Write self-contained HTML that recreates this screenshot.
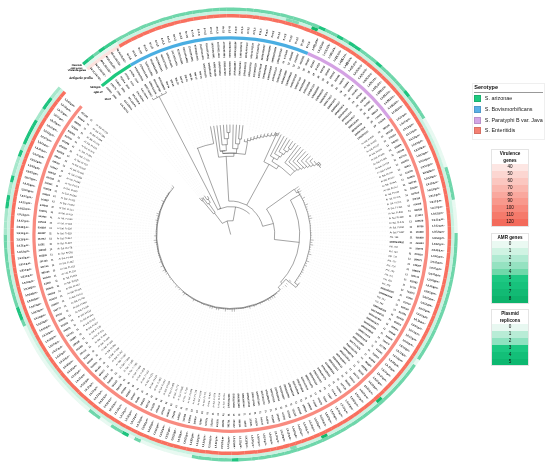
<!DOCTYPE html>
<html><head><meta charset="utf-8"><style>
html,body{margin:0;padding:0;background:#fff;width:550px;height:468px;overflow:hidden}
svg{position:absolute;left:0;top:0} text{text-rendering:geometricPrecision}
.lg{position:absolute;font-family:"Liberation Sans",Arial,sans-serif;color:#111}
</style></head><body>
<svg width="550" height="468" viewBox="0 0 550 468">
<rect width="550" height="468" fill="#fff"/>
<path d="M199.81,197.81L129.02,113.62M200.93,196.90L132.71,110.61M202.08,196.02L136.49,107.71M203.25,195.17L140.35,104.93M204.45,194.36L144.30,102.27M205.67,193.59L148.33,99.72M152.68,97.73L152.43,97.30M156.84,95.44L156.61,95.00M161.08,93.27L160.86,92.83M165.37,91.24L165.17,90.78M194.70,148.80L169.54,88.87M197.30,147.75L173.96,87.09M199.94,146.78L178.44,85.44M202.60,145.90L182.96,83.93M205.29,145.09L187.53,82.56M208.00,144.36L192.14,81.33M210.74,143.72L196.79,80.23M213.49,143.16L201.46,79.28M213.46,124.90L206.16,78.47M216.78,124.43L210.88,77.80M220.11,124.06L215.62,77.27M223.45,123.79L220.38,76.89M226.80,123.62L225.14,76.65M230.15,123.55L229.91,76.55M233.50,123.59L234.68,76.60M236.85,123.72L239.45,76.79M240.19,123.96L244.21,77.13M243.53,124.29L248.96,77.61M246.85,124.73L253.69,78.23M249.28,130.19L258.39,79.00M252.42,130.80L263.08,79.90M255.54,131.50L267.73,80.95M258.64,132.30L272.35,82.14M261.72,133.19L276.93,83.47M264.76,134.17L281.47,84.93M267.78,135.25L285.97,86.53M270.76,136.41L290.41,88.27M276.12,132.17L294.78,90.13M279.16,133.58L299.07,92.11M282.16,135.07L303.30,94.22M285.11,136.66L307.46,96.45M288.02,138.33L311.56,98.81M290.87,140.08L315.58,101.28M293.66,141.92L319.52,103.88M296.41,143.85L323.39,106.60M299.09,145.85L327.18,109.42M301.71,147.94L330.87,112.36M304.27,150.10L334.48,115.41M306.76,152.34L338.00,118.57M309.18,154.65L341.42,121.83M311.54,157.03L344.74,125.19M313.82,159.48L347.96,128.65M316.03,162.00L351.07,132.20M318.16,164.58L354.08,135.85M320.21,167.23L356.97,139.58M296.86,187.81L359.75,143.38M298.21,189.80L362.39,147.25M299.51,191.82L364.93,151.20M300.75,193.88L367.34,155.22M301.93,195.98L369.63,159.31M303.04,198.11L371.81,163.47M304.09,200.27L373.85,167.68M305.07,202.46L375.77,171.96M305.99,204.68L377.57,176.29M306.85,206.93L379.23,180.68M307.63,209.20L380.77,185.11M308.35,211.50L382.17,189.58M309.00,213.81L383.43,194.10M309.58,216.14L384.57,198.65M310.09,218.49L385.56,203.23M310.53,220.86L386.43,207.84M310.91,223.23L387.15,212.47M311.21,225.62L387.74,217.12M311.44,228.01L388.18,221.79M311.59,230.41L388.49,226.47M311.68,232.81L388.66,231.16M311.70,235.21L388.69,235.85M311.64,237.62L388.59,240.53M311.52,240.02L388.34,245.22M311.32,242.41L387.95,249.89M311.05,244.80L387.43,254.55M310.71,247.18L386.77,259.19M310.30,249.55L385.97,263.81M309.82,251.91L385.03,268.41M309.27,254.25L383.96,272.97M308.65,256.57L382.75,277.50M307.96,258.87L381.41,281.99M307.21,261.15L379.93,286.45M306.38,263.41L378.33,290.85M305.49,265.65L376.59,295.21M304.54,267.85L374.73,299.51M303.52,270.03L372.74,303.76M302.43,272.17L370.62,307.94M301.28,274.29L368.38,312.06M300.07,276.36L366.02,316.11M298.80,278.40L363.54,320.09M297.47,280.40L360.94,323.99M296.08,282.37L358.23,327.82M290.69,281.21L355.41,331.56M289.28,282.97L352.48,335.22M287.81,284.69L349.43,338.79M286.30,286.36L346.29,342.27M284.74,287.99L343.04,345.65M283.13,289.57L339.69,348.94M281.47,291.10L336.25,352.12M279.77,292.58L332.72,355.20M278.03,294.01L329.09,358.17M276.24,295.39L325.38,361.04M274.42,296.72L321.59,363.79M272.55,297.99L317.71,366.43M270.65,299.20L313.76,368.96M268.72,300.36L309.73,371.36M266.75,301.46L305.64,373.65M264.74,302.50L301.48,375.81M262.71,303.48L297.25,377.85M260.65,304.40L292.97,379.76M258.57,305.26L288.64,381.54M256.46,306.05L284.25,383.20M254.32,306.78L279.81,384.72M252.17,307.45L275.34,386.11M250.00,308.06L270.82,387.37M247.81,308.60L266.27,388.49M245.60,309.07L261.68,389.48M243.39,309.48L257.07,390.33M241.16,309.83L252.44,391.05M238.92,310.10L247.78,391.62M236.67,310.32L243.12,392.06M234.42,310.46L238.44,392.36M232.17,310.54L233.75,392.52M229.91,310.55L229.06,392.54M227.66,310.49L224.37,392.42M225.40,310.37L219.69,392.17M223.16,310.17L215.02,391.77M220.92,309.92L210.36,391.24M218.68,309.59L205.72,390.56M216.46,309.20L201.10,389.75M214.25,308.75L196.51,388.81M212.06,308.23L191.95,387.72M209.88,307.64L187.42,386.51M207.72,306.99L182.93,385.15M205.58,306.28L178.48,383.67M203.46,305.50L174.08,382.06M201.37,304.66L169.73,380.31M199.30,303.76L165.43,378.44M197.26,302.80L161.19,376.44M195.25,301.78L157.01,374.31M193.27,300.70L152.89,372.06M191.33,299.56L148.84,369.69M189.42,298.36L144.87,367.20M187.54,297.11L140.97,364.60M185.70,295.80L137.15,361.88M183.90,294.43L133.42,359.05M182.15,293.02L129.76,356.11M180.43,291.55L126.20,353.06M178.77,290.04L122.73,349.90M177.14,288.47L119.35,346.65M175.57,286.86L116.08,343.30M174.04,285.20L112.90,339.85M172.56,283.50L109.83,336.30M171.13,281.75L106.86,332.67M169.76,279.96L104.00,328.96M168.44,278.13L101.26,325.15M167.17,276.26L98.63,321.27M165.96,274.36L96.11,317.32M164.81,272.42L93.72,313.29M163.71,270.45L91.44,309.19M162.68,268.45L89.29,305.02M161.70,266.41L87.26,300.79M160.79,264.35L85.35,296.51M159.93,262.26L83.58,292.17M159.14,260.15L81.94,287.78M158.41,258.02L80.42,283.34M157.75,255.86L79.04,278.86M157.15,253.69L77.79,274.34M156.61,251.50L76.68,269.78M156.14,249.29L75.70,265.20M155.74,247.07L74.86,260.58M155.40,244.84L74.16,255.95M155.13,242.60L73.59,251.29M154.92,240.36L73.16,246.62M154.78,238.11L72.87,241.94M154.71,235.85L72.72,237.26M154.71,233.60L72.71,232.57M154.77,231.34L72.84,227.88M154.90,229.09L73.11,223.20M155.09,226.84L73.51,218.53M155.35,224.60L74.06,213.87M155.68,222.37L74.74,209.23M156.08,220.15L75.56,204.61M156.54,217.94L76.52,200.02M157.06,215.75L77.61,195.46M157.65,213.57L78.84,190.94M158.31,211.41L80.20,186.45M159.03,209.28L81.69,182.01M159.81,207.16L83.32,177.61M160.65,205.07L85.07,173.26M161.56,203.00L86.96,168.96M162.52,200.96L88.96,164.73M163.55,198.96L91.10,160.55M164.64,196.98L93.36,156.44M165.78,195.04L95.73,152.40M166.98,193.13L98.23,148.43M168.24,191.25L100.85,144.54M169.55,189.42L103.57,140.73M170.92,187.62L106.41,136.99M172.34,185.87L109.36,133.35" stroke="#e6e6e6" stroke-width="0.25" stroke-dasharray="1.6,1.2" fill="none"/>
<path d="M82.01,63.02A227.0,227.0 0 0 1 87.40,58.50L89.55,61.13A223.6,223.6 0 0 0 84.24,65.59Z" fill="#1ec47f"/>
<path d="M87.25,58.62A227.0,227.0 0 0 1 92.77,54.26L94.84,56.96A223.6,223.6 0 0 0 89.40,61.26Z" fill="#3dcc8f"/>
<path d="M92.62,54.38A227.0,227.0 0 0 1 98.27,50.18L100.25,52.95A223.6,223.6 0 0 0 94.68,57.08Z" fill="#6ed6aa"/>
<path d="M98.11,50.30A227.0,227.0 0 0 1 103.88,46.28L105.78,49.10A223.6,223.6 0 0 0 100.09,53.06Z" fill="#1ec47f"/>
<path d="M103.72,46.39A227.0,227.0 0 0 1 109.61,42.54L111.43,45.42A223.6,223.6 0 0 0 105.62,49.21Z" fill="#3dcc8f"/>
<path d="M109.45,42.65A227.0,227.0 0 0 1 115.45,38.98L117.18,41.91A223.6,223.6 0 0 0 111.26,45.52Z" fill="#3dcc8f"/>
<path d="M115.28,39.08A227.0,227.0 0 0 1 121.41,35.59L123.05,38.57A223.6,223.6 0 0 0 117.01,42.01Z" fill="#6ed6aa"/>
<path d="M121.24,35.69A227.0,227.0 0 0 1 127.47,32.38L129.01,35.41A223.6,223.6 0 0 0 122.88,38.66Z" fill="#6ed6aa"/>
<path d="M127.29,32.47A227.0,227.0 0 0 1 133.62,29.36L135.07,32.43A223.6,223.6 0 0 0 128.84,35.50Z" fill="#6ed6aa"/>
<path d="M133.44,29.44A227.0,227.0 0 0 1 139.86,26.52L141.22,29.64A223.6,223.6 0 0 0 134.90,32.51Z" fill="#6ed6aa"/>
<path d="M139.68,26.60A227.0,227.0 0 0 1 146.18,23.87L147.44,27.03A223.6,223.6 0 0 0 141.04,29.71Z" fill="#6ed6aa"/>
<path d="M146.00,23.95A227.0,227.0 0 0 1 152.58,21.42L153.75,24.61A223.6,223.6 0 0 0 147.26,27.10Z" fill="#6ed6aa"/>
<path d="M152.39,21.48A227.0,227.0 0 0 1 159.05,19.16L160.12,22.38A223.6,223.6 0 0 0 153.56,24.68Z" fill="#6ed6aa"/>
<path d="M158.86,19.22A227.0,227.0 0 0 1 165.58,17.09L166.56,20.35A223.6,223.6 0 0 0 159.94,22.44Z" fill="#6ed6aa"/>
<path d="M165.39,17.15A227.0,227.0 0 0 1 172.18,15.22L173.05,18.51A223.6,223.6 0 0 0 166.37,20.40Z" fill="#6ed6aa"/>
<path d="M171.99,15.27A227.0,227.0 0 0 1 178.83,13.56L179.60,16.87A223.6,223.6 0 0 0 172.87,18.56Z" fill="#6ed6aa"/>
<path d="M178.63,13.60A227.0,227.0 0 0 1 185.52,12.09L186.20,15.42A223.6,223.6 0 0 0 179.41,16.91Z" fill="#6ed6aa"/>
<path d="M185.33,12.13A227.0,227.0 0 0 1 192.26,10.83L192.83,14.18A223.6,223.6 0 0 0 186.01,15.46Z" fill="#6ed6aa"/>
<path d="M192.06,10.86A227.0,227.0 0 0 1 199.03,9.77L199.50,13.14A223.6,223.6 0 0 0 192.64,14.21Z" fill="#6ed6aa"/>
<path d="M198.83,9.80A227.0,227.0 0 0 1 205.83,8.92L206.20,12.30A223.6,223.6 0 0 0 199.31,13.16Z" fill="#6ed6aa"/>
<path d="M205.63,8.94A227.0,227.0 0 0 1 212.65,8.27L212.92,11.66A223.6,223.6 0 0 0 206.01,12.32Z" fill="#6ed6aa"/>
<path d="M212.46,8.28A227.0,227.0 0 0 1 219.49,7.83L219.66,11.22A223.6,223.6 0 0 0 212.73,11.67Z" fill="#6ed6aa"/>
<path d="M219.29,7.84A227.0,227.0 0 0 1 226.34,7.59L226.41,10.99A223.6,223.6 0 0 0 219.47,11.23Z" fill="#6ed6aa"/>
<path d="M226.14,7.60A227.0,227.0 0 0 1 233.20,7.56L233.16,10.96A223.6,223.6 0 0 0 226.21,11.00Z" fill="#6ed6aa"/>
<path d="M233.00,7.56A227.0,227.0 0 0 1 240.05,7.74L239.91,11.14A223.6,223.6 0 0 0 232.96,10.96Z" fill="#6ed6aa"/>
<path d="M239.85,7.73A227.0,227.0 0 0 1 246.89,8.13L246.65,11.52A223.6,223.6 0 0 0 239.71,11.13Z" fill="#6ed6aa"/>
<path d="M246.69,8.11A227.0,227.0 0 0 1 253.72,8.72L253.37,12.10A223.6,223.6 0 0 0 246.45,11.51Z" fill="#6ed6aa"/>
<path d="M253.52,8.70A227.0,227.0 0 0 1 260.53,9.52L260.08,12.89A223.6,223.6 0 0 0 253.18,12.08Z" fill="#6ed6aa"/>
<path d="M260.33,9.49A227.0,227.0 0 0 1 267.31,10.52L266.76,13.88A223.6,223.6 0 0 0 259.89,12.86Z" fill="#6ed6aa"/>
<path d="M267.11,10.49A227.0,227.0 0 0 1 274.05,11.73L273.40,15.07A223.6,223.6 0 0 0 266.56,13.85Z" fill="#6ed6aa"/>
<path d="M273.86,11.69A227.0,227.0 0 0 1 280.76,13.14L280.01,16.45A223.6,223.6 0 0 0 273.21,15.03Z" fill="#6ed6aa"/>
<path d="M280.57,13.09A227.0,227.0 0 0 1 287.42,14.75L286.57,18.04A223.6,223.6 0 0 0 279.82,16.41Z" fill="#6ed6aa"/>
<path d="M287.23,14.70A227.0,227.0 0 0 1 294.03,16.56L293.08,19.83A223.6,223.6 0 0 0 286.38,17.99Z" fill="#6ed6aa"/>
<path d="M293.84,16.51A227.0,227.0 0 0 1 300.58,18.57L299.54,21.81A223.6,223.6 0 0 0 292.90,19.77Z" fill="#6ed6aa"/>
<path d="M300.39,18.51A227.0,227.0 0 0 1 307.07,20.78L305.93,23.98A223.6,223.6 0 0 0 299.35,21.75Z" fill="#6ed6aa"/>
<path d="M306.88,20.72A227.0,227.0 0 0 1 313.49,23.19L312.25,26.35A223.6,223.6 0 0 0 305.74,23.92Z" fill="#6ed6aa"/>
<path d="M313.31,23.11A227.0,227.0 0 0 1 319.83,25.78L318.50,28.91A223.6,223.6 0 0 0 312.07,26.28Z" fill="#6ed6aa"/>
<path d="M319.65,25.70A227.0,227.0 0 0 1 326.04,28.54L324.61,31.63A223.6,223.6 0 0 0 318.32,28.83Z" fill="#1ec47f"/>
<path d="M325.86,28.46A227.0,227.0 0 0 1 332.15,31.48L330.63,34.52A223.6,223.6 0 0 0 324.43,31.54Z" fill="#6ed6aa"/>
<path d="M331.98,31.39A227.0,227.0 0 0 1 338.18,34.61L336.57,37.60A223.6,223.6 0 0 0 330.46,34.44Z" fill="#6ed6aa"/>
<path d="M338.00,34.51A227.0,227.0 0 0 1 344.11,37.91L342.41,40.85A223.6,223.6 0 0 0 336.40,37.51Z" fill="#1ec47f"/>
<path d="M343.94,37.81A227.0,227.0 0 0 1 349.94,41.39L348.15,44.28A223.6,223.6 0 0 0 342.24,40.76Z" fill="#6ed6aa"/>
<path d="M349.77,41.28A227.0,227.0 0 0 1 355.66,45.04L353.79,47.88A223.6,223.6 0 0 0 347.99,44.18Z" fill="#1ec47f"/>
<path d="M355.49,44.93A227.0,227.0 0 0 1 361.27,48.86L359.31,51.64A223.6,223.6 0 0 0 353.62,47.77Z" fill="#1ec47f"/>
<path d="M361.11,48.75A227.0,227.0 0 0 1 366.76,52.85L364.72,55.57A223.6,223.6 0 0 0 359.15,51.53Z" fill="#6ed6aa"/>
<path d="M366.60,52.73A227.0,227.0 0 0 1 372.13,57.00L370.02,59.66A223.6,223.6 0 0 0 364.57,55.45Z" fill="#6ed6aa"/>
<path d="M371.98,56.87A227.0,227.0 0 0 1 377.38,61.30L375.18,63.90A223.6,223.6 0 0 0 369.86,59.53Z" fill="#6ed6aa"/>
<path d="M377.23,61.18A227.0,227.0 0 0 1 382.49,65.77L380.22,68.30A223.6,223.6 0 0 0 375.03,63.77Z" fill="#1ec47f"/>
<path d="M382.35,65.64A227.0,227.0 0 0 1 387.47,70.38L385.12,72.84A223.6,223.6 0 0 0 380.08,68.17Z" fill="#6ed6aa"/>
<path d="M387.33,70.24A227.0,227.0 0 0 1 392.31,75.14L389.89,77.53A223.6,223.6 0 0 0 384.98,72.71Z" fill="#6ed6aa"/>
<path d="M392.17,75.00A227.0,227.0 0 0 1 397.01,80.05L394.51,82.36A223.6,223.6 0 0 0 389.75,77.39Z" fill="#6ed6aa"/>
<path d="M396.87,79.90A227.0,227.0 0 0 1 401.55,85.09L398.99,87.33A223.6,223.6 0 0 0 394.38,82.22Z" fill="#6ed6aa"/>
<path d="M401.42,84.94A227.0,227.0 0 0 1 405.94,90.26L403.32,92.42A223.6,223.6 0 0 0 398.86,87.18Z" fill="#6ed6aa"/>
<path d="M405.82,90.11A227.0,227.0 0 0 1 410.18,95.57L407.49,97.65A223.6,223.6 0 0 0 403.19,92.27Z" fill="#1ec47f"/>
<path d="M410.06,95.41A227.0,227.0 0 0 1 414.25,100.99L411.50,102.99A223.6,223.6 0 0 0 407.37,97.49Z" fill="#6ed6aa"/>
<path d="M414.14,100.83A227.0,227.0 0 0 1 418.14,106.50L415.33,108.42A223.6,223.6 0 0 0 411.39,102.84Z" fill="#6ed6aa"/>
<path d="M418.02,106.34A227.0,227.0 0 0 1 421.85,112.12L418.99,113.95A223.6,223.6 0 0 0 415.22,108.26Z" fill="#6ed6aa"/>
<path d="M421.75,111.95A227.0,227.0 0 0 1 425.40,117.84L422.49,119.59A223.6,223.6 0 0 0 418.88,113.79Z" fill="#6ed6aa"/>
<path d="M425.30,117.68A227.0,227.0 0 0 1 428.78,123.67L425.81,125.33A223.6,223.6 0 0 0 422.39,119.43Z" fill="#e8f9f1"/>
<path d="M428.68,123.50A227.0,227.0 0 0 1 431.98,129.60L428.97,131.17A223.6,223.6 0 0 0 425.72,125.16Z" fill="#e8f9f1"/>
<path d="M431.89,129.43A227.0,227.0 0 0 1 435.01,135.62L431.95,137.10A223.6,223.6 0 0 0 428.88,131.00Z" fill="#e8f9f1"/>
<path d="M434.92,135.44A227.0,227.0 0 0 1 437.85,141.73L434.75,143.12A223.6,223.6 0 0 0 431.86,136.93Z" fill="#e8f9f1"/>
<path d="M437.77,141.55A227.0,227.0 0 0 1 440.52,147.91L437.37,149.21A223.6,223.6 0 0 0 434.67,142.94Z" fill="#e8f9f1"/>
<path d="M440.44,147.73A227.0,227.0 0 0 1 443.00,154.18L439.82,155.38A223.6,223.6 0 0 0 437.30,149.03Z" fill="#e8f9f1"/>
<path d="M442.93,153.99A227.0,227.0 0 0 1 445.29,160.51L442.07,161.62A223.6,223.6 0 0 0 439.75,155.20Z" fill="#e8f9f1"/>
<path d="M445.22,160.33A227.0,227.0 0 0 1 447.39,166.91L444.14,167.93A223.6,223.6 0 0 0 442.01,161.44Z" fill="#e8f9f1"/>
<path d="M447.33,166.72A227.0,227.0 0 0 1 449.30,173.37L446.03,174.29A223.6,223.6 0 0 0 444.09,167.74Z" fill="#6ed6aa"/>
<path d="M449.25,173.18A227.0,227.0 0 0 1 451.02,179.89L447.72,180.71A223.6,223.6 0 0 0 445.97,174.10Z" fill="#6ed6aa"/>
<path d="M450.97,179.70A227.0,227.0 0 0 1 452.55,186.45L449.22,187.17A223.6,223.6 0 0 0 447.67,180.52Z" fill="#6ed6aa"/>
<path d="M452.50,186.26A227.0,227.0 0 0 1 453.87,193.05L450.53,193.68A223.6,223.6 0 0 0 449.18,186.98Z" fill="#6ed6aa"/>
<path d="M453.84,192.86A227.0,227.0 0 0 1 455.01,199.69L451.65,200.22A223.6,223.6 0 0 0 450.50,193.48Z" fill="#6ed6aa"/>
<path d="M454.98,199.50A227.0,227.0 0 0 1 455.94,206.37L452.57,206.79A223.6,223.6 0 0 0 451.62,200.02Z" fill="#e8f9f1"/>
<path d="M455.92,206.17A227.0,227.0 0 0 1 456.68,213.06L453.30,213.38A223.6,223.6 0 0 0 452.55,206.59Z" fill="#e8f9f1"/>
<path d="M456.66,212.87A227.0,227.0 0 0 1 457.22,219.78L453.83,220.00A223.6,223.6 0 0 0 453.28,213.19Z" fill="#e8f9f1"/>
<path d="M457.21,219.58A227.0,227.0 0 0 1 457.56,226.51L454.16,226.63A223.6,223.6 0 0 0 453.81,219.80Z" fill="#e8f9f1"/>
<path d="M457.55,226.31A227.0,227.0 0 0 1 457.70,233.24L454.30,233.26A223.6,223.6 0 0 0 454.15,226.43Z" fill="#e8f9f1"/>
<path d="M457.70,233.04A227.0,227.0 0 0 1 457.64,239.98L454.24,239.90A223.6,223.6 0 0 0 454.30,233.07Z" fill="#6ed6aa"/>
<path d="M457.64,239.78A227.0,227.0 0 0 1 457.37,246.71L453.98,246.53A223.6,223.6 0 0 0 454.24,239.70Z" fill="#6ed6aa"/>
<path d="M457.38,246.51A227.0,227.0 0 0 1 456.91,253.43L453.53,253.15A223.6,223.6 0 0 0 453.99,246.33Z" fill="#6ed6aa"/>
<path d="M456.93,253.23A227.0,227.0 0 0 1 456.25,260.14L452.88,259.75A223.6,223.6 0 0 0 453.54,252.95Z" fill="#6ed6aa"/>
<path d="M456.28,259.94A227.0,227.0 0 0 1 455.39,266.82L452.03,266.33A223.6,223.6 0 0 0 452.90,259.56Z" fill="#6ed6aa"/>
<path d="M455.42,266.62A227.0,227.0 0 0 1 454.34,273.47L450.99,272.89A223.6,223.6 0 0 0 452.06,266.14Z" fill="#6ed6aa"/>
<path d="M454.37,273.28A227.0,227.0 0 0 1 453.09,280.09L449.75,279.41A223.6,223.6 0 0 0 451.02,272.70Z" fill="#6ed6aa"/>
<path d="M453.12,279.90A227.0,227.0 0 0 1 451.64,286.67L448.33,285.89A223.6,223.6 0 0 0 449.79,279.22Z" fill="#6ed6aa"/>
<path d="M451.68,286.48A227.0,227.0 0 0 1 449.99,293.20L446.71,292.32A223.6,223.6 0 0 0 448.37,285.70Z" fill="#6ed6aa"/>
<path d="M450.04,293.01A227.0,227.0 0 0 1 448.15,299.68L444.90,298.71A223.6,223.6 0 0 0 446.76,292.14Z" fill="#6ed6aa"/>
<path d="M448.21,299.49A227.0,227.0 0 0 1 446.13,306.11L442.90,305.04A223.6,223.6 0 0 0 444.95,298.52Z" fill="#6ed6aa"/>
<path d="M446.19,305.92A227.0,227.0 0 0 1 443.91,312.47L440.71,311.30A223.6,223.6 0 0 0 442.96,304.85Z" fill="#6ed6aa"/>
<path d="M443.98,312.28A227.0,227.0 0 0 1 441.50,318.76L438.34,317.50A223.6,223.6 0 0 0 440.78,311.12Z" fill="#6ed6aa"/>
<path d="M441.58,318.58A227.0,227.0 0 0 1 438.91,324.98L435.79,323.63A223.6,223.6 0 0 0 438.42,317.32Z" fill="#6ed6aa"/>
<path d="M438.99,324.80A227.0,227.0 0 0 1 436.14,331.12L433.06,329.67A223.6,223.6 0 0 0 435.87,323.45Z" fill="#6ed6aa"/>
<path d="M436.22,330.94A227.0,227.0 0 0 1 433.18,337.17L430.15,335.63A223.6,223.6 0 0 0 433.14,329.50Z" fill="#6ed6aa"/>
<path d="M433.27,337.00A227.0,227.0 0 0 1 430.04,343.14L427.06,341.51A223.6,223.6 0 0 0 430.23,335.46Z" fill="#6ed6aa"/>
<path d="M430.14,342.96A227.0,227.0 0 0 1 426.73,349.00L423.80,347.29A223.6,223.6 0 0 0 427.15,341.34Z" fill="#6ed6aa"/>
<path d="M426.83,348.83A227.0,227.0 0 0 1 423.25,354.77L420.37,352.97A223.6,223.6 0 0 0 423.90,347.12Z" fill="#6ed6aa"/>
<path d="M423.36,354.60A227.0,227.0 0 0 1 419.60,360.43L416.77,358.55A223.6,223.6 0 0 0 420.47,352.80Z" fill="#6ed6aa"/>
<path d="M419.71,360.27A227.0,227.0 0 0 1 415.78,365.98L413.01,364.01A223.6,223.6 0 0 0 416.88,358.38Z" fill="#e8f9f1"/>
<path d="M415.90,365.82A227.0,227.0 0 0 1 411.80,371.41L409.09,369.36A223.6,223.6 0 0 0 413.12,363.85Z" fill="#6ed6aa"/>
<path d="M411.92,371.26A227.0,227.0 0 0 1 407.66,376.73L405.01,374.60A223.6,223.6 0 0 0 409.20,369.21Z" fill="#6ed6aa"/>
<path d="M407.78,376.57A227.0,227.0 0 0 1 403.36,381.92L400.78,379.71A223.6,223.6 0 0 0 405.13,374.45Z" fill="#6ed6aa"/>
<path d="M403.49,381.77A227.0,227.0 0 0 1 398.91,386.98L396.39,384.69A223.6,223.6 0 0 0 400.90,379.56Z" fill="#6ed6aa"/>
<path d="M399.05,386.83A227.0,227.0 0 0 1 394.32,391.90L391.86,389.54A223.6,223.6 0 0 0 396.52,384.55Z" fill="#6ed6aa"/>
<path d="M394.45,391.76A227.0,227.0 0 0 1 389.57,396.69L387.19,394.26A223.6,223.6 0 0 0 392.00,389.40Z" fill="#6ed6aa"/>
<path d="M389.72,396.55A227.0,227.0 0 0 1 384.69,401.33L382.39,398.83A223.6,223.6 0 0 0 387.33,394.12Z" fill="#6ed6aa"/>
<path d="M384.84,401.19A227.0,227.0 0 0 1 379.68,405.83L377.44,403.26A223.6,223.6 0 0 0 382.53,398.70Z" fill="#6ed6aa"/>
<path d="M379.83,405.70A227.0,227.0 0 0 1 374.53,410.17L372.37,407.54A223.6,223.6 0 0 0 377.59,403.13Z" fill="#6ed6aa"/>
<path d="M374.68,410.05A227.0,227.0 0 0 1 369.25,414.36L367.18,411.67A223.6,223.6 0 0 0 372.52,407.42Z" fill="#6ed6aa"/>
<path d="M369.41,414.24A227.0,227.0 0 0 1 363.86,418.39L361.86,415.64A223.6,223.6 0 0 0 367.33,411.55Z" fill="#6ed6aa"/>
<path d="M364.02,418.28A227.0,227.0 0 0 1 358.34,422.26L356.43,419.45A223.6,223.6 0 0 0 362.02,415.53Z" fill="#6ed6aa"/>
<path d="M358.51,422.15A227.0,227.0 0 0 1 352.72,425.97L350.89,423.10A223.6,223.6 0 0 0 356.59,419.34Z" fill="#6ed6aa"/>
<path d="M352.88,425.86A227.0,227.0 0 0 1 346.98,429.51L345.24,426.59A223.6,223.6 0 0 0 351.05,423.00Z" fill="#6ed6aa"/>
<path d="M347.15,429.40A227.0,227.0 0 0 1 341.15,432.87L339.49,429.90A223.6,223.6 0 0 0 345.41,426.49Z" fill="#6ed6aa"/>
<path d="M341.32,432.77A227.0,227.0 0 0 1 335.21,436.06L333.65,433.04A223.6,223.6 0 0 0 339.66,429.80Z" fill="#6ed6aa"/>
<path d="M335.39,435.97A227.0,227.0 0 0 1 329.19,439.07L327.71,436.01A223.6,223.6 0 0 0 333.82,432.95Z" fill="#6ed6aa"/>
<path d="M329.36,438.99A227.0,227.0 0 0 1 323.07,441.91L321.69,438.80A223.6,223.6 0 0 0 327.89,435.92Z" fill="#6ed6aa"/>
<path d="M323.25,441.82A227.0,227.0 0 0 1 316.88,444.55L315.59,441.41A223.6,223.6 0 0 0 321.87,438.72Z" fill="#6ed6aa"/>
<path d="M317.06,444.48A227.0,227.0 0 0 1 310.61,447.02L309.41,443.84A223.6,223.6 0 0 0 315.77,441.34Z" fill="#6ed6aa"/>
<path d="M310.80,446.95A227.0,227.0 0 0 1 304.27,449.30L303.17,446.08A223.6,223.6 0 0 0 309.60,443.77Z" fill="#6ed6aa"/>
<path d="M304.46,449.23A227.0,227.0 0 0 1 297.86,451.39L296.86,448.14A223.6,223.6 0 0 0 303.35,446.02Z" fill="#6ed6aa"/>
<path d="M298.05,451.33A227.0,227.0 0 0 1 291.40,453.28L290.49,450.01A223.6,223.6 0 0 0 297.05,448.08Z" fill="#6ed6aa"/>
<path d="M291.59,453.23A227.0,227.0 0 0 1 284.88,454.99L284.07,451.69A223.6,223.6 0 0 0 290.68,449.96Z" fill="#6ed6aa"/>
<path d="M285.08,454.94A227.0,227.0 0 0 1 278.32,456.50L277.60,453.18A223.6,223.6 0 0 0 284.26,451.64Z" fill="#6ed6aa"/>
<path d="M278.51,456.46A227.0,227.0 0 0 1 271.71,457.81L271.10,454.47A223.6,223.6 0 0 0 277.80,453.13Z" fill="#6ed6aa"/>
<path d="M271.91,457.78A227.0,227.0 0 0 1 265.07,458.93L264.55,455.57A223.6,223.6 0 0 0 271.29,454.44Z" fill="#6ed6aa"/>
<path d="M265.26,458.90A227.0,227.0 0 0 1 258.39,459.85L257.98,456.48A223.6,223.6 0 0 0 264.75,455.54Z" fill="#6ed6aa"/>
<path d="M258.59,459.83A227.0,227.0 0 0 1 251.70,460.58L251.38,457.19A223.6,223.6 0 0 0 258.17,456.46Z" fill="#6ed6aa"/>
<path d="M251.89,460.56A227.0,227.0 0 0 1 244.98,461.10L244.77,457.71A223.6,223.6 0 0 0 251.58,457.17Z" fill="#6ed6aa"/>
<path d="M245.18,461.09A227.0,227.0 0 0 1 238.25,461.42L238.14,458.03A223.6,223.6 0 0 0 244.96,457.69Z" fill="#6ed6aa"/>
<path d="M238.45,461.42A227.0,227.0 0 0 1 231.51,461.55L231.50,458.15A223.6,223.6 0 0 0 238.33,458.02Z" fill="#1ec47f"/>
<path d="M231.71,461.55A227.0,227.0 0 0 1 224.78,461.47L224.87,458.07A223.6,223.6 0 0 0 231.70,458.15Z" fill="#6ed6aa"/>
<path d="M224.98,461.48A227.0,227.0 0 0 1 218.05,461.20L218.24,457.80A223.6,223.6 0 0 0 225.06,458.08Z" fill="#6ed6aa"/>
<path d="M218.25,461.21A227.0,227.0 0 0 1 211.33,460.72L211.62,457.33A223.6,223.6 0 0 0 218.43,457.81Z" fill="#6ed6aa"/>
<path d="M211.52,460.74A227.0,227.0 0 0 1 204.62,460.05L205.01,456.67A223.6,223.6 0 0 0 211.81,457.35Z" fill="#6ed6aa"/>
<path d="M204.82,460.07A227.0,227.0 0 0 1 197.94,459.17L198.43,455.81A223.6,223.6 0 0 0 205.21,456.69Z" fill="#6ed6aa"/>
<path d="M198.14,459.20A227.0,227.0 0 0 1 191.29,458.10L191.88,454.75A223.6,223.6 0 0 0 198.63,455.84Z" fill="#6ed6aa"/>
<path d="M191.49,458.14A227.0,227.0 0 0 1 184.68,456.84L185.37,453.51A223.6,223.6 0 0 0 192.08,454.79Z" fill="#e8f9f1"/>
<path d="M184.87,456.88A227.0,227.0 0 0 1 178.10,455.37L178.89,452.06A223.6,223.6 0 0 0 185.56,453.55Z" fill="#e8f9f1"/>
<path d="M178.29,455.42A227.0,227.0 0 0 1 171.57,453.71L172.46,450.43A223.6,223.6 0 0 0 179.08,452.11Z" fill="#e8f9f1"/>
<path d="M171.76,453.77A227.0,227.0 0 0 1 165.09,451.86L166.08,448.61A223.6,223.6 0 0 0 172.65,450.48Z" fill="#e8f9f1"/>
<path d="M165.28,451.92A227.0,227.0 0 0 1 158.67,449.82L159.75,446.60A223.6,223.6 0 0 0 166.26,448.66Z" fill="#e8f9f1"/>
<path d="M158.86,449.88A227.0,227.0 0 0 1 152.32,447.59L153.49,444.40A223.6,223.6 0 0 0 159.94,446.66Z" fill="#e8f9f1"/>
<path d="M152.50,447.66A227.0,227.0 0 0 1 146.03,445.17L147.30,442.01A223.6,223.6 0 0 0 153.67,444.46Z" fill="#e8f9f1"/>
<path d="M146.21,445.24A227.0,227.0 0 0 1 139.82,442.56L141.18,439.45A223.6,223.6 0 0 0 147.48,442.09Z" fill="#e8f9f1"/>
<path d="M140.00,442.64A227.0,227.0 0 0 1 133.69,439.77L135.14,436.70A223.6,223.6 0 0 0 141.36,439.53Z" fill="#6ed6aa"/>
<path d="M133.86,439.86A227.0,227.0 0 0 1 127.64,436.81L129.18,433.78A223.6,223.6 0 0 0 135.31,436.78Z" fill="#e8f9f1"/>
<path d="M127.81,436.90A227.0,227.0 0 0 1 121.68,433.66L123.31,430.68A223.6,223.6 0 0 0 129.36,433.86Z" fill="#1ec47f"/>
<path d="M121.86,433.75A227.0,227.0 0 0 1 115.82,430.34L117.54,427.40A223.6,223.6 0 0 0 123.49,430.77Z" fill="#6ed6aa"/>
<path d="M115.99,430.44A227.0,227.0 0 0 1 110.06,426.84L111.87,423.96A223.6,223.6 0 0 0 117.71,427.50Z" fill="#6ed6aa"/>
<path d="M110.23,426.95A227.0,227.0 0 0 1 104.41,423.18L106.30,420.35A223.6,223.6 0 0 0 112.03,424.06Z" fill="#e8f9f1"/>
<path d="M104.57,423.29A227.0,227.0 0 0 1 98.87,419.34L100.84,416.58A223.6,223.6 0 0 0 106.46,420.46Z" fill="#e8f9f1"/>
<path d="M99.03,419.46A227.0,227.0 0 0 1 93.44,415.35L95.50,412.64A223.6,223.6 0 0 0 101.00,416.69Z" fill="#6ed6aa"/>
<path d="M93.60,415.47A227.0,227.0 0 0 1 88.14,411.20L90.27,408.55A223.6,223.6 0 0 0 95.65,412.76Z" fill="#6ed6aa"/>
<path d="M88.29,411.32A227.0,227.0 0 0 1 82.96,406.89L85.17,404.31A223.6,223.6 0 0 0 90.42,408.68Z" fill="#e8f9f1"/>
<path d="M83.11,407.02A227.0,227.0 0 0 1 77.91,402.43L80.20,399.92A223.6,223.6 0 0 0 85.32,404.44Z" fill="#e8f9f1"/>
<path d="M78.06,402.56A227.0,227.0 0 0 1 72.99,397.82L75.36,395.38A223.6,223.6 0 0 0 80.34,400.05Z" fill="#e8f9f1"/>
<path d="M73.14,397.96A227.0,227.0 0 0 1 68.22,393.07L70.65,390.70A223.6,223.6 0 0 0 75.50,395.51Z" fill="#e8f9f1"/>
<path d="M68.36,393.21A227.0,227.0 0 0 1 63.59,388.18L66.09,385.88A223.6,223.6 0 0 0 70.79,390.84Z" fill="#e8f9f1"/>
<path d="M63.72,388.33A227.0,227.0 0 0 1 59.10,383.15L61.67,380.93A223.6,223.6 0 0 0 66.22,386.02Z" fill="#e8f9f1"/>
<path d="M59.23,383.30A227.0,227.0 0 0 1 54.77,378.00L57.40,375.85A223.6,223.6 0 0 0 61.80,381.07Z" fill="#e8f9f1"/>
<path d="M54.89,378.15A227.0,227.0 0 0 1 50.59,372.71L53.29,370.64A223.6,223.6 0 0 0 57.53,376.00Z" fill="#e8f9f1"/>
<path d="M50.71,372.87A227.0,227.0 0 0 1 46.57,367.31L49.33,365.32A223.6,223.6 0 0 0 53.40,370.80Z" fill="#e8f9f1"/>
<path d="M46.68,367.47A227.0,227.0 0 0 1 42.71,361.78L45.52,359.88A223.6,223.6 0 0 0 49.44,365.48Z" fill="#e8f9f1"/>
<path d="M42.82,361.95A227.0,227.0 0 0 1 39.02,356.15L41.89,354.33A223.6,223.6 0 0 0 45.63,360.04Z" fill="#e8f9f1"/>
<path d="M39.12,356.32A227.0,227.0 0 0 1 35.49,350.41L38.42,348.67A223.6,223.6 0 0 0 41.99,354.49Z" fill="#e8f9f1"/>
<path d="M35.59,350.58A227.0,227.0 0 0 1 32.14,344.56L35.11,342.92A223.6,223.6 0 0 0 38.52,348.84Z" fill="#e8f9f1"/>
<path d="M32.24,344.74A227.0,227.0 0 0 1 28.96,338.62L31.98,337.06A223.6,223.6 0 0 0 35.21,343.09Z" fill="#e8f9f1"/>
<path d="M29.05,338.80A227.0,227.0 0 0 1 25.96,332.59L29.03,331.12A223.6,223.6 0 0 0 32.07,337.24Z" fill="#e8f9f1"/>
<path d="M26.05,332.77A227.0,227.0 0 0 1 23.14,326.47L26.25,325.10A223.6,223.6 0 0 0 29.11,331.30Z" fill="#e8f9f1"/>
<path d="M23.22,326.65A227.0,227.0 0 0 1 20.51,320.27L23.66,318.99A223.6,223.6 0 0 0 26.33,325.27Z" fill="#6ed6aa"/>
<path d="M20.58,320.46A227.0,227.0 0 0 1 18.06,314.00L21.24,312.81A223.6,223.6 0 0 0 23.73,319.17Z" fill="#1ec47f"/>
<path d="M18.13,314.18A227.0,227.0 0 0 1 15.79,307.65L19.01,306.56A223.6,223.6 0 0 0 21.31,312.99Z" fill="#1ec47f"/>
<path d="M15.86,307.84A227.0,227.0 0 0 1 13.72,301.24L16.97,300.24A223.6,223.6 0 0 0 19.07,306.74Z" fill="#6ed6aa"/>
<path d="M13.78,301.43A227.0,227.0 0 0 1 11.83,294.78L15.11,293.87A223.6,223.6 0 0 0 17.03,300.43Z" fill="#6ed6aa"/>
<path d="M11.89,294.97A227.0,227.0 0 0 1 10.14,288.25L13.45,287.45A223.6,223.6 0 0 0 15.16,294.06Z" fill="#6ed6aa"/>
<path d="M10.19,288.45A227.0,227.0 0 0 1 8.65,281.69L11.97,280.98A223.6,223.6 0 0 0 13.49,287.64Z" fill="#6ed6aa"/>
<path d="M8.69,281.88A227.0,227.0 0 0 1 7.35,275.08L10.69,274.47A223.6,223.6 0 0 0 12.01,281.17Z" fill="#6ed6aa"/>
<path d="M7.38,275.27A227.0,227.0 0 0 1 6.24,268.43L9.60,267.92A223.6,223.6 0 0 0 10.73,274.66Z" fill="#6ed6aa"/>
<path d="M6.27,268.63A227.0,227.0 0 0 1 5.34,261.75L8.71,261.35A223.6,223.6 0 0 0 9.63,268.12Z" fill="#6ed6aa"/>
<path d="M5.36,261.95A227.0,227.0 0 0 1 4.63,255.05L8.01,254.75A223.6,223.6 0 0 0 8.73,261.54Z" fill="#6ed6aa"/>
<path d="M4.65,255.25A227.0,227.0 0 0 1 4.12,248.34L7.51,248.13A223.6,223.6 0 0 0 8.03,254.94Z" fill="#6ed6aa"/>
<path d="M4.13,248.53A227.0,227.0 0 0 1 3.81,241.61L7.21,241.50A223.6,223.6 0 0 0 7.52,248.33Z" fill="#6ed6aa"/>
<path d="M3.82,241.81A227.0,227.0 0 0 1 3.70,234.87L7.10,234.87A223.6,223.6 0 0 0 7.21,241.70Z" fill="#6ed6aa"/>
<path d="M3.70,235.07A227.0,227.0 0 0 1 3.79,228.14L7.19,228.23A223.6,223.6 0 0 0 7.10,235.06Z" fill="#a6e7cb"/>
<path d="M3.79,228.33A227.0,227.0 0 0 1 4.08,221.40L7.48,221.60A223.6,223.6 0 0 0 7.18,228.43Z" fill="#a6e7cb"/>
<path d="M4.07,221.60A227.0,227.0 0 0 1 4.57,214.69L7.96,214.98A223.6,223.6 0 0 0 7.46,221.80Z" fill="#a6e7cb"/>
<path d="M4.55,214.88A227.0,227.0 0 0 1 5.26,207.98L8.64,208.38A223.6,223.6 0 0 0 7.94,215.18Z" fill="#a6e7cb"/>
<path d="M5.24,208.18A227.0,227.0 0 0 1 6.15,201.31L9.51,201.80A223.6,223.6 0 0 0 8.61,208.58Z" fill="#1ec47f"/>
<path d="M6.12,201.50A227.0,227.0 0 0 1 7.23,194.66L10.58,195.25A223.6,223.6 0 0 0 9.48,202.00Z" fill="#1ec47f"/>
<path d="M7.20,194.85A227.0,227.0 0 0 1 8.52,188.04L11.84,188.74A223.6,223.6 0 0 0 10.55,195.45Z" fill="#a6e7cb"/>
<path d="M8.47,188.24A227.0,227.0 0 0 1 9.99,181.47L13.30,182.27A223.6,223.6 0 0 0 11.80,188.93Z" fill="#a6e7cb"/>
<path d="M9.95,181.66A227.0,227.0 0 0 1 11.67,174.94L14.95,175.84A223.6,223.6 0 0 0 13.25,182.46Z" fill="#1ec47f"/>
<path d="M11.61,175.14A227.0,227.0 0 0 1 13.53,168.47L16.78,169.46A223.6,223.6 0 0 0 14.89,176.03Z" fill="#a6e7cb"/>
<path d="M13.47,168.66A227.0,227.0 0 0 1 15.59,162.06L18.81,163.14A223.6,223.6 0 0 0 16.73,169.65Z" fill="#a6e7cb"/>
<path d="M15.52,162.24A227.0,227.0 0 0 1 17.83,155.70L21.02,156.89A223.6,223.6 0 0 0 18.75,163.33Z" fill="#a6e7cb"/>
<path d="M17.76,155.89A227.0,227.0 0 0 1 20.27,149.42L23.42,150.70A223.6,223.6 0 0 0 20.95,157.07Z" fill="#1ec47f"/>
<path d="M20.19,149.61A227.0,227.0 0 0 1 22.89,143.22L26.00,144.58A223.6,223.6 0 0 0 23.35,150.88Z" fill="#a6e7cb"/>
<path d="M22.81,143.40A227.0,227.0 0 0 1 25.69,137.09L28.76,138.55A223.6,223.6 0 0 0 25.92,144.76Z" fill="#1ec47f"/>
<path d="M25.60,137.27A227.0,227.0 0 0 1 28.67,131.05L31.70,132.60A223.6,223.6 0 0 0 28.67,138.73Z" fill="#1ec47f"/>
<path d="M28.58,131.22A227.0,227.0 0 0 1 31.83,125.10L34.81,126.74A223.6,223.6 0 0 0 31.61,132.77Z" fill="#1ec47f"/>
<path d="M31.73,125.27A227.0,227.0 0 0 1 35.16,119.25L38.09,120.97A223.6,223.6 0 0 0 34.71,126.91Z" fill="#1ec47f"/>
<path d="M35.06,119.42A227.0,227.0 0 0 1 38.67,113.49L41.55,115.31A223.6,223.6 0 0 0 37.99,121.14Z" fill="#a6e7cb"/>
<path d="M38.57,113.66A227.0,227.0 0 0 1 42.35,107.85L45.17,109.75A223.6,223.6 0 0 0 41.44,115.47Z" fill="#a6e7cb"/>
<path d="M42.24,108.01A227.0,227.0 0 0 1 46.19,102.32L48.96,104.30A223.6,223.6 0 0 0 45.06,109.91Z" fill="#1ec47f"/>
<path d="M46.08,102.48A227.0,227.0 0 0 1 50.20,96.90L52.90,98.96A223.6,223.6 0 0 0 48.84,104.46Z" fill="#1ec47f"/>
<path d="M50.08,97.06A227.0,227.0 0 0 1 54.36,91.60L57.00,93.74A223.6,223.6 0 0 0 52.78,99.12Z" fill="#a6e7cb"/>
<path d="M54.24,91.76A227.0,227.0 0 0 1 58.68,86.43L61.26,88.65A223.6,223.6 0 0 0 56.88,93.90Z" fill="#a6e7cb"/>
<path d="M84.21,65.55A223.65,223.65 0 0 1 89.52,61.09L91.51,63.54A220.5,220.5 0 0 0 86.27,67.93Z" fill="#e2f7ee"/>
<path d="M89.37,61.22A223.65,223.65 0 0 1 94.81,56.92L96.72,59.42A220.5,220.5 0 0 0 91.36,63.66Z" fill="#e2f7ee"/>
<path d="M94.65,57.04A223.65,223.65 0 0 1 100.22,52.90L102.06,55.46A220.5,220.5 0 0 0 96.57,59.54Z" fill="#e2f7ee"/>
<path d="M100.06,53.02A223.65,223.65 0 0 1 105.76,49.06L107.51,51.67A220.5,220.5 0 0 0 101.90,55.58Z" fill="#e2f7ee"/>
<path d="M105.59,49.16A223.65,223.65 0 0 1 111.40,45.38L113.08,48.04A220.5,220.5 0 0 0 107.36,51.78Z" fill="#e2f7ee"/>
<path d="M111.24,45.48A223.65,223.65 0 0 1 117.16,41.87L118.75,44.58A220.5,220.5 0 0 0 112.92,48.14Z" fill="#e2f7ee"/>
<path d="M116.99,41.97A223.65,223.65 0 0 1 123.02,38.53L124.54,41.29A220.5,220.5 0 0 0 118.59,44.68Z" fill="#c9f2e1"/>
<path d="M122.85,38.62A223.65,223.65 0 0 1 128.99,35.37L130.42,38.17A220.5,220.5 0 0 0 124.37,41.38Z" fill="#c9f2e1"/>
<path d="M128.82,35.45A223.65,223.65 0 0 1 135.05,32.39L136.40,35.23A220.5,220.5 0 0 0 130.25,38.26Z" fill="#c9f2e1"/>
<path d="M134.87,32.47A223.65,223.65 0 0 1 141.20,29.59L142.46,32.48A220.5,220.5 0 0 0 136.22,35.32Z" fill="#c9f2e1"/>
<path d="M141.02,29.67A223.65,223.65 0 0 1 147.43,26.98L148.60,29.90A220.5,220.5 0 0 0 142.28,32.55Z" fill="#c9f2e1"/>
<path d="M147.25,27.05A223.65,223.65 0 0 1 153.73,24.56L154.81,27.52A220.5,220.5 0 0 0 148.42,29.98Z" fill="#c9f2e1"/>
<path d="M153.55,24.63A223.65,223.65 0 0 1 160.11,22.33L161.10,25.32A220.5,220.5 0 0 0 154.63,27.59Z" fill="#c9f2e1"/>
<path d="M159.92,22.40A223.65,223.65 0 0 1 166.54,20.30L167.45,23.32A220.5,220.5 0 0 0 160.92,25.38Z" fill="#c9f2e1"/>
<path d="M166.36,20.36A223.65,223.65 0 0 1 173.04,18.46L173.85,21.50A220.5,220.5 0 0 0 167.26,23.37Z" fill="#c9f2e1"/>
<path d="M172.85,18.51A223.65,223.65 0 0 1 179.59,16.82L180.31,19.88A220.5,220.5 0 0 0 173.67,21.55Z" fill="#c9f2e1"/>
<path d="M179.40,16.86A223.65,223.65 0 0 1 186.19,15.37L186.81,18.46A220.5,220.5 0 0 0 180.12,19.93Z" fill="#c9f2e1"/>
<path d="M186.00,15.41A223.65,223.65 0 0 1 192.82,14.13L193.36,17.23A220.5,220.5 0 0 0 186.63,18.50Z" fill="#c9f2e1"/>
<path d="M192.63,14.16A223.65,223.65 0 0 1 199.50,13.09L199.94,16.21A220.5,220.5 0 0 0 193.17,17.27Z" fill="#c9f2e1"/>
<path d="M199.30,13.11A223.65,223.65 0 0 1 206.20,12.25L206.54,15.38A220.5,220.5 0 0 0 199.75,16.23Z" fill="#c9f2e1"/>
<path d="M206.00,12.27A223.65,223.65 0 0 1 212.92,11.61L213.17,14.75A220.5,220.5 0 0 0 206.35,15.40Z" fill="#c9f2e1"/>
<path d="M212.72,11.62A223.65,223.65 0 0 1 219.66,11.17L219.81,14.32A220.5,220.5 0 0 0 212.98,14.76Z" fill="#c9f2e1"/>
<path d="M219.46,11.18A223.65,223.65 0 0 1 226.41,10.94L226.47,14.09A220.5,220.5 0 0 0 219.62,14.33Z" fill="#c9f2e1"/>
<path d="M226.21,10.95A223.65,223.65 0 0 1 233.16,10.91L233.12,14.06A220.5,220.5 0 0 0 226.27,14.09Z" fill="#c9f2e1"/>
<path d="M232.96,10.91A223.65,223.65 0 0 1 239.91,11.09L239.78,14.24A220.5,220.5 0 0 0 232.93,14.06Z" fill="#c9f2e1"/>
<path d="M239.71,11.08A223.65,223.65 0 0 1 246.65,11.47L246.43,14.61A220.5,220.5 0 0 0 239.59,14.23Z" fill="#c9f2e1"/>
<path d="M246.46,11.46A223.65,223.65 0 0 1 253.38,12.05L253.06,15.19A220.5,220.5 0 0 0 246.23,14.60Z" fill="#c9f2e1"/>
<path d="M253.18,12.03A223.65,223.65 0 0 1 260.09,12.84L259.67,15.96A220.5,220.5 0 0 0 252.87,15.17Z" fill="#c9f2e1"/>
<path d="M259.89,12.81A223.65,223.65 0 0 1 266.77,13.83L266.26,16.94A220.5,220.5 0 0 0 259.48,15.94Z" fill="#c9f2e1"/>
<path d="M266.57,13.80A223.65,223.65 0 0 1 273.41,15.02L272.81,18.11A220.5,220.5 0 0 0 266.07,16.90Z" fill="#c9f2e1"/>
<path d="M273.22,14.98A223.65,223.65 0 0 1 280.02,16.41L279.33,19.48A220.5,220.5 0 0 0 272.62,18.07Z" fill="#c9f2e1"/>
<path d="M279.83,16.36A223.65,223.65 0 0 1 286.58,17.99L285.80,21.04A220.5,220.5 0 0 0 279.14,19.44Z" fill="#c9f2e1"/>
<path d="M286.40,17.95A223.65,223.65 0 0 1 293.10,19.78L292.22,22.81A220.5,220.5 0 0 0 285.61,21.00Z" fill="#80dab4"/>
<path d="M292.91,19.73A223.65,223.65 0 0 1 299.55,21.76L298.58,24.76A220.5,220.5 0 0 0 292.03,22.75Z" fill="#80dab4"/>
<path d="M299.37,21.70A223.65,223.65 0 0 1 305.94,23.94L304.88,26.90A220.5,220.5 0 0 0 298.40,24.70Z" fill="#c9f2e1"/>
<path d="M305.76,23.87A223.65,223.65 0 0 1 312.27,26.31L311.12,29.24A220.5,220.5 0 0 0 304.70,26.84Z" fill="#c9f2e1"/>
<path d="M312.09,26.23A223.65,223.65 0 0 1 318.52,28.86L317.28,31.76A220.5,220.5 0 0 0 310.94,29.17Z" fill="#12b96a"/>
<path d="M318.34,28.79A223.65,223.65 0 0 1 324.63,31.58L323.31,34.44A220.5,220.5 0 0 0 317.10,31.68Z" fill="#c9f2e1"/>
<path d="M324.45,31.50A223.65,223.65 0 0 1 330.66,34.48L329.25,37.30A220.5,220.5 0 0 0 323.13,34.36Z" fill="#c9f2e1"/>
<path d="M330.48,34.39A223.65,223.65 0 0 1 336.59,37.56L335.10,40.33A220.5,220.5 0 0 0 329.08,37.21Z" fill="#c9f2e1"/>
<path d="M336.42,37.46A223.65,223.65 0 0 1 342.43,40.81L340.86,43.54A220.5,220.5 0 0 0 334.93,40.24Z" fill="#c9f2e1"/>
<path d="M342.27,40.71A223.65,223.65 0 0 1 348.18,44.24L346.52,46.92A220.5,220.5 0 0 0 340.69,43.44Z" fill="#c9f2e1"/>
<path d="M348.01,44.14A223.65,223.65 0 0 1 353.82,47.84L352.08,50.47A220.5,220.5 0 0 0 346.36,46.82Z" fill="#c9f2e1"/>
<path d="M353.65,47.73A223.65,223.65 0 0 1 359.34,51.60L357.53,54.18A220.5,220.5 0 0 0 351.92,50.36Z" fill="#c9f2e1"/>
<path d="M359.18,51.49A223.65,223.65 0 0 1 364.75,55.53L362.87,58.05A220.5,220.5 0 0 0 357.37,54.07Z" fill="#c9f2e1"/>
<path d="M364.60,55.41A223.65,223.65 0 0 1 370.05,59.62L368.08,62.08A220.5,220.5 0 0 0 362.71,57.93Z" fill="#c9f2e1"/>
<path d="M369.89,59.50A223.65,223.65 0 0 1 375.22,63.86L373.18,66.27A220.5,220.5 0 0 0 367.93,61.96Z" fill="#c9f2e1"/>
<path d="M375.07,63.74A223.65,223.65 0 0 1 380.25,68.26L378.15,70.60A220.5,220.5 0 0 0 373.03,66.14Z" fill="#c9f2e1"/>
<path d="M380.11,68.13A223.65,223.65 0 0 1 385.16,72.80L382.98,75.08A220.5,220.5 0 0 0 378.00,70.47Z" fill="#c9f2e1"/>
<path d="M385.02,72.67A223.65,223.65 0 0 1 389.93,77.49L387.68,79.71A220.5,220.5 0 0 0 382.84,74.95Z" fill="#c9f2e1"/>
<path d="M389.79,77.36A223.65,223.65 0 0 1 394.55,82.33L392.24,84.47A220.5,220.5 0 0 0 387.55,79.57Z" fill="#c9f2e1"/>
<path d="M394.42,82.18A223.65,223.65 0 0 1 399.03,87.29L396.66,89.37A220.5,220.5 0 0 0 392.11,84.33Z" fill="#c9f2e1"/>
<path d="M398.90,87.15A223.65,223.65 0 0 1 403.36,92.39L400.92,94.39A220.5,220.5 0 0 0 396.53,89.22Z" fill="#c9f2e1"/>
<path d="M403.23,92.24A223.65,223.65 0 0 1 407.53,97.62L405.04,99.55A220.5,220.5 0 0 0 400.80,94.25Z" fill="#c9f2e1"/>
<path d="M407.41,97.46A223.65,223.65 0 0 1 411.54,102.97L409.00,104.82A220.5,220.5 0 0 0 404.92,99.39Z" fill="#c9f2e1"/>
<path d="M411.43,102.81A223.65,223.65 0 0 1 415.37,108.39L412.77,110.17A220.5,220.5 0 0 0 408.88,104.66Z" fill="#c9f2e1"/>
<path d="M415.26,108.23A223.65,223.65 0 0 1 419.03,113.93L416.38,115.62A220.5,220.5 0 0 0 412.66,110.01Z" fill="#c9f2e1"/>
<path d="M418.93,113.76A223.65,223.65 0 0 1 422.53,119.57L419.83,121.19A220.5,220.5 0 0 0 416.28,115.46Z" fill="#c9f2e1"/>
<path d="M422.43,119.40A223.65,223.65 0 0 1 425.86,125.31L423.11,126.85A220.5,220.5 0 0 0 419.73,121.02Z" fill="#c9f2e1"/>
<path d="M425.76,125.14A223.65,223.65 0 0 1 429.01,131.15L426.22,132.61A220.5,220.5 0 0 0 423.01,126.68Z" fill="#c9f2e1"/>
<path d="M428.92,130.98A223.65,223.65 0 0 1 431.99,137.08L429.16,138.45A220.5,220.5 0 0 0 426.13,132.44Z" fill="#c9f2e1"/>
<path d="M431.91,136.90A223.65,223.65 0 0 1 434.80,143.10L431.92,144.38A220.5,220.5 0 0 0 429.07,138.28Z" fill="#c9f2e1"/>
<path d="M434.72,142.92A223.65,223.65 0 0 1 437.42,149.19L434.51,150.39A220.5,220.5 0 0 0 431.84,144.21Z" fill="#c9f2e1"/>
<path d="M437.35,149.01A223.65,223.65 0 0 1 439.86,155.36L436.92,156.48A220.5,220.5 0 0 0 434.44,150.22Z" fill="#c9f2e1"/>
<path d="M439.79,155.18A223.65,223.65 0 0 1 442.12,161.61L439.14,162.63A220.5,220.5 0 0 0 436.85,156.30Z" fill="#c9f2e1"/>
<path d="M442.06,161.42A223.65,223.65 0 0 1 444.19,167.91L441.18,168.85A220.5,220.5 0 0 0 439.08,162.45Z" fill="#c9f2e1"/>
<path d="M444.13,167.73A223.65,223.65 0 0 1 446.08,174.28L443.04,175.13A220.5,220.5 0 0 0 441.13,168.67Z" fill="#c9f2e1"/>
<path d="M446.02,174.09A223.65,223.65 0 0 1 447.77,180.69L444.71,181.45A220.5,220.5 0 0 0 442.99,174.94Z" fill="#c9f2e1"/>
<path d="M447.72,180.50A223.65,223.65 0 0 1 449.27,187.16L446.19,187.83A220.5,220.5 0 0 0 444.67,181.27Z" fill="#c9f2e1"/>
<path d="M449.23,186.97A223.65,223.65 0 0 1 450.58,193.67L447.48,194.24A220.5,220.5 0 0 0 446.15,187.64Z" fill="#c9f2e1"/>
<path d="M450.55,193.47A223.65,223.65 0 0 1 451.70,200.21L448.59,200.69A220.5,220.5 0 0 0 447.45,194.05Z" fill="#c9f2e1"/>
<path d="M451.67,200.02A223.65,223.65 0 0 1 452.62,206.78L449.49,207.17A220.5,220.5 0 0 0 448.56,200.50Z" fill="#c9f2e1"/>
<path d="M452.60,206.59A223.65,223.65 0 0 1 453.35,213.38L450.21,213.68A220.5,220.5 0 0 0 449.47,206.98Z" fill="#c9f2e1"/>
<path d="M453.33,213.19A223.65,223.65 0 0 1 453.88,220.00L450.73,220.20A220.5,220.5 0 0 0 450.19,213.49Z" fill="#c9f2e1"/>
<path d="M453.86,219.80A223.65,223.65 0 0 1 454.21,226.62L451.06,226.74A220.5,220.5 0 0 0 450.72,220.01Z" fill="#c9f2e1"/>
<path d="M454.20,226.43A223.65,223.65 0 0 1 454.35,233.26L451.20,233.28A220.5,220.5 0 0 0 451.05,226.54Z" fill="#c9f2e1"/>
<path d="M454.35,233.07A223.65,223.65 0 0 1 454.29,239.90L451.14,239.82A220.5,220.5 0 0 0 451.20,233.09Z" fill="#c9f2e1"/>
<path d="M454.29,239.70A223.65,223.65 0 0 1 454.03,246.53L450.88,246.36A220.5,220.5 0 0 0 451.14,239.63Z" fill="#c9f2e1"/>
<path d="M454.04,246.34A223.65,223.65 0 0 1 453.58,253.15L450.44,252.89A220.5,220.5 0 0 0 450.89,246.17Z" fill="#c9f2e1"/>
<path d="M453.59,252.96A223.65,223.65 0 0 1 452.92,259.76L449.79,259.40A220.5,220.5 0 0 0 450.45,252.70Z" fill="#c9f2e1"/>
<path d="M452.95,259.56A223.65,223.65 0 0 1 452.08,266.34L448.96,265.89A220.5,220.5 0 0 0 449.82,259.21Z" fill="#c9f2e1"/>
<path d="M452.11,266.15A223.65,223.65 0 0 1 451.04,272.90L447.93,272.36A220.5,220.5 0 0 0 448.99,265.70Z" fill="#c9f2e1"/>
<path d="M451.07,272.70A223.65,223.65 0 0 1 449.80,279.42L446.72,278.79A220.5,220.5 0 0 0 447.97,272.17Z" fill="#c9f2e1"/>
<path d="M449.84,279.23A223.65,223.65 0 0 1 448.38,285.90L445.31,285.18A220.5,220.5 0 0 0 446.76,278.60Z" fill="#c9f2e1"/>
<path d="M448.42,285.71A223.65,223.65 0 0 1 446.76,292.34L443.71,291.52A220.5,220.5 0 0 0 445.35,284.99Z" fill="#c9f2e1"/>
<path d="M446.81,292.15A223.65,223.65 0 0 1 444.95,298.72L441.93,297.82A220.5,220.5 0 0 0 443.76,291.34Z" fill="#c9f2e1"/>
<path d="M445.00,298.54A223.65,223.65 0 0 1 442.95,305.05L439.96,304.06A220.5,220.5 0 0 0 441.98,297.63Z" fill="#c9f2e1"/>
<path d="M443.01,304.87A223.65,223.65 0 0 1 440.76,311.32L437.80,310.24A220.5,220.5 0 0 0 440.02,303.88Z" fill="#c9f2e1"/>
<path d="M440.83,311.14A223.65,223.65 0 0 1 438.39,317.52L435.47,316.35A220.5,220.5 0 0 0 437.87,310.06Z" fill="#c9f2e1"/>
<path d="M438.46,317.34A223.65,223.65 0 0 1 435.84,323.65L432.95,322.39A220.5,220.5 0 0 0 435.54,316.17Z" fill="#c9f2e1"/>
<path d="M435.92,323.47A223.65,223.65 0 0 1 433.10,329.69L430.25,328.35A220.5,220.5 0 0 0 433.02,322.21Z" fill="#c9f2e1"/>
<path d="M433.19,329.52A223.65,223.65 0 0 1 430.19,335.66L427.38,334.23A220.5,220.5 0 0 0 430.33,328.18Z" fill="#c9f2e1"/>
<path d="M430.28,335.48A223.65,223.65 0 0 1 427.10,341.53L424.34,340.03A220.5,220.5 0 0 0 427.47,334.06Z" fill="#c9f2e1"/>
<path d="M427.20,341.36A223.65,223.65 0 0 1 423.84,347.31L421.12,345.73A220.5,220.5 0 0 0 424.43,339.86Z" fill="#c9f2e1"/>
<path d="M423.94,347.15A223.65,223.65 0 0 1 420.41,353.00L417.74,351.33A220.5,220.5 0 0 0 421.22,345.56Z" fill="#c9f2e1"/>
<path d="M420.51,352.83A223.65,223.65 0 0 1 416.81,358.57L414.19,356.83A220.5,220.5 0 0 0 417.84,351.16Z" fill="#c9f2e1"/>
<path d="M416.92,358.41A223.65,223.65 0 0 1 413.05,364.04L410.48,362.22A220.5,220.5 0 0 0 414.30,356.67Z" fill="#c9f2e1"/>
<path d="M413.16,363.88A223.65,223.65 0 0 1 409.13,369.39L406.61,367.50A220.5,220.5 0 0 0 410.59,362.06Z" fill="#c9f2e1"/>
<path d="M409.24,369.24A223.65,223.65 0 0 1 405.05,374.63L402.59,372.66A220.5,220.5 0 0 0 406.73,367.34Z" fill="#c9f2e1"/>
<path d="M405.17,374.48A223.65,223.65 0 0 1 400.81,379.74L398.42,377.70A220.5,220.5 0 0 0 402.71,372.51Z" fill="#c9f2e1"/>
<path d="M400.94,379.59A223.65,223.65 0 0 1 396.43,384.73L394.10,382.61A220.5,220.5 0 0 0 398.54,377.55Z" fill="#c9f2e1"/>
<path d="M396.56,384.58A223.65,223.65 0 0 1 391.90,389.58L389.63,387.39A220.5,220.5 0 0 0 394.22,382.47Z" fill="#c9f2e1"/>
<path d="M392.04,389.44A223.65,223.65 0 0 1 387.23,394.29L385.02,392.04A220.5,220.5 0 0 0 389.76,387.26Z" fill="#c9f2e1"/>
<path d="M387.37,394.16A223.65,223.65 0 0 1 382.42,398.87L380.28,396.55A220.5,220.5 0 0 0 385.16,391.91Z" fill="#c9f2e1"/>
<path d="M382.56,398.74A223.65,223.65 0 0 1 377.48,403.30L375.41,400.92A220.5,220.5 0 0 0 380.42,396.42Z" fill="#12b96a"/>
<path d="M377.62,403.17A223.65,223.65 0 0 1 372.41,407.58L370.41,405.14A220.5,220.5 0 0 0 375.55,400.79Z" fill="#c9f2e1"/>
<path d="M372.56,407.46A223.65,223.65 0 0 1 367.21,411.71L365.29,409.21A220.5,220.5 0 0 0 370.56,405.02Z" fill="#c9f2e1"/>
<path d="M367.36,411.59A223.65,223.65 0 0 1 361.89,415.68L360.04,413.13A220.5,220.5 0 0 0 365.44,409.10Z" fill="#c9f2e1"/>
<path d="M362.05,415.57A223.65,223.65 0 0 1 356.46,419.49L354.69,416.89A220.5,220.5 0 0 0 360.20,413.02Z" fill="#c9f2e1"/>
<path d="M356.62,419.38A223.65,223.65 0 0 1 350.91,423.14L349.22,420.49A220.5,220.5 0 0 0 354.85,416.78Z" fill="#c9f2e1"/>
<path d="M351.08,423.04A223.65,223.65 0 0 1 345.27,426.63L343.65,423.92A220.5,220.5 0 0 0 349.38,420.38Z" fill="#c9f2e1"/>
<path d="M345.43,426.53A223.65,223.65 0 0 1 339.52,429.94L337.98,427.19A220.5,220.5 0 0 0 343.82,423.82Z" fill="#c9f2e1"/>
<path d="M339.69,429.85A223.65,223.65 0 0 1 333.67,433.09L332.22,430.29A220.5,220.5 0 0 0 338.15,427.10Z" fill="#c9f2e1"/>
<path d="M333.84,433.00A223.65,223.65 0 0 1 327.73,436.05L326.37,433.22A220.5,220.5 0 0 0 332.39,430.20Z" fill="#c9f2e1"/>
<path d="M327.91,435.97A223.65,223.65 0 0 1 321.71,438.85L320.43,435.97A220.5,220.5 0 0 0 326.54,433.13Z" fill="#12b96a"/>
<path d="M321.89,438.77A223.65,223.65 0 0 1 315.61,441.46L314.41,438.54A220.5,220.5 0 0 0 320.60,435.89Z" fill="#c9f2e1"/>
<path d="M315.79,441.38A223.65,223.65 0 0 1 309.43,443.88L308.32,440.94A220.5,220.5 0 0 0 314.59,438.47Z" fill="#c9f2e1"/>
<path d="M309.61,443.82A223.65,223.65 0 0 1 303.18,446.13L302.16,443.15A220.5,220.5 0 0 0 308.50,440.87Z" fill="#c9f2e1"/>
<path d="M303.37,446.07A223.65,223.65 0 0 1 296.87,448.19L295.94,445.18A220.5,220.5 0 0 0 302.35,443.09Z" fill="#c9f2e1"/>
<path d="M297.06,448.13A223.65,223.65 0 0 1 290.50,450.06L289.66,447.02A220.5,220.5 0 0 0 296.13,445.12Z" fill="#80dab4"/>
<path d="M290.69,450.00A223.65,223.65 0 0 1 284.08,451.74L283.33,448.68A220.5,220.5 0 0 0 289.85,446.97Z" fill="#c9f2e1"/>
<path d="M284.27,451.69A223.65,223.65 0 0 1 277.62,453.22L276.95,450.14A220.5,220.5 0 0 0 283.52,448.63Z" fill="#c9f2e1"/>
<path d="M277.81,453.18A223.65,223.65 0 0 1 271.11,454.52L270.54,451.42A220.5,220.5 0 0 0 277.14,450.10Z" fill="#c9f2e1"/>
<path d="M271.30,454.48A223.65,223.65 0 0 1 264.56,455.62L264.08,452.51A220.5,220.5 0 0 0 270.73,451.39Z" fill="#c9f2e1"/>
<path d="M264.75,455.59A223.65,223.65 0 0 1 257.99,456.53L257.60,453.40A220.5,220.5 0 0 0 264.27,452.48Z" fill="#c9f2e1"/>
<path d="M258.18,456.51A223.65,223.65 0 0 1 251.39,457.24L251.09,454.10A220.5,220.5 0 0 0 257.79,453.38Z" fill="#c9f2e1"/>
<path d="M251.58,457.22A223.65,223.65 0 0 1 244.77,457.76L244.57,454.61A220.5,220.5 0 0 0 251.29,454.09Z" fill="#c9f2e1"/>
<path d="M244.96,457.74A223.65,223.65 0 0 1 238.14,458.08L238.03,454.93A220.5,220.5 0 0 0 244.76,454.60Z" fill="#c9f2e1"/>
<path d="M238.33,458.07A223.65,223.65 0 0 1 231.50,458.20L231.49,455.05A220.5,220.5 0 0 0 238.23,454.92Z" fill="#c9f2e1"/>
<path d="M231.70,458.20A223.65,223.65 0 0 1 224.87,458.12L224.95,454.97A220.5,220.5 0 0 0 231.68,455.05Z" fill="#c9f2e1"/>
<path d="M225.06,458.13A223.65,223.65 0 0 1 218.23,457.85L218.41,454.71A220.5,220.5 0 0 0 225.14,454.98Z" fill="#c9f2e1"/>
<path d="M218.43,457.86A223.65,223.65 0 0 1 211.61,457.38L211.88,454.25A220.5,220.5 0 0 0 218.60,454.72Z" fill="#c9f2e1"/>
<path d="M211.81,457.40A223.65,223.65 0 0 1 205.01,456.72L205.37,453.59A220.5,220.5 0 0 0 212.07,454.26Z" fill="#c9f2e1"/>
<path d="M205.20,456.74A223.65,223.65 0 0 1 198.43,455.86L198.88,452.74A220.5,220.5 0 0 0 205.56,453.61Z" fill="#c9f2e1"/>
<path d="M198.62,455.89A223.65,223.65 0 0 1 191.87,454.80L192.42,451.70A220.5,220.5 0 0 0 199.07,452.77Z" fill="#c9f2e1"/>
<path d="M192.07,454.84A223.65,223.65 0 0 1 185.36,453.56L185.99,450.47A220.5,220.5 0 0 0 192.61,451.74Z" fill="#c9f2e1"/>
<path d="M185.55,453.59A223.65,223.65 0 0 1 178.88,452.11L179.61,449.05A220.5,220.5 0 0 0 186.18,450.51Z" fill="#c9f2e1"/>
<path d="M179.07,452.16A223.65,223.65 0 0 1 172.44,450.48L173.26,447.44A220.5,220.5 0 0 0 179.79,449.09Z" fill="#c9f2e1"/>
<path d="M172.63,450.53A223.65,223.65 0 0 1 166.06,448.66L166.97,445.64A220.5,220.5 0 0 0 173.45,447.49Z" fill="#c9f2e1"/>
<path d="M166.25,448.71A223.65,223.65 0 0 1 159.74,446.64L160.74,443.66A220.5,220.5 0 0 0 167.16,445.70Z" fill="#c9f2e1"/>
<path d="M159.92,446.71A223.65,223.65 0 0 1 153.47,444.44L154.56,441.49A220.5,220.5 0 0 0 160.92,443.72Z" fill="#c9f2e1"/>
<path d="M153.66,444.51A223.65,223.65 0 0 1 147.28,442.06L148.46,439.14A220.5,220.5 0 0 0 154.74,441.55Z" fill="#c9f2e1"/>
<path d="M147.46,442.13A223.65,223.65 0 0 1 141.16,439.49L142.42,436.61A220.5,220.5 0 0 0 148.63,439.21Z" fill="#c9f2e1"/>
<path d="M141.34,439.57A223.65,223.65 0 0 1 135.12,436.75L136.46,433.90A220.5,220.5 0 0 0 142.60,436.68Z" fill="#c9f2e1"/>
<path d="M135.29,436.83A223.65,223.65 0 0 1 129.16,433.82L130.59,431.01A220.5,220.5 0 0 0 136.64,433.98Z" fill="#c9f2e1"/>
<path d="M129.33,433.91A223.65,223.65 0 0 1 123.29,430.72L124.80,427.96A220.5,220.5 0 0 0 130.76,431.10Z" fill="#c9f2e1"/>
<path d="M123.46,430.81A223.65,223.65 0 0 1 117.52,427.45L119.11,424.73A220.5,220.5 0 0 0 124.97,428.05Z" fill="#c9f2e1"/>
<path d="M117.69,427.54A223.65,223.65 0 0 1 111.84,424.00L113.52,421.33A220.5,220.5 0 0 0 119.28,424.83Z" fill="#c9f2e1"/>
<path d="M112.01,424.11A223.65,223.65 0 0 1 106.27,420.39L108.03,417.77A220.5,220.5 0 0 0 113.68,421.44Z" fill="#c9f2e1"/>
<path d="M106.44,420.50A223.65,223.65 0 0 1 100.81,416.62L102.64,414.05A220.5,220.5 0 0 0 108.19,417.88Z" fill="#c9f2e1"/>
<path d="M100.97,416.73A223.65,223.65 0 0 1 95.47,412.68L97.37,410.17A220.5,220.5 0 0 0 102.80,414.17Z" fill="#c9f2e1"/>
<path d="M95.62,412.80A223.65,223.65 0 0 1 90.24,408.59L92.22,406.14A220.5,220.5 0 0 0 97.53,410.29Z" fill="#c9f2e1"/>
<path d="M90.39,408.71A223.65,223.65 0 0 1 85.14,404.35L87.19,401.96A220.5,220.5 0 0 0 92.37,406.26Z" fill="#c9f2e1"/>
<path d="M85.29,404.47A223.65,223.65 0 0 1 80.16,399.95L82.28,397.62A220.5,220.5 0 0 0 87.33,402.08Z" fill="#c9f2e1"/>
<path d="M80.31,400.08A223.65,223.65 0 0 1 75.32,395.41L77.51,393.15A220.5,220.5 0 0 0 82.43,397.75Z" fill="#c9f2e1"/>
<path d="M75.46,395.55A223.65,223.65 0 0 1 70.62,390.73L72.87,388.53A220.5,220.5 0 0 0 77.65,393.28Z" fill="#c9f2e1"/>
<path d="M70.75,390.87A223.65,223.65 0 0 1 66.05,385.91L68.37,383.78A220.5,220.5 0 0 0 73.01,388.67Z" fill="#c9f2e1"/>
<path d="M66.18,386.06A223.65,223.65 0 0 1 61.63,380.96L64.01,378.90A220.5,220.5 0 0 0 68.50,383.92Z" fill="#c9f2e1"/>
<path d="M61.76,381.11A223.65,223.65 0 0 1 57.36,375.88L59.80,373.89A220.5,220.5 0 0 0 64.14,379.04Z" fill="#c9f2e1"/>
<path d="M57.49,376.03A223.65,223.65 0 0 1 53.25,370.67L55.75,368.76A220.5,220.5 0 0 0 59.93,374.04Z" fill="#c9f2e1"/>
<path d="M53.36,370.83A223.65,223.65 0 0 1 49.28,365.35L51.84,363.50A220.5,220.5 0 0 0 55.86,368.91Z" fill="#c9f2e1"/>
<path d="M49.40,365.51A223.65,223.65 0 0 1 45.48,359.91L48.09,358.14A220.5,220.5 0 0 0 51.95,363.66Z" fill="#c9f2e1"/>
<path d="M45.59,360.07A223.65,223.65 0 0 1 41.85,354.35L44.50,352.67A220.5,220.5 0 0 0 48.20,358.30Z" fill="#c9f2e1"/>
<path d="M41.95,354.52A223.65,223.65 0 0 1 38.37,348.70L41.08,347.09A220.5,220.5 0 0 0 44.61,352.83Z" fill="#c9f2e1"/>
<path d="M38.47,348.87A223.65,223.65 0 0 1 35.07,342.94L37.83,341.41A220.5,220.5 0 0 0 41.18,347.26Z" fill="#c9f2e1"/>
<path d="M35.17,343.11A223.65,223.65 0 0 1 31.94,337.09L34.74,335.64A220.5,220.5 0 0 0 37.92,341.58Z" fill="#c9f2e1"/>
<path d="M32.03,337.26A223.65,223.65 0 0 1 28.99,331.14L31.83,329.78A220.5,220.5 0 0 0 34.83,335.81Z" fill="#c9f2e1"/>
<path d="M29.07,331.32A223.65,223.65 0 0 1 26.21,325.12L29.09,323.84A220.5,220.5 0 0 0 31.91,329.96Z" fill="#c9f2e1"/>
<path d="M26.29,325.29A223.65,223.65 0 0 1 23.61,319.01L26.53,317.82A220.5,220.5 0 0 0 29.17,324.02Z" fill="#c9f2e1"/>
<path d="M23.68,319.19A223.65,223.65 0 0 1 21.20,312.83L24.15,311.72A220.5,220.5 0 0 0 26.60,318.00Z" fill="#c9f2e1"/>
<path d="M21.26,313.01A223.65,223.65 0 0 1 18.96,306.57L21.95,305.56A220.5,220.5 0 0 0 24.21,311.90Z" fill="#c9f2e1"/>
<path d="M19.03,306.76A223.65,223.65 0 0 1 16.92,300.26L19.93,299.33A220.5,220.5 0 0 0 22.01,305.74Z" fill="#c9f2e1"/>
<path d="M16.98,300.45A223.65,223.65 0 0 1 15.06,293.89L18.10,293.05A220.5,220.5 0 0 0 19.99,299.52Z" fill="#c9f2e1"/>
<path d="M15.12,294.07A223.65,223.65 0 0 1 13.40,287.46L16.46,286.72A220.5,220.5 0 0 0 18.15,293.24Z" fill="#c9f2e1"/>
<path d="M13.45,287.65A223.65,223.65 0 0 1 11.92,280.99L15.01,280.34A220.5,220.5 0 0 0 16.51,286.90Z" fill="#c9f2e1"/>
<path d="M11.97,281.18A223.65,223.65 0 0 1 10.64,274.48L13.74,273.91A220.5,220.5 0 0 0 15.05,280.52Z" fill="#c9f2e1"/>
<path d="M10.68,274.67A223.65,223.65 0 0 1 9.55,267.93L12.67,267.46A220.5,220.5 0 0 0 13.78,274.10Z" fill="#c9f2e1"/>
<path d="M9.58,268.12A223.65,223.65 0 0 1 8.66,261.35L11.79,260.98A220.5,220.5 0 0 0 12.70,267.65Z" fill="#c9f2e1"/>
<path d="M8.69,261.55A223.65,223.65 0 0 1 7.96,254.75L11.10,254.47A220.5,220.5 0 0 0 11.81,261.17Z" fill="#c9f2e1"/>
<path d="M7.98,254.95A223.65,223.65 0 0 1 7.46,248.13L10.61,247.94A220.5,220.5 0 0 0 11.12,254.66Z" fill="#c9f2e1"/>
<path d="M7.47,248.33A223.65,223.65 0 0 1 7.16,241.50L10.31,241.41A220.5,220.5 0 0 0 10.62,248.13Z" fill="#c9f2e1"/>
<path d="M7.16,241.70A223.65,223.65 0 0 1 7.05,234.87L10.20,234.86A220.5,220.5 0 0 0 10.31,241.60Z" fill="#c9f2e1"/>
<path d="M7.05,235.06A223.65,223.65 0 0 1 7.14,228.23L10.29,228.32A220.5,220.5 0 0 0 10.20,235.05Z" fill="#c9f2e1"/>
<path d="M7.13,228.42A223.65,223.65 0 0 1 7.43,221.60L10.57,221.78A220.5,220.5 0 0 0 10.28,228.51Z" fill="#c9f2e1"/>
<path d="M7.41,221.79A223.65,223.65 0 0 1 7.91,214.98L11.05,215.25A220.5,220.5 0 0 0 10.56,221.97Z" fill="#c9f2e1"/>
<path d="M7.89,215.17A223.65,223.65 0 0 1 8.59,208.38L11.72,208.74A220.5,220.5 0 0 0 11.03,215.45Z" fill="#c9f2e1"/>
<path d="M8.56,208.57A223.65,223.65 0 0 1 9.46,201.80L12.58,202.26A220.5,220.5 0 0 0 11.69,208.94Z" fill="#c9f2e1"/>
<path d="M9.43,201.99A223.65,223.65 0 0 1 10.53,195.25L13.63,195.80A220.5,220.5 0 0 0 12.55,202.45Z" fill="#c9f2e1"/>
<path d="M10.50,195.44A223.65,223.65 0 0 1 11.79,188.73L14.88,189.38A220.5,220.5 0 0 0 13.60,195.99Z" fill="#c9f2e1"/>
<path d="M11.75,188.92A223.65,223.65 0 0 1 13.25,182.25L16.31,182.99A220.5,220.5 0 0 0 14.84,189.56Z" fill="#c9f2e1"/>
<path d="M13.20,182.44A223.65,223.65 0 0 1 14.90,175.82L17.94,176.65A220.5,220.5 0 0 0 16.27,183.18Z" fill="#c9f2e1"/>
<path d="M14.85,176.01A223.65,223.65 0 0 1 16.74,169.45L19.75,170.36A220.5,220.5 0 0 0 17.89,176.84Z" fill="#c9f2e1"/>
<path d="M16.68,169.63A223.65,223.65 0 0 1 18.76,163.13L21.75,164.13A220.5,220.5 0 0 0 19.69,170.55Z" fill="#c9f2e1"/>
<path d="M18.70,163.31A223.65,223.65 0 0 1 20.97,156.87L23.93,157.96A220.5,220.5 0 0 0 21.69,164.31Z" fill="#c9f2e1"/>
<path d="M20.91,157.05A223.65,223.65 0 0 1 23.37,150.68L26.29,151.86A220.5,220.5 0 0 0 23.86,158.14Z" fill="#c9f2e1"/>
<path d="M23.30,150.86A223.65,223.65 0 0 1 25.95,144.56L28.84,145.83A220.5,220.5 0 0 0 26.22,152.04Z" fill="#c9f2e1"/>
<path d="M25.87,144.74A223.65,223.65 0 0 1 28.71,138.53L31.56,139.88A220.5,220.5 0 0 0 28.76,146.01Z" fill="#c9f2e1"/>
<path d="M28.63,138.70A223.65,223.65 0 0 1 31.65,132.58L34.45,134.01A220.5,220.5 0 0 0 31.47,140.05Z" fill="#c9f2e1"/>
<path d="M31.56,132.75A223.65,223.65 0 0 1 34.76,126.71L37.52,128.23A220.5,220.5 0 0 0 34.37,134.18Z" fill="#c9f2e1"/>
<path d="M34.67,126.89A223.65,223.65 0 0 1 38.05,120.95L40.76,122.55A220.5,220.5 0 0 0 37.43,128.40Z" fill="#c9f2e1"/>
<path d="M37.95,121.12A223.65,223.65 0 0 1 41.51,115.28L44.17,116.96A220.5,220.5 0 0 0 40.67,122.71Z" fill="#c9f2e1"/>
<path d="M41.40,115.45A223.65,223.65 0 0 1 45.13,109.72L47.74,111.48A220.5,220.5 0 0 0 44.07,117.12Z" fill="#c9f2e1"/>
<path d="M45.02,109.88A223.65,223.65 0 0 1 48.92,104.27L51.48,106.10A220.5,220.5 0 0 0 47.64,111.64Z" fill="#c9f2e1"/>
<path d="M48.80,104.43A223.65,223.65 0 0 1 52.86,98.93L55.37,100.84A220.5,220.5 0 0 0 51.36,106.26Z" fill="#c9f2e1"/>
<path d="M52.74,99.09A223.65,223.65 0 0 1 56.96,93.71L59.41,95.70A220.5,220.5 0 0 0 55.25,100.99Z" fill="#c9f2e1"/>
<path d="M56.84,93.86A223.65,223.65 0 0 1 61.22,88.62L63.61,90.67A220.5,220.5 0 0 0 59.29,95.85Z" fill="#c9f2e1"/>
<path d="M86.27,67.93A220.5,220.5 0 0 1 91.51,63.54L93.72,66.25A217.0,217.0 0 0 0 88.56,70.58Z" fill="#fde2de"/>
<path d="M91.36,63.66A220.5,220.5 0 0 1 96.72,59.42L98.85,62.20A217.0,217.0 0 0 0 93.57,66.37Z" fill="#fde2de"/>
<path d="M96.57,59.54A220.5,220.5 0 0 1 102.06,55.46L104.10,58.31A217.0,217.0 0 0 0 98.70,62.32Z" fill="#fde2de"/>
<path d="M101.90,55.58A220.5,220.5 0 0 1 107.51,51.67L109.47,54.57A217.0,217.0 0 0 0 103.95,58.42Z" fill="#fde2de"/>
<path d="M107.36,51.78A220.5,220.5 0 0 1 113.08,48.04L114.95,51.00A217.0,217.0 0 0 0 109.31,54.68Z" fill="#fde2de"/>
<path d="M112.92,48.14A220.5,220.5 0 0 1 118.75,44.58L120.53,47.60A217.0,217.0 0 0 0 114.79,51.10Z" fill="#fde2de"/>
<path d="M118.59,44.68A220.5,220.5 0 0 1 124.54,41.29L126.23,44.35A217.0,217.0 0 0 0 120.37,47.69Z" fill="#f8705f"/>
<path d="M124.37,41.38A220.5,220.5 0 0 1 130.42,38.17L132.02,41.29A217.0,217.0 0 0 0 126.06,44.45Z" fill="#f8705f"/>
<path d="M130.25,38.26A220.5,220.5 0 0 1 136.40,35.23L137.89,38.40A217.0,217.0 0 0 0 131.85,41.37Z" fill="#f8705f"/>
<path d="M136.22,35.32A220.5,220.5 0 0 1 142.46,32.48L143.86,35.68A217.0,217.0 0 0 0 137.72,38.48Z" fill="#f8705f"/>
<path d="M142.28,32.55A220.5,220.5 0 0 1 148.60,29.90L149.90,33.15A217.0,217.0 0 0 0 143.69,35.76Z" fill="#f8705f"/>
<path d="M148.42,29.98A220.5,220.5 0 0 1 154.81,27.52L156.02,30.81A217.0,217.0 0 0 0 149.73,33.22Z" fill="#f8705f"/>
<path d="M154.63,27.59A220.5,220.5 0 0 1 161.10,25.32L162.20,28.64A217.0,217.0 0 0 0 155.84,30.87Z" fill="#f8705f"/>
<path d="M160.92,25.38A220.5,220.5 0 0 1 167.45,23.32L168.45,26.67A217.0,217.0 0 0 0 162.02,28.70Z" fill="#f8705f"/>
<path d="M167.26,23.37A220.5,220.5 0 0 1 173.85,21.50L174.76,24.89A217.0,217.0 0 0 0 168.27,26.72Z" fill="#f8705f"/>
<path d="M173.67,21.55A220.5,220.5 0 0 1 180.31,19.88L181.11,23.29A217.0,217.0 0 0 0 174.57,24.93Z" fill="#f8705f"/>
<path d="M180.12,19.93A220.5,220.5 0 0 1 186.81,18.46L187.51,21.89A217.0,217.0 0 0 0 180.93,23.34Z" fill="#f8705f"/>
<path d="M186.63,18.50A220.5,220.5 0 0 1 193.36,17.23L193.95,20.68A217.0,217.0 0 0 0 187.33,21.93Z" fill="#f8705f"/>
<path d="M193.17,17.27A220.5,220.5 0 0 1 199.94,16.21L200.42,19.67A217.0,217.0 0 0 0 193.76,20.72Z" fill="#f8705f"/>
<path d="M199.75,16.23A220.5,220.5 0 0 1 206.54,15.38L206.93,18.86A217.0,217.0 0 0 0 200.24,19.70Z" fill="#f8705f"/>
<path d="M206.35,15.40A220.5,220.5 0 0 1 213.17,14.75L213.45,18.24A217.0,217.0 0 0 0 206.74,18.88Z" fill="#f8705f"/>
<path d="M212.98,14.76A220.5,220.5 0 0 1 219.81,14.32L219.99,17.81A217.0,217.0 0 0 0 213.26,18.25Z" fill="#f8705f"/>
<path d="M219.62,14.33A220.5,220.5 0 0 1 226.47,14.09L226.53,17.59A217.0,217.0 0 0 0 219.80,17.82Z" fill="#f8705f"/>
<path d="M226.27,14.09A220.5,220.5 0 0 1 233.12,14.06L233.09,17.56A217.0,217.0 0 0 0 226.34,17.59Z" fill="#f8705f"/>
<path d="M232.93,14.06A220.5,220.5 0 0 1 239.78,14.24L239.64,17.73A217.0,217.0 0 0 0 232.90,17.56Z" fill="#f8705f"/>
<path d="M239.59,14.23A220.5,220.5 0 0 1 246.43,14.61L246.18,18.10A217.0,217.0 0 0 0 239.45,17.73Z" fill="#f8705f"/>
<path d="M246.23,14.60A220.5,220.5 0 0 1 253.06,15.19L252.70,18.67A217.0,217.0 0 0 0 245.99,18.09Z" fill="#f8705f"/>
<path d="M252.87,15.17A220.5,220.5 0 0 1 259.67,15.96L259.21,19.43A217.0,217.0 0 0 0 252.52,18.65Z" fill="#f8705f"/>
<path d="M259.48,15.94A220.5,220.5 0 0 1 266.26,16.94L265.69,20.39A217.0,217.0 0 0 0 259.02,19.41Z" fill="#f8705f"/>
<path d="M266.07,16.90A220.5,220.5 0 0 1 272.81,18.11L272.14,21.54A217.0,217.0 0 0 0 265.51,20.36Z" fill="#f8705f"/>
<path d="M272.62,18.07A220.5,220.5 0 0 1 279.33,19.48L278.55,22.89A217.0,217.0 0 0 0 271.96,21.51Z" fill="#f8705f"/>
<path d="M279.14,19.44A220.5,220.5 0 0 1 285.80,21.04L284.92,24.43A217.0,217.0 0 0 0 278.37,22.85Z" fill="#f8705f"/>
<path d="M285.61,21.00A220.5,220.5 0 0 1 292.22,22.81L291.24,26.17A217.0,217.0 0 0 0 284.74,24.39Z" fill="#f8705f"/>
<path d="M292.03,22.75A220.5,220.5 0 0 1 298.58,24.76L297.50,28.09A217.0,217.0 0 0 0 291.06,26.11Z" fill="#f8705f"/>
<path d="M298.40,24.70A220.5,220.5 0 0 1 304.88,26.90L303.71,30.20A217.0,217.0 0 0 0 297.32,28.03Z" fill="#f8705f"/>
<path d="M304.70,26.84A220.5,220.5 0 0 1 311.12,29.24L309.84,32.50A217.0,217.0 0 0 0 303.53,30.14Z" fill="#f8705f"/>
<path d="M310.94,29.17A220.5,220.5 0 0 1 317.28,31.76L315.91,34.98A217.0,217.0 0 0 0 309.67,32.43Z" fill="#f8705f"/>
<path d="M317.10,31.68A220.5,220.5 0 0 1 323.31,34.44L321.84,37.62A217.0,217.0 0 0 0 315.73,34.90Z" fill="#f8705f"/>
<path d="M323.13,34.36A220.5,220.5 0 0 1 329.25,37.30L327.68,40.43A217.0,217.0 0 0 0 321.66,37.54Z" fill="#f8705f"/>
<path d="M329.08,37.21A220.5,220.5 0 0 1 335.10,40.33L333.44,43.41A217.0,217.0 0 0 0 327.51,40.34Z" fill="#f8705f"/>
<path d="M334.93,40.24A220.5,220.5 0 0 1 340.86,43.54L339.11,46.57A217.0,217.0 0 0 0 333.28,43.33Z" fill="#f8705f"/>
<path d="M340.69,43.44A220.5,220.5 0 0 1 346.52,46.92L344.68,49.90A217.0,217.0 0 0 0 338.95,46.48Z" fill="#f8705f"/>
<path d="M346.36,46.82A220.5,220.5 0 0 1 352.08,50.47L350.15,53.39A217.0,217.0 0 0 0 344.52,49.80Z" fill="#f8705f"/>
<path d="M351.92,50.36A220.5,220.5 0 0 1 357.53,54.18L355.52,57.04A217.0,217.0 0 0 0 350.00,53.28Z" fill="#f8705f"/>
<path d="M357.37,54.07A220.5,220.5 0 0 1 362.87,58.05L360.77,60.85A217.0,217.0 0 0 0 355.36,56.93Z" fill="#f8705f"/>
<path d="M362.71,57.93A220.5,220.5 0 0 1 368.08,62.08L365.90,64.82A217.0,217.0 0 0 0 360.62,60.74Z" fill="#f8705f"/>
<path d="M367.93,61.96A220.5,220.5 0 0 1 373.18,66.27L370.92,68.94A217.0,217.0 0 0 0 365.76,64.70Z" fill="#f8705f"/>
<path d="M373.03,66.14A220.5,220.5 0 0 1 378.15,70.60L375.81,73.20A217.0,217.0 0 0 0 370.77,68.81Z" fill="#f8705f"/>
<path d="M378.00,70.47A220.5,220.5 0 0 1 382.98,75.08L380.57,77.61A217.0,217.0 0 0 0 375.67,73.08Z" fill="#f8705f"/>
<path d="M382.84,74.95A220.5,220.5 0 0 1 387.68,79.71L385.19,82.16A217.0,217.0 0 0 0 380.43,77.48Z" fill="#f8705f"/>
<path d="M387.55,79.57A220.5,220.5 0 0 1 392.24,84.47L389.68,86.85A217.0,217.0 0 0 0 385.06,82.03Z" fill="#f8705f"/>
<path d="M392.11,84.33A220.5,220.5 0 0 1 396.66,89.37L394.02,91.67A217.0,217.0 0 0 0 389.55,86.71Z" fill="#f8705f"/>
<path d="M396.53,89.22A220.5,220.5 0 0 1 400.92,94.39L398.22,96.62A217.0,217.0 0 0 0 393.90,91.53Z" fill="#f8705f"/>
<path d="M400.80,94.25A220.5,220.5 0 0 1 405.04,99.55L402.27,101.69A217.0,217.0 0 0 0 398.10,96.47Z" fill="#f8705f"/>
<path d="M404.92,99.39A220.5,220.5 0 0 1 409.00,104.82L406.17,106.88A217.0,217.0 0 0 0 402.16,101.54Z" fill="#f8705f"/>
<path d="M408.88,104.66A220.5,220.5 0 0 1 412.77,110.17L409.88,112.14A217.0,217.0 0 0 0 406.06,106.72Z" fill="#f8705f"/>
<path d="M412.66,110.01A220.5,220.5 0 0 1 416.38,115.62L413.43,117.51A217.0,217.0 0 0 0 409.77,111.98Z" fill="#f8705f"/>
<path d="M416.28,115.46A220.5,220.5 0 0 1 419.83,121.19L416.82,122.99A217.0,217.0 0 0 0 413.33,117.35Z" fill="#f8705f"/>
<path d="M419.73,121.02A220.5,220.5 0 0 1 423.11,126.85L420.05,128.56A217.0,217.0 0 0 0 416.73,122.82Z" fill="#f8705f"/>
<path d="M423.01,126.68A220.5,220.5 0 0 1 426.22,132.61L423.12,134.22A217.0,217.0 0 0 0 419.96,128.39Z" fill="#f8705f"/>
<path d="M426.13,132.44A220.5,220.5 0 0 1 429.16,138.45L426.01,139.98A217.0,217.0 0 0 0 423.03,134.06Z" fill="#f8705f"/>
<path d="M429.07,138.28A220.5,220.5 0 0 1 431.92,144.38L428.73,145.82A217.0,217.0 0 0 0 425.93,139.81Z" fill="#f8705f"/>
<path d="M431.84,144.21A220.5,220.5 0 0 1 434.51,150.39L431.27,151.73A217.0,217.0 0 0 0 428.65,145.64Z" fill="#f8705f"/>
<path d="M434.44,150.22A220.5,220.5 0 0 1 436.92,156.48L433.64,157.72A217.0,217.0 0 0 0 431.20,151.56Z" fill="#f8705f"/>
<path d="M436.85,156.30A220.5,220.5 0 0 1 439.14,162.63L435.83,163.78A217.0,217.0 0 0 0 433.58,157.54Z" fill="#f8705f"/>
<path d="M439.08,162.45A220.5,220.5 0 0 1 441.18,168.85L437.84,169.89A217.0,217.0 0 0 0 435.77,163.60Z" fill="#f8705f"/>
<path d="M441.13,168.67A220.5,220.5 0 0 1 443.04,175.13L439.67,176.07A217.0,217.0 0 0 0 437.79,169.71Z" fill="#f8705f"/>
<path d="M442.99,174.94A220.5,220.5 0 0 1 444.71,181.45L441.31,182.30A217.0,217.0 0 0 0 439.62,175.89Z" fill="#f8705f"/>
<path d="M444.67,181.27A220.5,220.5 0 0 1 446.19,187.83L442.77,188.57A217.0,217.0 0 0 0 441.27,182.11Z" fill="#f8705f"/>
<path d="M446.15,187.64A220.5,220.5 0 0 1 447.48,194.24L444.04,194.88A217.0,217.0 0 0 0 442.73,188.38Z" fill="#f8705f"/>
<path d="M447.45,194.05A220.5,220.5 0 0 1 448.59,200.69L445.13,201.23A217.0,217.0 0 0 0 444.01,194.70Z" fill="#f8705f"/>
<path d="M448.56,200.50A220.5,220.5 0 0 1 449.49,207.17L446.02,207.61A217.0,217.0 0 0 0 445.10,201.04Z" fill="#f8705f"/>
<path d="M449.47,206.98A220.5,220.5 0 0 1 450.21,213.68L446.73,214.01A217.0,217.0 0 0 0 446.00,207.42Z" fill="#f8705f"/>
<path d="M450.19,213.49A220.5,220.5 0 0 1 450.73,220.20L447.24,220.43A217.0,217.0 0 0 0 446.71,213.82Z" fill="#f8705f"/>
<path d="M450.72,220.01A220.5,220.5 0 0 1 451.06,226.74L447.56,226.86A217.0,217.0 0 0 0 447.23,220.24Z" fill="#f8705f"/>
<path d="M451.05,226.54A220.5,220.5 0 0 1 451.20,233.28L447.70,233.30A217.0,217.0 0 0 0 447.56,226.67Z" fill="#f8705f"/>
<path d="M451.20,233.09A220.5,220.5 0 0 1 451.14,239.82L447.64,239.74A217.0,217.0 0 0 0 447.70,233.11Z" fill="#f8705f"/>
<path d="M451.14,239.63A220.5,220.5 0 0 1 450.88,246.36L447.39,246.17A217.0,217.0 0 0 0 447.64,239.55Z" fill="#f8705f"/>
<path d="M450.89,246.17A220.5,220.5 0 0 1 450.44,252.89L446.95,252.60A217.0,217.0 0 0 0 447.40,245.99Z" fill="#f8705f"/>
<path d="M450.45,252.70A220.5,220.5 0 0 1 449.79,259.40L446.32,259.01A217.0,217.0 0 0 0 446.96,252.41Z" fill="#f8705f"/>
<path d="M449.82,259.21A220.5,220.5 0 0 1 448.96,265.89L445.50,265.40A217.0,217.0 0 0 0 446.34,258.82Z" fill="#f8705f"/>
<path d="M448.99,265.70A220.5,220.5 0 0 1 447.93,272.36L444.49,271.76A217.0,217.0 0 0 0 445.52,265.21Z" fill="#f8705f"/>
<path d="M447.97,272.17A220.5,220.5 0 0 1 446.72,278.79L443.29,278.08A217.0,217.0 0 0 0 444.52,271.57Z" fill="#f8705f"/>
<path d="M446.76,278.60A220.5,220.5 0 0 1 445.31,285.18L441.90,284.37A217.0,217.0 0 0 0 443.33,277.90Z" fill="#f8705f"/>
<path d="M445.35,284.99A220.5,220.5 0 0 1 443.71,291.52L440.33,290.62A217.0,217.0 0 0 0 441.95,284.19Z" fill="#f8705f"/>
<path d="M443.76,291.34A220.5,220.5 0 0 1 441.93,297.82L438.58,296.81A217.0,217.0 0 0 0 440.38,290.44Z" fill="#f8705f"/>
<path d="M441.98,297.63A220.5,220.5 0 0 1 439.96,304.06L436.64,302.96A217.0,217.0 0 0 0 438.63,296.63Z" fill="#f8705f"/>
<path d="M440.02,303.88A220.5,220.5 0 0 1 437.80,310.24L434.52,309.04A217.0,217.0 0 0 0 436.70,302.78Z" fill="#f8705f"/>
<path d="M437.87,310.06A220.5,220.5 0 0 1 435.47,316.35L432.22,315.05A217.0,217.0 0 0 0 434.58,308.86Z" fill="#f8705f"/>
<path d="M435.54,316.17A220.5,220.5 0 0 1 432.95,322.39L429.74,321.00A217.0,217.0 0 0 0 432.29,314.88Z" fill="#f8705f"/>
<path d="M433.02,322.21A220.5,220.5 0 0 1 430.25,328.35L427.09,326.86A217.0,217.0 0 0 0 429.81,320.82Z" fill="#f8705f"/>
<path d="M430.33,328.18A220.5,220.5 0 0 1 427.38,334.23L424.26,332.65A217.0,217.0 0 0 0 427.17,326.69Z" fill="#f8705f"/>
<path d="M427.47,334.06A220.5,220.5 0 0 1 424.34,340.03L421.26,338.35A217.0,217.0 0 0 0 424.34,332.48Z" fill="#f8705f"/>
<path d="M424.43,339.86A220.5,220.5 0 0 1 421.12,345.73L418.10,343.96A217.0,217.0 0 0 0 421.35,338.19Z" fill="#f8705f"/>
<path d="M421.22,345.56A220.5,220.5 0 0 1 417.74,351.33L414.77,349.47A217.0,217.0 0 0 0 418.19,343.80Z" fill="#f8705f"/>
<path d="M417.84,351.16A220.5,220.5 0 0 1 414.19,356.83L411.28,354.89A217.0,217.0 0 0 0 414.87,349.31Z" fill="#f8705f"/>
<path d="M414.30,356.67A220.5,220.5 0 0 1 410.48,362.22L407.63,360.19A217.0,217.0 0 0 0 411.38,354.73Z" fill="#f8705f"/>
<path d="M410.59,362.06A220.5,220.5 0 0 1 406.61,367.50L403.82,365.39A217.0,217.0 0 0 0 407.74,360.04Z" fill="#f8705f"/>
<path d="M406.73,367.34A220.5,220.5 0 0 1 402.59,372.66L399.86,370.47A217.0,217.0 0 0 0 403.94,365.23Z" fill="#f8705f"/>
<path d="M402.71,372.51A220.5,220.5 0 0 1 398.42,377.70L395.76,375.43A217.0,217.0 0 0 0 399.98,370.32Z" fill="#f8705f"/>
<path d="M398.54,377.55A220.5,220.5 0 0 1 394.10,382.61L391.50,380.26A217.0,217.0 0 0 0 395.88,375.28Z" fill="#f8705f"/>
<path d="M394.22,382.47A220.5,220.5 0 0 1 389.63,387.39L387.11,384.97A217.0,217.0 0 0 0 391.63,380.12Z" fill="#f8705f"/>
<path d="M389.76,387.26A220.5,220.5 0 0 1 385.02,392.04L382.57,389.54A217.0,217.0 0 0 0 387.24,384.83Z" fill="#f8705f"/>
<path d="M385.16,391.91A220.5,220.5 0 0 1 380.28,396.55L377.91,393.98A217.0,217.0 0 0 0 382.71,389.41Z" fill="#f8705f"/>
<path d="M380.42,396.42A220.5,220.5 0 0 1 375.41,400.92L373.11,398.28A217.0,217.0 0 0 0 378.05,393.85Z" fill="#f8705f"/>
<path d="M375.55,400.79A220.5,220.5 0 0 1 370.41,405.14L368.19,402.43A217.0,217.0 0 0 0 373.26,398.16Z" fill="#f8705f"/>
<path d="M370.56,405.02A220.5,220.5 0 0 1 365.29,409.21L363.15,406.44A217.0,217.0 0 0 0 368.34,402.31Z" fill="#f8705f"/>
<path d="M365.44,409.10A220.5,220.5 0 0 1 360.04,413.13L357.99,410.29A217.0,217.0 0 0 0 363.30,406.32Z" fill="#f8705f"/>
<path d="M360.20,413.02A220.5,220.5 0 0 1 354.69,416.89L352.72,413.99A217.0,217.0 0 0 0 358.14,410.18Z" fill="#f8705f"/>
<path d="M354.85,416.78A220.5,220.5 0 0 1 349.22,420.49L347.34,417.54A217.0,217.0 0 0 0 352.88,413.89Z" fill="#f8705f"/>
<path d="M349.38,420.38A220.5,220.5 0 0 1 343.65,423.92L341.86,420.92A217.0,217.0 0 0 0 347.50,417.43Z" fill="#f8705f"/>
<path d="M343.82,423.82A220.5,220.5 0 0 1 337.98,427.19L336.28,424.13A217.0,217.0 0 0 0 342.02,420.82Z" fill="#f8705f"/>
<path d="M338.15,427.10A220.5,220.5 0 0 1 332.22,430.29L330.61,427.18A217.0,217.0 0 0 0 336.45,424.04Z" fill="#f8705f"/>
<path d="M332.39,430.20A220.5,220.5 0 0 1 326.37,433.22L324.85,430.06A217.0,217.0 0 0 0 330.78,427.10Z" fill="#f8705f"/>
<path d="M326.54,433.13A220.5,220.5 0 0 1 320.43,435.97L319.00,432.77A217.0,217.0 0 0 0 325.02,429.98Z" fill="#f8705f"/>
<path d="M320.60,435.89A220.5,220.5 0 0 1 314.41,438.54L313.08,435.30A217.0,217.0 0 0 0 319.18,432.69Z" fill="#f8705f"/>
<path d="M314.59,438.47A220.5,220.5 0 0 1 308.32,440.94L307.09,437.66A217.0,217.0 0 0 0 313.26,435.23Z" fill="#f8705f"/>
<path d="M308.50,440.87A220.5,220.5 0 0 1 302.16,443.15L301.03,439.84A217.0,217.0 0 0 0 307.27,437.59Z" fill="#f8705f"/>
<path d="M302.35,443.09A220.5,220.5 0 0 1 295.94,445.18L294.91,441.83A217.0,217.0 0 0 0 301.21,439.78Z" fill="#f8705f"/>
<path d="M296.13,445.12A220.5,220.5 0 0 1 289.66,447.02L288.73,443.65A217.0,217.0 0 0 0 295.09,441.78Z" fill="#f8705f"/>
<path d="M289.85,446.97A220.5,220.5 0 0 1 283.33,448.68L282.50,445.28A217.0,217.0 0 0 0 288.91,443.60Z" fill="#f8705f"/>
<path d="M283.52,448.63A220.5,220.5 0 0 1 276.95,450.14L276.22,446.72A217.0,217.0 0 0 0 282.68,445.23Z" fill="#f8705f"/>
<path d="M277.14,450.10A220.5,220.5 0 0 1 270.54,451.42L269.90,447.98A217.0,217.0 0 0 0 276.41,446.68Z" fill="#f8705f"/>
<path d="M270.73,451.39A220.5,220.5 0 0 1 264.08,452.51L263.55,449.05A217.0,217.0 0 0 0 270.09,447.94Z" fill="#f8705f"/>
<path d="M264.27,452.48A220.5,220.5 0 0 1 257.60,453.40L257.17,449.93A217.0,217.0 0 0 0 263.74,449.02Z" fill="#f8705f"/>
<path d="M257.79,453.38A220.5,220.5 0 0 1 251.09,454.10L250.77,450.62A217.0,217.0 0 0 0 257.36,449.91Z" fill="#f8705f"/>
<path d="M251.29,454.09A220.5,220.5 0 0 1 244.57,454.61L244.35,451.12A217.0,217.0 0 0 0 250.96,450.60Z" fill="#f8705f"/>
<path d="M244.76,454.60A220.5,220.5 0 0 1 238.03,454.93L237.92,451.43A217.0,217.0 0 0 0 244.54,451.11Z" fill="#f8705f"/>
<path d="M238.23,454.92A220.5,220.5 0 0 1 231.49,455.05L231.48,451.55A217.0,217.0 0 0 0 238.11,451.42Z" fill="#f8705f"/>
<path d="M231.68,455.05A220.5,220.5 0 0 1 224.95,454.97L225.04,451.48A217.0,217.0 0 0 0 231.67,451.55Z" fill="#f8705f"/>
<path d="M225.14,454.98A220.5,220.5 0 0 1 218.41,454.71L218.60,451.21A217.0,217.0 0 0 0 225.23,451.48Z" fill="#f8705f"/>
<path d="M218.60,454.72A220.5,220.5 0 0 1 211.88,454.25L212.18,450.76A217.0,217.0 0 0 0 218.79,451.22Z" fill="#f8705f"/>
<path d="M212.07,454.26A220.5,220.5 0 0 1 205.37,453.59L205.77,450.11A217.0,217.0 0 0 0 212.37,450.77Z" fill="#f8705f"/>
<path d="M205.56,453.61A220.5,220.5 0 0 1 198.88,452.74L199.39,449.28A217.0,217.0 0 0 0 205.96,450.14Z" fill="#f8705f"/>
<path d="M199.07,452.77A220.5,220.5 0 0 1 192.42,451.70L193.03,448.26A217.0,217.0 0 0 0 199.57,449.31Z" fill="#f8705f"/>
<path d="M192.61,451.74A220.5,220.5 0 0 1 185.99,450.47L186.70,447.04A217.0,217.0 0 0 0 193.22,448.29Z" fill="#f8705f"/>
<path d="M186.18,450.51A220.5,220.5 0 0 1 179.61,449.05L180.42,445.64A217.0,217.0 0 0 0 186.89,447.08Z" fill="#f8705f"/>
<path d="M179.79,449.09A220.5,220.5 0 0 1 173.26,447.44L174.18,444.06A217.0,217.0 0 0 0 180.60,445.69Z" fill="#f8705f"/>
<path d="M173.45,447.49A220.5,220.5 0 0 1 166.97,445.64L167.98,442.29A217.0,217.0 0 0 0 174.36,444.11Z" fill="#f8705f"/>
<path d="M167.16,445.70A220.5,220.5 0 0 1 160.74,443.66L161.85,440.34A217.0,217.0 0 0 0 168.17,442.34Z" fill="#f8705f"/>
<path d="M160.92,443.72A220.5,220.5 0 0 1 154.56,441.49L155.77,438.20A217.0,217.0 0 0 0 162.03,440.40Z" fill="#f8705f"/>
<path d="M154.74,441.55A220.5,220.5 0 0 1 148.46,439.14L149.76,435.89A217.0,217.0 0 0 0 155.95,438.27Z" fill="#f8705f"/>
<path d="M148.63,439.21A220.5,220.5 0 0 1 142.42,436.61L143.82,433.40A217.0,217.0 0 0 0 149.94,435.96Z" fill="#f8705f"/>
<path d="M142.60,436.68A220.5,220.5 0 0 1 136.46,433.90L137.96,430.73A217.0,217.0 0 0 0 144.00,433.48Z" fill="#f8705f"/>
<path d="M136.64,433.98A220.5,220.5 0 0 1 130.59,431.01L132.18,427.90A217.0,217.0 0 0 0 138.13,430.81Z" fill="#f8705f"/>
<path d="M130.76,431.10A220.5,220.5 0 0 1 124.80,427.96L126.48,424.89A217.0,217.0 0 0 0 132.35,427.98Z" fill="#f8705f"/>
<path d="M124.97,428.05A220.5,220.5 0 0 1 119.11,424.73L120.88,421.71A217.0,217.0 0 0 0 126.65,424.98Z" fill="#f8705f"/>
<path d="M119.28,424.83A220.5,220.5 0 0 1 113.52,421.33L115.38,418.37A217.0,217.0 0 0 0 121.05,421.81Z" fill="#f8705f"/>
<path d="M113.68,421.44A220.5,220.5 0 0 1 108.03,417.77L109.97,414.87A217.0,217.0 0 0 0 115.54,418.47Z" fill="#f8705f"/>
<path d="M108.19,417.88A220.5,220.5 0 0 1 102.64,414.05L104.68,411.20A217.0,217.0 0 0 0 110.13,414.97Z" fill="#f8705f"/>
<path d="M102.80,414.17A220.5,220.5 0 0 1 97.37,410.17L99.49,407.39A217.0,217.0 0 0 0 104.83,411.31Z" fill="#f8705f"/>
<path d="M97.53,410.29A220.5,220.5 0 0 1 92.22,406.14L94.42,403.42A217.0,217.0 0 0 0 99.64,407.50Z" fill="#f8705f"/>
<path d="M92.37,406.26A220.5,220.5 0 0 1 87.19,401.96L89.47,399.30A217.0,217.0 0 0 0 94.56,403.54Z" fill="#f8705f"/>
<path d="M87.33,402.08A220.5,220.5 0 0 1 82.28,397.62L84.64,395.03A217.0,217.0 0 0 0 89.61,399.42Z" fill="#f8705f"/>
<path d="M82.43,397.75A220.5,220.5 0 0 1 77.51,393.15L79.94,390.63A217.0,217.0 0 0 0 84.78,395.16Z" fill="#f8705f"/>
<path d="M77.65,393.28A220.5,220.5 0 0 1 72.87,388.53L75.38,386.09A217.0,217.0 0 0 0 80.08,390.76Z" fill="#f8705f"/>
<path d="M73.01,388.67A220.5,220.5 0 0 1 68.37,383.78L70.95,381.41A217.0,217.0 0 0 0 75.51,386.22Z" fill="#f8705f"/>
<path d="M68.50,383.92A220.5,220.5 0 0 1 64.01,378.90L66.66,376.61A217.0,217.0 0 0 0 71.08,381.55Z" fill="#f8705f"/>
<path d="M64.14,379.04A220.5,220.5 0 0 1 59.80,373.89L62.52,371.68A217.0,217.0 0 0 0 66.78,376.75Z" fill="#f8705f"/>
<path d="M59.93,374.04A220.5,220.5 0 0 1 55.75,368.76L58.52,366.63A217.0,217.0 0 0 0 62.64,371.82Z" fill="#f8705f"/>
<path d="M55.86,368.91A220.5,220.5 0 0 1 51.84,363.50L54.68,361.46A217.0,217.0 0 0 0 58.64,366.78Z" fill="#f8705f"/>
<path d="M51.95,363.66A220.5,220.5 0 0 1 48.09,358.14L50.99,356.18A217.0,217.0 0 0 0 54.79,361.61Z" fill="#f8705f"/>
<path d="M48.20,358.30A220.5,220.5 0 0 1 44.50,352.67L47.46,350.79A217.0,217.0 0 0 0 51.10,356.34Z" fill="#f8705f"/>
<path d="M44.61,352.83A220.5,220.5 0 0 1 41.08,347.09L44.09,345.30A217.0,217.0 0 0 0 47.56,350.95Z" fill="#f8705f"/>
<path d="M41.18,347.26A220.5,220.5 0 0 1 37.83,341.41L40.89,339.72A217.0,217.0 0 0 0 44.19,345.47Z" fill="#f8705f"/>
<path d="M37.92,341.58A220.5,220.5 0 0 1 34.74,335.64L37.85,334.04A217.0,217.0 0 0 0 40.98,339.88Z" fill="#f8705f"/>
<path d="M34.83,335.81A220.5,220.5 0 0 1 31.83,329.78L34.98,328.27A217.0,217.0 0 0 0 37.94,334.21Z" fill="#f8705f"/>
<path d="M31.91,329.96A220.5,220.5 0 0 1 29.09,323.84L32.29,322.42A217.0,217.0 0 0 0 35.06,328.44Z" fill="#f8705f"/>
<path d="M29.17,324.02A220.5,220.5 0 0 1 26.53,317.82L29.77,316.50A217.0,217.0 0 0 0 32.36,322.60Z" fill="#f8705f"/>
<path d="M26.60,318.00A220.5,220.5 0 0 1 24.15,311.72L27.42,310.50A217.0,217.0 0 0 0 29.84,316.67Z" fill="#f8705f"/>
<path d="M24.21,311.90A220.5,220.5 0 0 1 21.95,305.56L25.26,304.43A217.0,217.0 0 0 0 27.49,310.68Z" fill="#f8705f"/>
<path d="M22.01,305.74A220.5,220.5 0 0 1 19.93,299.33L23.28,298.31A217.0,217.0 0 0 0 25.32,304.61Z" fill="#f8705f"/>
<path d="M19.99,299.52A220.5,220.5 0 0 1 18.10,293.05L21.48,292.12A217.0,217.0 0 0 0 23.33,298.49Z" fill="#f8705f"/>
<path d="M18.15,293.24A220.5,220.5 0 0 1 16.46,286.72L19.86,285.89A217.0,217.0 0 0 0 21.53,292.30Z" fill="#f8705f"/>
<path d="M16.51,286.90A220.5,220.5 0 0 1 15.01,280.34L18.43,279.61A217.0,217.0 0 0 0 19.91,286.07Z" fill="#f8705f"/>
<path d="M15.05,280.52A220.5,220.5 0 0 1 13.74,273.91L17.19,273.29A217.0,217.0 0 0 0 18.47,279.79Z" fill="#f8705f"/>
<path d="M13.78,274.10A220.5,220.5 0 0 1 12.67,267.46L16.13,266.94A217.0,217.0 0 0 0 17.22,273.48Z" fill="#f8705f"/>
<path d="M12.70,267.65A220.5,220.5 0 0 1 11.79,260.98L15.26,260.56A217.0,217.0 0 0 0 16.16,267.12Z" fill="#f8705f"/>
<path d="M11.81,261.17A220.5,220.5 0 0 1 11.10,254.47L14.59,254.15A217.0,217.0 0 0 0 15.29,260.74Z" fill="#f8705f"/>
<path d="M11.12,254.66A220.5,220.5 0 0 1 10.61,247.94L14.10,247.73A217.0,217.0 0 0 0 14.60,254.34Z" fill="#f8705f"/>
<path d="M10.62,248.13A220.5,220.5 0 0 1 10.31,241.41L13.80,241.30A217.0,217.0 0 0 0 14.11,247.92Z" fill="#f8705f"/>
<path d="M10.31,241.60A220.5,220.5 0 0 1 10.20,234.86L13.70,234.86A217.0,217.0 0 0 0 13.81,241.49Z" fill="#f8705f"/>
<path d="M10.20,235.05A220.5,220.5 0 0 1 10.29,228.32L13.79,228.42A217.0,217.0 0 0 0 13.70,235.05Z" fill="#f8705f"/>
<path d="M10.28,228.51A220.5,220.5 0 0 1 10.57,221.78L14.06,221.98A217.0,217.0 0 0 0 13.78,228.61Z" fill="#f8705f"/>
<path d="M10.56,221.97A220.5,220.5 0 0 1 11.05,215.25L14.53,215.56A217.0,217.0 0 0 0 14.05,222.17Z" fill="#f8705f"/>
<path d="M11.03,215.45A220.5,220.5 0 0 1 11.72,208.74L15.19,209.15A217.0,217.0 0 0 0 14.52,215.75Z" fill="#f8705f"/>
<path d="M11.69,208.94A220.5,220.5 0 0 1 12.58,202.26L16.04,202.77A217.0,217.0 0 0 0 15.17,209.34Z" fill="#f8705f"/>
<path d="M12.55,202.45A220.5,220.5 0 0 1 13.63,195.80L17.08,196.41A217.0,217.0 0 0 0 16.01,202.96Z" fill="#f8705f"/>
<path d="M13.60,195.99A220.5,220.5 0 0 1 14.88,189.38L18.30,190.09A217.0,217.0 0 0 0 17.04,196.60Z" fill="#f8705f"/>
<path d="M14.84,189.56A220.5,220.5 0 0 1 16.31,182.99L19.72,183.81A217.0,217.0 0 0 0 18.26,190.28Z" fill="#f8705f"/>
<path d="M16.27,183.18A220.5,220.5 0 0 1 17.94,176.65L21.31,177.57A217.0,217.0 0 0 0 19.67,183.99Z" fill="#f8705f"/>
<path d="M17.89,176.84A220.5,220.5 0 0 1 19.75,170.36L23.10,171.38A217.0,217.0 0 0 0 21.26,177.75Z" fill="#f8705f"/>
<path d="M19.69,170.55A220.5,220.5 0 0 1 21.75,164.13L25.06,165.25A217.0,217.0 0 0 0 23.04,171.56Z" fill="#f8705f"/>
<path d="M21.69,164.31A220.5,220.5 0 0 1 23.93,157.96L27.21,159.18A217.0,217.0 0 0 0 25.00,165.43Z" fill="#f8705f"/>
<path d="M23.86,158.14A220.5,220.5 0 0 1 26.29,151.86L29.54,153.17A217.0,217.0 0 0 0 27.14,159.36Z" fill="#f8705f"/>
<path d="M26.22,152.04A220.5,220.5 0 0 1 28.84,145.83L32.04,147.24A217.0,217.0 0 0 0 29.47,153.35Z" fill="#f8705f"/>
<path d="M28.76,146.01A220.5,220.5 0 0 1 31.56,139.88L34.72,141.38A217.0,217.0 0 0 0 31.96,147.41Z" fill="#f8705f"/>
<path d="M31.47,140.05A220.5,220.5 0 0 1 34.45,134.01L37.57,135.61A217.0,217.0 0 0 0 34.64,141.55Z" fill="#f8705f"/>
<path d="M34.37,134.18A220.5,220.5 0 0 1 37.52,128.23L40.59,129.92A217.0,217.0 0 0 0 37.48,135.78Z" fill="#f8705f"/>
<path d="M37.43,128.40A220.5,220.5 0 0 1 40.76,122.55L43.78,124.33A217.0,217.0 0 0 0 40.50,130.09Z" fill="#f8705f"/>
<path d="M40.67,122.71A220.5,220.5 0 0 1 44.17,116.96L47.13,118.83A217.0,217.0 0 0 0 43.68,124.49Z" fill="#f8705f"/>
<path d="M44.07,117.12A220.5,220.5 0 0 1 47.74,111.48L50.65,113.43A217.0,217.0 0 0 0 47.03,118.99Z" fill="#f8705f"/>
<path d="M47.64,111.64A220.5,220.5 0 0 1 51.48,106.10L54.32,108.14A217.0,217.0 0 0 0 50.54,113.59Z" fill="#f8705f"/>
<path d="M51.36,106.26A220.5,220.5 0 0 1 55.37,100.84L58.15,102.96A217.0,217.0 0 0 0 54.21,108.30Z" fill="#f8705f"/>
<path d="M55.25,100.99A220.5,220.5 0 0 1 59.41,95.70L62.13,97.90A217.0,217.0 0 0 0 58.03,103.11Z" fill="#f8705f"/>
<path d="M59.29,95.85A220.5,220.5 0 0 1 63.61,90.67L66.26,92.96A217.0,217.0 0 0 0 62.01,98.05Z" fill="#f8705f"/>
<path d="M100.75,84.63A198.4,198.4 0 0 1 129.83,63.71L131.48,66.51A195.15,195.15 0 0 0 102.88,87.09Z" fill="#1ec97f"/>
<path d="M129.83,63.71A198.4,198.4 0 0 1 308.44,52.02L307.17,55.01A195.15,195.15 0 0 0 131.48,66.51Z" fill="#4aaee2"/>
<path d="M308.44,52.02A198.4,198.4 0 0 1 391.03,117.68L388.40,119.60A195.15,195.15 0 0 0 307.17,55.01Z" fill="#d4a2e3"/>
<path d="M391.03,117.68A198.4,198.4 0 1 1 80.24,105.23L82.71,107.34A195.15,195.15 0 1 0 388.40,119.60Z" fill="#f88b80"/>
<g font-family="Liberation Sans, Arial, sans-serif" fill="#222" font-weight="bold">
<g font-size="2.4" font-weight="normal" fill="#111" stroke="#111" stroke-width="0.07">
<text transform="translate(230.7,234.55) rotate(49.94)" x="-201.5" y="0.84" text-anchor="end">48:z4,z23,z32:-</text>
<text transform="translate(230.7,234.55) rotate(51.67)" x="-201.5" y="0.84" text-anchor="end">48:z4,z23,z32:-</text>
<text transform="translate(230.7,234.55) rotate(53.40)" x="-201.5" y="0.84" text-anchor="end">48:z4,z23,z32:-</text>
<text transform="translate(230.7,234.55) rotate(55.12)" x="-201.5" y="0.84" text-anchor="end">48:z4,z23,z32:-</text>
<text transform="translate(230.7,234.55) rotate(56.85)" x="-201.5" y="0.84" text-anchor="end">48:z4,z23,z32:-</text>
<text transform="translate(230.7,234.55) rotate(58.58)" x="-201.5" y="0.84" text-anchor="end">48:z4,z23,z32:-</text>
<text transform="translate(230.7,234.55) rotate(60.30)" x="-201.5" y="0.84" text-anchor="end">8:r:1,5</text>
<text transform="translate(230.7,234.55) rotate(62.03)" x="-201.5" y="0.84" text-anchor="end">8:r:1,5</text>
<text transform="translate(230.7,234.55) rotate(63.77)" x="-201.5" y="0.84" text-anchor="end">8:r:1,5</text>
<text transform="translate(230.7,234.55) rotate(65.50)" x="-201.5" y="0.84" text-anchor="end">8:r:1,5</text>
<text transform="translate(230.7,234.55) rotate(67.22)" x="-201.5" y="0.84" text-anchor="end">8:r:1,5</text>
<text transform="translate(230.7,234.55) rotate(68.95)" x="-201.5" y="0.84" text-anchor="end">8:r:1,5</text>
<text transform="translate(230.7,234.55) rotate(70.69)" x="-201.5" y="0.84" text-anchor="end">8:r:1,5</text>
<text transform="translate(230.7,234.55) rotate(72.41)" x="-201.5" y="0.84" text-anchor="end">8:r:1,5</text>
<text transform="translate(230.7,234.55) rotate(74.14)" x="-201.5" y="0.84" text-anchor="end">8:r:1,5</text>
<text transform="translate(230.7,234.55) rotate(75.88)" x="-201.5" y="0.84" text-anchor="end">8:r:1,5</text>
<text transform="translate(230.7,234.55) rotate(77.60)" x="-201.5" y="0.84" text-anchor="end">8:r:1,5</text>
<text transform="translate(230.7,234.55) rotate(79.33)" x="-201.5" y="0.84" text-anchor="end">8:r:1,5</text>
<text transform="translate(230.7,234.55) rotate(81.06)" x="-201.5" y="0.84" text-anchor="end">8:r:1,5</text>
<text transform="translate(230.7,234.55) rotate(82.79)" x="-201.5" y="0.84" text-anchor="end">8:r:1,5</text>
<text transform="translate(230.7,234.55) rotate(84.53)" x="-201.5" y="0.84" text-anchor="end">8:r:1,5</text>
<text transform="translate(230.7,234.55) rotate(86.25)" x="-201.5" y="0.84" text-anchor="end">8:r:1,5</text>
<text transform="translate(230.7,234.55) rotate(87.98)" x="-201.5" y="0.84" text-anchor="end">8:r:1,5</text>
<text transform="translate(230.7,234.55) rotate(89.71)" x="-201.5" y="0.84" text-anchor="end">8:r:1,5</text>
<text transform="translate(230.7,234.55) rotate(-88.56)" x="201.5" y="0.84">8:r:1,5</text>
<text transform="translate(230.7,234.55) rotate(-86.83)" x="201.5" y="0.84">8:r:1,5</text>
<text transform="translate(230.7,234.55) rotate(-85.09)" x="201.5" y="0.84">8:r:1,5</text>
<text transform="translate(230.7,234.55) rotate(-83.37)" x="201.5" y="0.84">8:r:1,5</text>
<text transform="translate(230.7,234.55) rotate(-81.64)" x="201.5" y="0.84">8:r:1,5</text>
<text transform="translate(230.7,234.55) rotate(-79.91)" x="201.5" y="0.84">8:r:1,5</text>
<text transform="translate(230.7,234.55) rotate(-78.18)" x="201.5" y="0.84">8:r:1,5</text>
<text transform="translate(230.7,234.55) rotate(-76.45)" x="201.5" y="0.84">8:r:1,5</text>
<text transform="translate(230.7,234.55) rotate(-74.72)" x="201.5" y="0.84">8:r:1,5</text>
<text transform="translate(230.7,234.55) rotate(-72.99)" x="201.5" y="0.84">8:r:1,5</text>
<text transform="translate(230.7,234.55) rotate(-71.25)" x="201.5" y="0.84">8:r:1,5</text>
<text transform="translate(230.7,234.55) rotate(-69.53)" x="201.5" y="0.84">8:r:1,5</text>
<text transform="translate(230.7,234.55) rotate(-67.80)" x="201.5" y="0.84">8:r:1,5</text>
<text transform="translate(230.7,234.55) rotate(-66.07)" x="201.5" y="0.84">1,4,[5],12:b:-</text>
<text transform="translate(230.7,234.55) rotate(-64.36)" x="201.5" y="0.84">1,4,[5],12:b:-</text>
<text transform="translate(230.7,234.55) rotate(-62.65)" x="201.5" y="0.84">1,4,[5],12:b:-</text>
<text transform="translate(230.7,234.55) rotate(-60.93)" x="201.5" y="0.84">1,4,[5],12:b:-</text>
<text transform="translate(230.7,234.55) rotate(-59.22)" x="201.5" y="0.84">1,4,[5],12:b:-</text>
<text transform="translate(230.7,234.55) rotate(-57.51)" x="201.5" y="0.84">1,4,[5],12:b:-</text>
<text transform="translate(230.7,234.55) rotate(-55.79)" x="201.5" y="0.84">1,4,[5],12:b:-</text>
<text transform="translate(230.7,234.55) rotate(-54.08)" x="201.5" y="0.84">1,4,[5],12:b:-</text>
<text transform="translate(230.7,234.55) rotate(-52.37)" x="201.5" y="0.84">1,4,[5],12:b:-</text>
<text transform="translate(230.7,234.55) rotate(-50.65)" x="201.5" y="0.84">1,4,[5],12:b:-</text>
<text transform="translate(230.7,234.55) rotate(-48.94)" x="201.5" y="0.84">1,4,[5],12:b:-</text>
<text transform="translate(230.7,234.55) rotate(-47.23)" x="201.5" y="0.84">1,4,[5],12:b:-</text>
<text transform="translate(230.7,234.55) rotate(-45.51)" x="201.5" y="0.84">1,4,[5],12:b:-</text>
<text transform="translate(230.7,234.55) rotate(-43.80)" x="201.5" y="0.84">1,4,[5],12:b:-</text>
<text transform="translate(230.7,234.55) rotate(-42.09)" x="201.5" y="0.84">1,4,[5],12:b:-</text>
<text transform="translate(230.7,234.55) rotate(-40.37)" x="201.5" y="0.84">1,4,[5],12:b:-</text>
<text transform="translate(230.7,234.55) rotate(-38.66)" x="201.5" y="0.84">1,4,[5],12:b:-</text>
<text transform="translate(230.7,234.55) rotate(-36.95)" x="201.5" y="0.84">1,4,[5],12:b:-</text>
<text transform="translate(230.7,234.55) rotate(-34.64)" x="201.5" y="0.84">1,9,12:g,m:-</text>
<text transform="translate(230.7,234.55) rotate(-32.95)" x="201.5" y="0.84">1,9,12:g,m:-</text>
<text transform="translate(230.7,234.55) rotate(-31.25)" x="201.5" y="0.84">1,9,12:g,m:-</text>
<text transform="translate(230.7,234.55) rotate(-29.56)" x="201.5" y="0.84">1,9,12:g,m:-</text>
<text transform="translate(230.7,234.55) rotate(-27.87)" x="201.5" y="0.84">1,9,12:g,m:-</text>
<text transform="translate(230.7,234.55) rotate(-26.17)" x="201.5" y="0.84">1,9,12:g,m:-</text>
<text transform="translate(230.7,234.55) rotate(-24.48)" x="201.5" y="0.84">1,9,12:g,m:-</text>
<text transform="translate(230.7,234.55) rotate(-22.79)" x="201.5" y="0.84">1,9,12:g,m:-</text>
<text transform="translate(230.7,234.55) rotate(-21.09)" x="201.5" y="0.84">1,9,12:g,m:-</text>
<text transform="translate(230.7,234.55) rotate(-19.40)" x="201.5" y="0.84">1,9,12:g,m:-</text>
<text transform="translate(230.7,234.55) rotate(-17.71)" x="201.5" y="0.84">1,9,12:g,m:-</text>
<text transform="translate(230.7,234.55) rotate(-16.01)" x="201.5" y="0.84">1,9,12:g,m:-</text>
<text transform="translate(230.7,234.55) rotate(-14.32)" x="201.5" y="0.84">1,9,12:g,m:-</text>
<text transform="translate(230.7,234.55) rotate(-12.63)" x="201.5" y="0.84">1,9,12:g,m:-</text>
<text transform="translate(230.7,234.55) rotate(-10.94)" x="201.5" y="0.84">1,9,12:g,m:-</text>
<text transform="translate(230.7,234.55) rotate(-9.24)" x="201.5" y="0.84">1,9,12:g,m:-</text>
<text transform="translate(230.7,234.55) rotate(-7.55)" x="201.5" y="0.84">1,9,12:g,m:-</text>
<text transform="translate(230.7,234.55) rotate(-5.86)" x="201.5" y="0.84">1,9,12:g,m:-</text>
<text transform="translate(230.7,234.55) rotate(-4.16)" x="201.5" y="0.84">1,9,12:g,m:-</text>
<text transform="translate(230.7,234.55) rotate(-2.47)" x="201.5" y="0.84">1,9,12:g,m:-</text>
<text transform="translate(230.7,234.55) rotate(-0.78)" x="201.5" y="0.84">1,9,12:g,m:-</text>
<text transform="translate(230.7,234.55) rotate(0.92)" x="201.5" y="0.84">1,9,12:g,m:-</text>
<text transform="translate(230.7,234.55) rotate(2.61)" x="201.5" y="0.84">1,9,12:g,m:-</text>
<text transform="translate(230.7,234.55) rotate(4.30)" x="201.5" y="0.84">1,9,12:g,m:-</text>
<text transform="translate(230.7,234.55) rotate(6.00)" x="201.5" y="0.84">1,9,12:g,m:-</text>
<text transform="translate(230.7,234.55) rotate(7.69)" x="201.5" y="0.84">1,9,12:g,m:-</text>
<text transform="translate(230.7,234.55) rotate(9.38)" x="201.5" y="0.84">1,9,12:g,m:-</text>
<text transform="translate(230.7,234.55) rotate(11.08)" x="201.5" y="0.84">1,9,12:g,m:-</text>
<text transform="translate(230.7,234.55) rotate(12.77)" x="201.5" y="0.84">1,9,12:g,m:-</text>
<text transform="translate(230.7,234.55) rotate(14.46)" x="201.5" y="0.84">1,9,12:g,m:-</text>
<text transform="translate(230.7,234.55) rotate(16.16)" x="201.5" y="0.84">1,9,12:g,m:-</text>
<text transform="translate(230.7,234.55) rotate(17.85)" x="201.5" y="0.84">1,9,12:g,m:-</text>
<text transform="translate(230.7,234.55) rotate(19.54)" x="201.5" y="0.84">1,9,12:g,m:-</text>
<text transform="translate(230.7,234.55) rotate(21.24)" x="201.5" y="0.84">1,9,12:g,m:-</text>
<text transform="translate(230.7,234.55) rotate(22.93)" x="201.5" y="0.84">1,9,12:g,m:-</text>
<text transform="translate(230.7,234.55) rotate(24.62)" x="201.5" y="0.84">1,9,12:g,m:-</text>
<text transform="translate(230.7,234.55) rotate(26.32)" x="201.5" y="0.84">1,9,12:g,m:-</text>
<text transform="translate(230.7,234.55) rotate(28.01)" x="201.5" y="0.84">1,9,12:g,m:-</text>
<text transform="translate(230.7,234.55) rotate(29.70)" x="201.5" y="0.84">1,9,12:g,m:-</text>
<text transform="translate(230.7,234.55) rotate(31.39)" x="201.5" y="0.84">1,9,12:g,m:-</text>
<text transform="translate(230.7,234.55) rotate(33.09)" x="201.5" y="0.84">1,9,12:g,m:-</text>
<text transform="translate(230.7,234.55) rotate(34.78)" x="201.5" y="0.84">1,9,12:g,m:-</text>
<text transform="translate(230.7,234.55) rotate(36.47)" x="201.5" y="0.84">1,9,12:g,m:-</text>
<text transform="translate(230.7,234.55) rotate(38.17)" x="201.5" y="0.84">1,9,12:g,m:-</text>
<text transform="translate(230.7,234.55) rotate(39.86)" x="201.5" y="0.84">1,9,12:g,m:-</text>
<text transform="translate(230.7,234.55) rotate(41.55)" x="201.5" y="0.84">1,9,12:g,m:-</text>
<text transform="translate(230.7,234.55) rotate(43.25)" x="201.5" y="0.84">1,9,12:g,m:-</text>
<text transform="translate(230.7,234.55) rotate(44.94)" x="201.5" y="0.84">1,9,12:g,m:-</text>
<text transform="translate(230.7,234.55) rotate(46.63)" x="201.5" y="0.84">1,9,12:g,m:-</text>
<text transform="translate(230.7,234.55) rotate(48.33)" x="201.5" y="0.84">1,9,12:g,m:-</text>
<text transform="translate(230.7,234.55) rotate(50.02)" x="201.5" y="0.84">1,9,12:g,m:-</text>
<text transform="translate(230.7,234.55) rotate(51.71)" x="201.5" y="0.84">1,9,12:g,m:-</text>
<text transform="translate(230.7,234.55) rotate(53.41)" x="201.5" y="0.84">1,9,12:g,m:-</text>
<text transform="translate(230.7,234.55) rotate(55.10)" x="201.5" y="0.84">1,9,12:g,m:-</text>
<text transform="translate(230.7,234.55) rotate(56.79)" x="201.5" y="0.84">1,9,12:g,m:-</text>
<text transform="translate(230.7,234.55) rotate(58.49)" x="201.5" y="0.84">1,9,12:g,m:-</text>
<text transform="translate(230.7,234.55) rotate(60.18)" x="201.5" y="0.84">1,9,12:g,m:-</text>
<text transform="translate(230.7,234.55) rotate(61.87)" x="201.5" y="0.84">1,9,12:g,m:-</text>
<text transform="translate(230.7,234.55) rotate(63.57)" x="201.5" y="0.84">1,9,12:g,m:-</text>
<text transform="translate(230.7,234.55) rotate(65.26)" x="201.5" y="0.84">1,9,12:g,m:-</text>
<text transform="translate(230.7,234.55) rotate(66.95)" x="201.5" y="0.84">1,9,12:g,m:-</text>
<text transform="translate(230.7,234.55) rotate(68.65)" x="201.5" y="0.84">1,9,12:g,m:-</text>
<text transform="translate(230.7,234.55) rotate(70.34)" x="201.5" y="0.84">1,9,12:g,m:-</text>
<text transform="translate(230.7,234.55) rotate(72.03)" x="201.5" y="0.84">1,9,12:g,m:-</text>
<text transform="translate(230.7,234.55) rotate(73.72)" x="201.5" y="0.84">1,9,12:g,m:-</text>
<text transform="translate(230.7,234.55) rotate(75.42)" x="201.5" y="0.84">1,9,12:g,m:-</text>
<text transform="translate(230.7,234.55) rotate(77.11)" x="201.5" y="0.84">1,9,12:g,m:-</text>
<text transform="translate(230.7,234.55) rotate(78.80)" x="201.5" y="0.84">1,9,12:g,m:-</text>
<text transform="translate(230.7,234.55) rotate(80.50)" x="201.5" y="0.84">1,9,12:g,m:-</text>
<text transform="translate(230.7,234.55) rotate(82.19)" x="201.5" y="0.84">1,9,12:g,m:-</text>
<text transform="translate(230.7,234.55) rotate(83.88)" x="201.5" y="0.84">1,9,12:g,m:-</text>
<text transform="translate(230.7,234.55) rotate(85.58)" x="201.5" y="0.84">1,9,12:g,m:-</text>
<text transform="translate(230.7,234.55) rotate(87.27)" x="201.5" y="0.84">1,9,12:g,m:-</text>
<text transform="translate(230.7,234.55) rotate(88.96)" x="201.5" y="0.84">1,9,12:g,m:-</text>
<text transform="translate(230.7,234.55) rotate(270.66)" x="-201.5" y="0.84" text-anchor="end">1,9,12:g,m:-</text>
<text transform="translate(230.7,234.55) rotate(272.35)" x="-201.5" y="0.84" text-anchor="end">1,9,12:g,m:-</text>
<text transform="translate(230.7,234.55) rotate(274.04)" x="-201.5" y="0.84" text-anchor="end">1,9,12:g,m:-</text>
<text transform="translate(230.7,234.55) rotate(275.74)" x="-201.5" y="0.84" text-anchor="end">1,9,12:g,m:-</text>
<text transform="translate(230.7,234.55) rotate(277.43)" x="-201.5" y="0.84" text-anchor="end">1,9,12:g,m:-</text>
<text transform="translate(230.7,234.55) rotate(279.12)" x="-201.5" y="0.84" text-anchor="end">1,9,12:g,m:-</text>
<text transform="translate(230.7,234.55) rotate(280.82)" x="-201.5" y="0.84" text-anchor="end">1,9,12:g,m:-</text>
<text transform="translate(230.7,234.55) rotate(282.51)" x="-201.5" y="0.84" text-anchor="end">1,9,12:g,m:-</text>
<text transform="translate(230.7,234.55) rotate(284.20)" x="-201.5" y="0.84" text-anchor="end">1,9,12:g,m:-</text>
<text transform="translate(230.7,234.55) rotate(285.90)" x="-201.5" y="0.84" text-anchor="end">1,9,12:g,m:-</text>
<text transform="translate(230.7,234.55) rotate(287.59)" x="-201.5" y="0.84" text-anchor="end">1,9,12:g,m:-</text>
<text transform="translate(230.7,234.55) rotate(289.28)" x="-201.5" y="0.84" text-anchor="end">1,9,12:g,m:-</text>
<text transform="translate(230.7,234.55) rotate(290.98)" x="-201.5" y="0.84" text-anchor="end">1,9,12:g,m:-</text>
<text transform="translate(230.7,234.55) rotate(292.67)" x="-201.5" y="0.84" text-anchor="end">1,9,12:g,m:-</text>
<text transform="translate(230.7,234.55) rotate(294.36)" x="-201.5" y="0.84" text-anchor="end">1,9,12:g,m:-</text>
<text transform="translate(230.7,234.55) rotate(296.05)" x="-201.5" y="0.84" text-anchor="end">1,9,12:g,m:-</text>
<text transform="translate(230.7,234.55) rotate(297.75)" x="-201.5" y="0.84" text-anchor="end">1,9,12:g,m:-</text>
<text transform="translate(230.7,234.55) rotate(299.44)" x="-201.5" y="0.84" text-anchor="end">1,9,12:g,m:-</text>
<text transform="translate(230.7,234.55) rotate(301.13)" x="-201.5" y="0.84" text-anchor="end">1,9,12:g,m:-</text>
<text transform="translate(230.7,234.55) rotate(302.83)" x="-201.5" y="0.84" text-anchor="end">1,9,12:g,m:-</text>
<text transform="translate(230.7,234.55) rotate(304.52)" x="-201.5" y="0.84" text-anchor="end">1,9,12:g,m:-</text>
<text transform="translate(230.7,234.55) rotate(306.21)" x="-201.5" y="0.84" text-anchor="end">1,9,12:g,m:-</text>
<text transform="translate(230.7,234.55) rotate(307.91)" x="-201.5" y="0.84" text-anchor="end">1,9,12:g,m:-</text>
<text transform="translate(230.7,234.55) rotate(309.60)" x="-201.5" y="0.84" text-anchor="end">1,9,12:g,m:-</text>
<text transform="translate(230.7,234.55) rotate(311.29)" x="-201.5" y="0.84" text-anchor="end">1,9,12:g,m:-</text>
<text transform="translate(230.7,234.55) rotate(312.99)" x="-201.5" y="0.84" text-anchor="end">1,9,12:g,m:-</text>
<text transform="translate(230.7,234.55) rotate(314.68)" x="-201.5" y="0.84" text-anchor="end">1,9,12:g,m:-</text>
<text transform="translate(230.7,234.55) rotate(316.37)" x="-201.5" y="0.84" text-anchor="end">1,9,12:g,m:-</text>
<text transform="translate(230.7,234.55) rotate(318.07)" x="-201.5" y="0.84" text-anchor="end">1,9,12:g,m:-</text>
<text transform="translate(230.7,234.55) rotate(319.76)" x="-201.5" y="0.84" text-anchor="end">1,9,12:g,m:-</text>
<text transform="translate(230.7,234.55) rotate(321.45)" x="-201.5" y="0.84" text-anchor="end">1,9,12:g,m:-</text>
<text transform="translate(230.7,234.55) rotate(323.15)" x="-201.5" y="0.84" text-anchor="end">1,9,12:g,m:-</text>
<text transform="translate(230.7,234.55) rotate(324.84)" x="-201.5" y="0.84" text-anchor="end">1,9,12:g,m:-</text>
<text transform="translate(230.7,234.55) rotate(326.53)" x="-201.5" y="0.84" text-anchor="end">1,9,12:g,m:-</text>
<text transform="translate(230.7,234.55) rotate(328.23)" x="-201.5" y="0.84" text-anchor="end">1,9,12:g,m:-</text>
<text transform="translate(230.7,234.55) rotate(329.92)" x="-201.5" y="0.84" text-anchor="end">1,9,12:g,m:-</text>
<text transform="translate(230.7,234.55) rotate(331.61)" x="-201.5" y="0.84" text-anchor="end">1,9,12:g,m:-</text>
<text transform="translate(230.7,234.55) rotate(333.31)" x="-201.5" y="0.84" text-anchor="end">1,9,12:g,m:-</text>
<text transform="translate(230.7,234.55) rotate(335.00)" x="-201.5" y="0.84" text-anchor="end">1,9,12:g,m:-</text>
<text transform="translate(230.7,234.55) rotate(336.69)" x="-201.5" y="0.84" text-anchor="end">1,9,12:g,m:-</text>
<text transform="translate(230.7,234.55) rotate(338.38)" x="-201.5" y="0.84" text-anchor="end">1,9,12:g,m:-</text>
<text transform="translate(230.7,234.55) rotate(340.08)" x="-201.5" y="0.84" text-anchor="end">1,9,12:g,m:-</text>
<text transform="translate(230.7,234.55) rotate(341.77)" x="-201.5" y="0.84" text-anchor="end">1,9,12:g,m:-</text>
<text transform="translate(230.7,234.55) rotate(343.46)" x="-201.5" y="0.84" text-anchor="end">1,9,12:g,m:-</text>
<text transform="translate(230.7,234.55) rotate(345.16)" x="-201.5" y="0.84" text-anchor="end">1,9,12:g,m:-</text>
<text transform="translate(230.7,234.55) rotate(346.85)" x="-201.5" y="0.84" text-anchor="end">1,9,12:g,m:-</text>
<text transform="translate(230.7,234.55) rotate(348.54)" x="-201.5" y="0.84" text-anchor="end">1,9,12:g,m:-</text>
<text transform="translate(230.7,234.55) rotate(350.24)" x="-201.5" y="0.84" text-anchor="end">1,9,12:g,m:-</text>
<text transform="translate(230.7,234.55) rotate(351.93)" x="-201.5" y="0.84" text-anchor="end">1,9,12:g,m:-</text>
<text transform="translate(230.7,234.55) rotate(353.62)" x="-201.5" y="0.84" text-anchor="end">1,9,12:g,m:-</text>
<text transform="translate(230.7,234.55) rotate(355.32)" x="-201.5" y="0.84" text-anchor="end">1,9,12:g,m:-</text>
<text transform="translate(230.7,234.55) rotate(357.01)" x="-201.5" y="0.84" text-anchor="end">1,9,12:g,m:-</text>
<text transform="translate(230.7,234.55) rotate(358.70)" x="-201.5" y="0.84" text-anchor="end">1,9,12:g,m:-</text>
<text transform="translate(230.7,234.55) rotate(360.40)" x="-201.5" y="0.84" text-anchor="end">1,9,12:g,m:-</text>
<text transform="translate(230.7,234.55) rotate(362.09)" x="-201.5" y="0.84" text-anchor="end">1,9,12:g,m:-</text>
<text transform="translate(230.7,234.55) rotate(363.78)" x="-201.5" y="0.84" text-anchor="end">1,9,12:g,m:-</text>
<text transform="translate(230.7,234.55) rotate(365.48)" x="-201.5" y="0.84" text-anchor="end">1,9,12:g,m:-</text>
<text transform="translate(230.7,234.55) rotate(367.17)" x="-201.5" y="0.84" text-anchor="end">1,9,12:g,m:-</text>
<text transform="translate(230.7,234.55) rotate(368.86)" x="-201.5" y="0.84" text-anchor="end">1,9,12:g,m:-</text>
<text transform="translate(230.7,234.55) rotate(370.56)" x="-201.5" y="0.84" text-anchor="end">1,9,12:g,m:-</text>
<text transform="translate(230.7,234.55) rotate(372.25)" x="-201.5" y="0.84" text-anchor="end">1,9,12:g,m:-</text>
<text transform="translate(230.7,234.55) rotate(373.94)" x="-201.5" y="0.84" text-anchor="end">1,9,12:g,m:-</text>
<text transform="translate(230.7,234.55) rotate(375.64)" x="-201.5" y="0.84" text-anchor="end">1,9,12:g,m:-</text>
<text transform="translate(230.7,234.55) rotate(377.33)" x="-201.5" y="0.84" text-anchor="end">1,9,12:g,m:-</text>
<text transform="translate(230.7,234.55) rotate(379.02)" x="-201.5" y="0.84" text-anchor="end">1,9,12:g,m:-</text>
<text transform="translate(230.7,234.55) rotate(380.71)" x="-201.5" y="0.84" text-anchor="end">1,9,12:g,m:-</text>
<text transform="translate(230.7,234.55) rotate(382.41)" x="-201.5" y="0.84" text-anchor="end">1,9,12:g,m:-</text>
<text transform="translate(230.7,234.55) rotate(384.10)" x="-201.5" y="0.84" text-anchor="end">1,9,12:g,m:-</text>
<text transform="translate(230.7,234.55) rotate(385.79)" x="-201.5" y="0.84" text-anchor="end">1,9,12:g,m:-</text>
<text transform="translate(230.7,234.55) rotate(387.49)" x="-201.5" y="0.84" text-anchor="end">1,9,12:g,m:-</text>
<text transform="translate(230.7,234.55) rotate(389.18)" x="-201.5" y="0.84" text-anchor="end">1,9,12:g,m:-</text>
<text transform="translate(230.7,234.55) rotate(390.87)" x="-201.5" y="0.84" text-anchor="end">1,9,12:g,m:-</text>
<text transform="translate(230.7,234.55) rotate(392.57)" x="-201.5" y="0.84" text-anchor="end">1,9,12:g,m:-</text>
<text transform="translate(230.7,234.55) rotate(394.26)" x="-201.5" y="0.84" text-anchor="end">1,9,12:g,m:-</text>
<text transform="translate(230.7,234.55) rotate(395.95)" x="-201.5" y="0.84" text-anchor="end">1,9,12:g,m:-</text>
<text transform="translate(230.7,234.55) rotate(397.65)" x="-201.5" y="0.84" text-anchor="end">1,9,12:g,m:-</text>
<text transform="translate(230.7,234.55) rotate(399.34)" x="-201.5" y="0.84" text-anchor="end">1,9,12:g,m:-</text>
</g>
<g font-size="2.4">
<text transform="translate(230.7,234.55) rotate(49.94)" x="-193.0" y="0.84">439563</text>
<text transform="translate(230.7,234.55) rotate(51.67)" x="-193.0" y="0.84">258176</text>
<text transform="translate(230.7,234.55) rotate(53.40)" x="-193.0" y="0.84">514002</text>
<text transform="translate(230.7,234.55) rotate(55.12)" x="-193.0" y="0.84">782554</text>
<text transform="translate(230.7,234.55) rotate(56.85)" x="-193.0" y="0.84">150631</text>
<text transform="translate(230.7,234.55) rotate(58.58)" x="-193.0" y="0.84">175954</text>
<text transform="translate(230.7,234.55) rotate(60.30)" x="-193.0" y="0.84">9990608</text>
<text transform="translate(230.7,234.55) rotate(62.03)" x="-193.0" y="0.84">2579240</text>
<text transform="translate(230.7,234.55) rotate(63.77)" x="-193.0" y="0.84">7135241</text>
<text transform="translate(230.7,234.55) rotate(65.50)" x="-193.0" y="0.84">1973060</text>
<text transform="translate(230.7,234.55) rotate(67.22)" x="-193.0" y="0.84">9513358</text>
<text transform="translate(230.7,234.55) rotate(68.95)" x="-193.0" y="0.84">4602037</text>
<text transform="translate(230.7,234.55) rotate(70.69)" x="-193.0" y="0.84">1629072</text>
<text transform="translate(230.7,234.55) rotate(72.41)" x="-193.0" y="0.84">2441955</text>
<text transform="translate(230.7,234.55) rotate(74.14)" x="-193.0" y="0.84">8275367</text>
<text transform="translate(230.7,234.55) rotate(75.88)" x="-193.0" y="0.84">8015764</text>
<text transform="translate(230.7,234.55) rotate(77.60)" x="-193.0" y="0.84">2171979</text>
<text transform="translate(230.7,234.55) rotate(79.33)" x="-193.0" y="0.84">5037655</text>
<text transform="translate(230.7,234.55) rotate(81.06)" x="-193.0" y="0.84">2521911</text>
<text transform="translate(230.7,234.55) rotate(82.79)" x="-193.0" y="0.84">8122250</text>
<text transform="translate(230.7,234.55) rotate(84.53)" x="-193.0" y="0.84">1991709</text>
<text transform="translate(230.7,234.55) rotate(86.25)" x="-193.0" y="0.84">3077052</text>
<text transform="translate(230.7,234.55) rotate(87.98)" x="-193.0" y="0.84">4745328</text>
<text transform="translate(230.7,234.55) rotate(89.71)" x="-193.0" y="0.84">2037872</text>
<text transform="translate(230.7,234.55) rotate(-88.56)" x="193.0" y="0.84" text-anchor="end">7655194</text>
<text transform="translate(230.7,234.55) rotate(-86.83)" x="193.0" y="0.84" text-anchor="end">1831970</text>
<text transform="translate(230.7,234.55) rotate(-85.09)" x="193.0" y="0.84" text-anchor="end">4709137</text>
<text transform="translate(230.7,234.55) rotate(-83.37)" x="193.0" y="0.84" text-anchor="end">1781527</text>
<text transform="translate(230.7,234.55) rotate(-81.64)" x="193.0" y="0.84" text-anchor="end">3234302</text>
<text transform="translate(230.7,234.55) rotate(-79.91)" x="193.0" y="0.84" text-anchor="end">5858837</text>
<text transform="translate(230.7,234.55) rotate(-78.18)" x="193.0" y="0.84" text-anchor="end">8031986</text>
<text transform="translate(230.7,234.55) rotate(-76.45)" x="193.0" y="0.84" text-anchor="end">3420198</text>
<text transform="translate(230.7,234.55) rotate(-74.72)" x="193.0" y="0.84" text-anchor="end">2976225</text>
<text transform="translate(230.7,234.55) rotate(-72.99)" x="193.0" y="0.84" text-anchor="end">6175466</text>
<text transform="translate(230.7,234.55) rotate(-71.25)" x="193.0" y="0.84" text-anchor="end">4032085</text>
<text transform="translate(230.7,234.55) rotate(-69.53)" x="193.0" y="0.84" text-anchor="end">2728987</text>
<text transform="translate(230.7,234.55) rotate(-67.80)" x="193.0" y="0.84" text-anchor="end">4151952</text>
<text transform="translate(230.7,234.55) rotate(-66.07)" x="193.0" y="0.84" text-anchor="end">490487</text>
<text transform="translate(230.7,234.55) rotate(-64.36)" x="193.0" y="0.84" text-anchor="end">202163</text>
<text transform="translate(230.7,234.55) rotate(-62.65)" x="193.0" y="0.84" text-anchor="end">674351</text>
<text transform="translate(230.7,234.55) rotate(-60.93)" x="193.0" y="0.84" text-anchor="end">846702</text>
<text transform="translate(230.7,234.55) rotate(-59.22)" x="193.0" y="0.84" text-anchor="end">165839</text>
<text transform="translate(230.7,234.55) rotate(-57.51)" x="193.0" y="0.84" text-anchor="end">691783</text>
<text transform="translate(230.7,234.55) rotate(-55.79)" x="193.0" y="0.84" text-anchor="end">162496</text>
<text transform="translate(230.7,234.55) rotate(-54.08)" x="193.0" y="0.84" text-anchor="end">749078</text>
<text transform="translate(230.7,234.55) rotate(-52.37)" x="193.0" y="0.84" text-anchor="end">315963</text>
<text transform="translate(230.7,234.55) rotate(-50.65)" x="193.0" y="0.84" text-anchor="end">620528</text>
<text transform="translate(230.7,234.55) rotate(-48.94)" x="193.0" y="0.84" text-anchor="end">813451</text>
<text transform="translate(230.7,234.55) rotate(-47.23)" x="193.0" y="0.84" text-anchor="end">657549</text>
<text transform="translate(230.7,234.55) rotate(-45.51)" x="193.0" y="0.84" text-anchor="end">548363</text>
<text transform="translate(230.7,234.55) rotate(-43.80)" x="193.0" y="0.84" text-anchor="end">914983</text>
<text transform="translate(230.7,234.55) rotate(-42.09)" x="193.0" y="0.84" text-anchor="end">429407</text>
<text transform="translate(230.7,234.55) rotate(-40.37)" x="193.0" y="0.84" text-anchor="end">588218</text>
<text transform="translate(230.7,234.55) rotate(-38.66)" x="193.0" y="0.84" text-anchor="end">714006</text>
<text transform="translate(230.7,234.55) rotate(-36.95)" x="193.0" y="0.84" text-anchor="end">575198</text>
<text transform="translate(230.7,234.55) rotate(-34.64)" x="193.0" y="0.84" text-anchor="end">389146</text>
<text transform="translate(230.7,234.55) rotate(-32.95)" x="193.0" y="0.84" text-anchor="end">324328</text>
<text transform="translate(230.7,234.55) rotate(-31.25)" x="193.0" y="0.84" text-anchor="end">270494</text>
<text transform="translate(230.7,234.55) rotate(-29.56)" x="193.0" y="0.84" text-anchor="end">842967</text>
<text transform="translate(230.7,234.55) rotate(-27.87)" x="193.0" y="0.84" text-anchor="end">198499</text>
<text transform="translate(230.7,234.55) rotate(-26.17)" x="193.0" y="0.84" text-anchor="end">742948</text>
<text transform="translate(230.7,234.55) rotate(-24.48)" x="193.0" y="0.84" text-anchor="end">827710</text>
<text transform="translate(230.7,234.55) rotate(-22.79)" x="193.0" y="0.84" text-anchor="end">265953</text>
<text transform="translate(230.7,234.55) rotate(-21.09)" x="193.0" y="0.84" text-anchor="end">95831</text>
<text transform="translate(230.7,234.55) rotate(-19.40)" x="193.0" y="0.84" text-anchor="end">612326</text>
<text transform="translate(230.7,234.55) rotate(-17.71)" x="193.0" y="0.84" text-anchor="end">324834</text>
<text transform="translate(230.7,234.55) rotate(-16.01)" x="193.0" y="0.84" text-anchor="end">560708</text>
<text transform="translate(230.7,234.55) rotate(-14.32)" x="193.0" y="0.84" text-anchor="end">529167</text>
<text transform="translate(230.7,234.55) rotate(-12.63)" x="193.0" y="0.84" text-anchor="end">927648</text>
<text transform="translate(230.7,234.55) rotate(-10.94)" x="193.0" y="0.84" text-anchor="end">370160</text>
<text transform="translate(230.7,234.55) rotate(-9.24)" x="193.0" y="0.84" text-anchor="end">774878</text>
<text transform="translate(230.7,234.55) rotate(-7.55)" x="193.0" y="0.84" text-anchor="end">480636</text>
<text transform="translate(230.7,234.55) rotate(-5.86)" x="193.0" y="0.84" text-anchor="end">311924</text>
<text transform="translate(230.7,234.55) rotate(-4.16)" x="193.0" y="0.84" text-anchor="end">648539</text>
<text transform="translate(230.7,234.55) rotate(-2.47)" x="193.0" y="0.84" text-anchor="end">86756</text>
<text transform="translate(230.7,234.55) rotate(-0.78)" x="193.0" y="0.84" text-anchor="end">133800</text>
<text transform="translate(230.7,234.55) rotate(0.92)" x="193.0" y="0.84" text-anchor="end">546800</text>
<text transform="translate(230.7,234.55) rotate(2.61)" x="193.0" y="0.84" text-anchor="end">448433</text>
<text transform="translate(230.7,234.55) rotate(4.30)" x="193.0" y="0.84" text-anchor="end">182975</text>
<text transform="translate(230.7,234.55) rotate(6.00)" x="193.0" y="0.84" text-anchor="end">803919</text>
<text transform="translate(230.7,234.55) rotate(7.69)" x="193.0" y="0.84" text-anchor="end">368671</text>
<text transform="translate(230.7,234.55) rotate(9.38)" x="193.0" y="0.84" text-anchor="end">169367</text>
<text transform="translate(230.7,234.55) rotate(11.08)" x="193.0" y="0.84" text-anchor="end">988604</text>
<text transform="translate(230.7,234.55) rotate(12.77)" x="193.0" y="0.84" text-anchor="end">522714</text>
<text transform="translate(230.7,234.55) rotate(14.46)" x="193.0" y="0.84" text-anchor="end">452182</text>
<text transform="translate(230.7,234.55) rotate(16.16)" x="193.0" y="0.84" text-anchor="end">51111</text>
<text transform="translate(230.7,234.55) rotate(17.85)" x="193.0" y="0.84" text-anchor="end">710675</text>
<text transform="translate(230.7,234.55) rotate(19.54)" x="193.0" y="0.84" text-anchor="end">91390</text>
<text transform="translate(230.7,234.55) rotate(21.24)" x="193.0" y="0.84" text-anchor="end">811710</text>
<text transform="translate(230.7,234.55) rotate(22.93)" x="193.0" y="0.84" text-anchor="end">595184</text>
<text transform="translate(230.7,234.55) rotate(24.62)" x="193.0" y="0.84" text-anchor="end">610861</text>
<text transform="translate(230.7,234.55) rotate(26.32)" x="193.0" y="0.84" text-anchor="end">837425</text>
<text transform="translate(230.7,234.55) rotate(28.01)" x="193.0" y="0.84" text-anchor="end">928005</text>
<text transform="translate(230.7,234.55) rotate(29.70)" x="193.0" y="0.84" text-anchor="end">868105</text>
<text transform="translate(230.7,234.55) rotate(31.39)" x="193.0" y="0.84" text-anchor="end">338988</text>
<text transform="translate(230.7,234.55) rotate(33.09)" x="193.0" y="0.84" text-anchor="end">366644</text>
<text transform="translate(230.7,234.55) rotate(34.78)" x="193.0" y="0.84" text-anchor="end">739070</text>
<text transform="translate(230.7,234.55) rotate(36.47)" x="193.0" y="0.84" text-anchor="end">377188</text>
<text transform="translate(230.7,234.55) rotate(38.17)" x="193.0" y="0.84" text-anchor="end">633241</text>
<text transform="translate(230.7,234.55) rotate(39.86)" x="193.0" y="0.84" text-anchor="end">530801</text>
<text transform="translate(230.7,234.55) rotate(41.55)" x="193.0" y="0.84" text-anchor="end">618064</text>
<text transform="translate(230.7,234.55) rotate(43.25)" x="193.0" y="0.84" text-anchor="end">845601</text>
<text transform="translate(230.7,234.55) rotate(44.94)" x="193.0" y="0.84" text-anchor="end">488365</text>
<text transform="translate(230.7,234.55) rotate(46.63)" x="193.0" y="0.84" text-anchor="end">82103</text>
<text transform="translate(230.7,234.55) rotate(48.33)" x="193.0" y="0.84" text-anchor="end">890770</text>
<text transform="translate(230.7,234.55) rotate(50.02)" x="193.0" y="0.84" text-anchor="end">108142</text>
<text transform="translate(230.7,234.55) rotate(51.71)" x="193.0" y="0.84" text-anchor="end">293051</text>
<text transform="translate(230.7,234.55) rotate(53.41)" x="193.0" y="0.84" text-anchor="end">507128</text>
<text transform="translate(230.7,234.55) rotate(55.10)" x="193.0" y="0.84" text-anchor="end">740901</text>
<text transform="translate(230.7,234.55) rotate(56.79)" x="193.0" y="0.84" text-anchor="end">706414</text>
<text transform="translate(230.7,234.55) rotate(58.49)" x="193.0" y="0.84" text-anchor="end">78157</text>
<text transform="translate(230.7,234.55) rotate(60.18)" x="193.0" y="0.84" text-anchor="end">73616</text>
<text transform="translate(230.7,234.55) rotate(61.87)" x="193.0" y="0.84" text-anchor="end">776676</text>
<text transform="translate(230.7,234.55) rotate(63.57)" x="193.0" y="0.84" text-anchor="end">745567</text>
<text transform="translate(230.7,234.55) rotate(65.26)" x="193.0" y="0.84" text-anchor="end">334646</text>
<text transform="translate(230.7,234.55) rotate(66.95)" x="193.0" y="0.84" text-anchor="end">688563</text>
<text transform="translate(230.7,234.55) rotate(68.65)" x="193.0" y="0.84" text-anchor="end">616020</text>
<text transform="translate(230.7,234.55) rotate(70.34)" x="193.0" y="0.84" text-anchor="end">724328</text>
<text transform="translate(230.7,234.55) rotate(72.03)" x="193.0" y="0.84" text-anchor="end">871850</text>
<text transform="translate(230.7,234.55) rotate(73.72)" x="193.0" y="0.84" text-anchor="end">477288</text>
<text transform="translate(230.7,234.55) rotate(75.42)" x="193.0" y="0.84" text-anchor="end">308420</text>
<text transform="translate(230.7,234.55) rotate(77.11)" x="193.0" y="0.84" text-anchor="end">761438</text>
<text transform="translate(230.7,234.55) rotate(78.80)" x="193.0" y="0.84" text-anchor="end">414531</text>
<text transform="translate(230.7,234.55) rotate(80.50)" x="193.0" y="0.84" text-anchor="end">940129</text>
<text transform="translate(230.7,234.55) rotate(82.19)" x="193.0" y="0.84" text-anchor="end">711133</text>
<text transform="translate(230.7,234.55) rotate(83.88)" x="193.0" y="0.84" text-anchor="end">373861</text>
<text transform="translate(230.7,234.55) rotate(85.58)" x="193.0" y="0.84" text-anchor="end">33658</text>
<text transform="translate(230.7,234.55) rotate(87.27)" x="193.0" y="0.84" text-anchor="end">996341</text>
<text transform="translate(230.7,234.55) rotate(88.96)" x="193.0" y="0.84" text-anchor="end">494122</text>
<text transform="translate(230.7,234.55) rotate(270.66)" x="-193.0" y="0.84">382731</text>
<text transform="translate(230.7,234.55) rotate(272.35)" x="-193.0" y="0.84">186211</text>
<text transform="translate(230.7,234.55) rotate(274.04)" x="-193.0" y="0.84">650595</text>
<text transform="translate(230.7,234.55) rotate(275.74)" x="-193.0" y="0.84">132783</text>
<text transform="translate(230.7,234.55) rotate(277.43)" x="-193.0" y="0.84">527674</text>
<text transform="translate(230.7,234.55) rotate(279.12)" x="-193.0" y="0.84">71818</text>
<text transform="translate(230.7,234.55) rotate(280.82)" x="-193.0" y="0.84">238807</text>
<text transform="translate(230.7,234.55) rotate(282.51)" x="-193.0" y="0.84">815550</text>
<text transform="translate(230.7,234.55) rotate(284.20)" x="-193.0" y="0.84">311394</text>
<text transform="translate(230.7,234.55) rotate(285.90)" x="-193.0" y="0.84">145623</text>
<text transform="translate(230.7,234.55) rotate(287.59)" x="-193.0" y="0.84">784230</text>
<text transform="translate(230.7,234.55) rotate(289.28)" x="-193.0" y="0.84">269642</text>
<text transform="translate(230.7,234.55) rotate(290.98)" x="-193.0" y="0.84">427225</text>
<text transform="translate(230.7,234.55) rotate(292.67)" x="-193.0" y="0.84">419940</text>
<text transform="translate(230.7,234.55) rotate(294.36)" x="-193.0" y="0.84">971351</text>
<text transform="translate(230.7,234.55) rotate(296.05)" x="-193.0" y="0.84">923752</text>
<text transform="translate(230.7,234.55) rotate(297.75)" x="-193.0" y="0.84">530625</text>
<text transform="translate(230.7,234.55) rotate(299.44)" x="-193.0" y="0.84">94495</text>
<text transform="translate(230.7,234.55) rotate(301.13)" x="-193.0" y="0.84">184447</text>
<text transform="translate(230.7,234.55) rotate(302.83)" x="-193.0" y="0.84">481007</text>
<text transform="translate(230.7,234.55) rotate(304.52)" x="-193.0" y="0.84">431154</text>
<text transform="translate(230.7,234.55) rotate(306.21)" x="-193.0" y="0.84">586129</text>
<text transform="translate(230.7,234.55) rotate(307.91)" x="-193.0" y="0.84">301335</text>
<text transform="translate(230.7,234.55) rotate(309.60)" x="-193.0" y="0.84">936295</text>
<text transform="translate(230.7,234.55) rotate(311.29)" x="-193.0" y="0.84">153577</text>
<text transform="translate(230.7,234.55) rotate(312.99)" x="-193.0" y="0.84">869077</text>
<text transform="translate(230.7,234.55) rotate(314.68)" x="-193.0" y="0.84">461434</text>
<text transform="translate(230.7,234.55) rotate(316.37)" x="-193.0" y="0.84">915953</text>
<text transform="translate(230.7,234.55) rotate(318.07)" x="-193.0" y="0.84">586947</text>
<text transform="translate(230.7,234.55) rotate(319.76)" x="-193.0" y="0.84">301945</text>
<text transform="translate(230.7,234.55) rotate(321.45)" x="-193.0" y="0.84">750710</text>
<text transform="translate(230.7,234.55) rotate(323.15)" x="-193.0" y="0.84">445469</text>
<text transform="translate(230.7,234.55) rotate(324.84)" x="-193.0" y="0.84">386198</text>
<text transform="translate(230.7,234.55) rotate(326.53)" x="-193.0" y="0.84">725887</text>
<text transform="translate(230.7,234.55) rotate(328.23)" x="-193.0" y="0.84">937143</text>
<text transform="translate(230.7,234.55) rotate(329.92)" x="-193.0" y="0.84">408921</text>
<text transform="translate(230.7,234.55) rotate(331.61)" x="-193.0" y="0.84">251960</text>
<text transform="translate(230.7,234.55) rotate(333.31)" x="-193.0" y="0.84">168252</text>
<text transform="translate(230.7,234.55) rotate(335.00)" x="-193.0" y="0.84">97015</text>
<text transform="translate(230.7,234.55) rotate(336.69)" x="-193.0" y="0.84">194777</text>
<text transform="translate(230.7,234.55) rotate(338.38)" x="-193.0" y="0.84">168647</text>
<text transform="translate(230.7,234.55) rotate(340.08)" x="-193.0" y="0.84">253224</text>
<text transform="translate(230.7,234.55) rotate(341.77)" x="-193.0" y="0.84">700504</text>
<text transform="translate(230.7,234.55) rotate(343.46)" x="-193.0" y="0.84">254670</text>
<text transform="translate(230.7,234.55) rotate(345.16)" x="-193.0" y="0.84">22649</text>
<text transform="translate(230.7,234.55) rotate(346.85)" x="-193.0" y="0.84">518520</text>
<text transform="translate(230.7,234.55) rotate(348.54)" x="-193.0" y="0.84">881464</text>
<text transform="translate(230.7,234.55) rotate(350.24)" x="-193.0" y="0.84">627740</text>
<text transform="translate(230.7,234.55) rotate(351.93)" x="-193.0" y="0.84">201200</text>
<text transform="translate(230.7,234.55) rotate(353.62)" x="-193.0" y="0.84">285509</text>
<text transform="translate(230.7,234.55) rotate(355.32)" x="-193.0" y="0.84">305625</text>
<text transform="translate(230.7,234.55) rotate(357.01)" x="-193.0" y="0.84">14292</text>
<text transform="translate(230.7,234.55) rotate(358.70)" x="-193.0" y="0.84">162752</text>
<text transform="translate(230.7,234.55) rotate(360.40)" x="-193.0" y="0.84">449297</text>
<text transform="translate(230.7,234.55) rotate(362.09)" x="-193.0" y="0.84">570559</text>
<text transform="translate(230.7,234.55) rotate(363.78)" x="-193.0" y="0.84">397190</text>
<text transform="translate(230.7,234.55) rotate(365.48)" x="-193.0" y="0.84">649434</text>
<text transform="translate(230.7,234.55) rotate(367.17)" x="-193.0" y="0.84">603851</text>
<text transform="translate(230.7,234.55) rotate(368.86)" x="-193.0" y="0.84">344088</text>
<text transform="translate(230.7,234.55) rotate(370.56)" x="-193.0" y="0.84">141587</text>
<text transform="translate(230.7,234.55) rotate(372.25)" x="-193.0" y="0.84">734035</text>
<text transform="translate(230.7,234.55) rotate(373.94)" x="-193.0" y="0.84">910938</text>
<text transform="translate(230.7,234.55) rotate(375.64)" x="-193.0" y="0.84">550531</text>
<text transform="translate(230.7,234.55) rotate(377.33)" x="-193.0" y="0.84">657592</text>
<text transform="translate(230.7,234.55) rotate(379.02)" x="-193.0" y="0.84">696782</text>
<text transform="translate(230.7,234.55) rotate(380.71)" x="-193.0" y="0.84">719047</text>
<text transform="translate(230.7,234.55) rotate(382.41)" x="-193.0" y="0.84">785720</text>
<text transform="translate(230.7,234.55) rotate(384.10)" x="-193.0" y="0.84">66615</text>
<text transform="translate(230.7,234.55) rotate(385.79)" x="-193.0" y="0.84">488825</text>
<text transform="translate(230.7,234.55) rotate(387.49)" x="-193.0" y="0.84">953228</text>
<text transform="translate(230.7,234.55) rotate(389.18)" x="-193.0" y="0.84">923288</text>
<text transform="translate(230.7,234.55) rotate(390.87)" x="-193.0" y="0.84">827857</text>
<text transform="translate(230.7,234.55) rotate(392.57)" x="-193.0" y="0.84">926993</text>
<text transform="translate(230.7,234.55) rotate(394.26)" x="-193.0" y="0.84">723634</text>
<text transform="translate(230.7,234.55) rotate(395.95)" x="-193.0" y="0.84">846630</text>
<text transform="translate(230.7,234.55) rotate(397.65)" x="-193.0" y="0.84">596438</text>
<text transform="translate(230.7,234.55) rotate(399.34)" x="-193.0" y="0.84">421439</text>
</g>
<g font-size="2.4">
<text transform="translate(230.7,234.55) rotate(49.94)" x="-180.3" y="0.84" text-anchor="middle">2000</text>
<text transform="translate(230.7,234.55) rotate(51.67)" x="-180.3" y="0.84" text-anchor="middle">2000</text>
<text transform="translate(230.7,234.55) rotate(53.40)" x="-180.3" y="0.84" text-anchor="middle">2000</text>
<text transform="translate(230.7,234.55) rotate(55.12)" x="-180.3" y="0.84" text-anchor="middle">2000</text>
<text transform="translate(230.7,234.55) rotate(56.85)" x="-180.3" y="0.84" text-anchor="middle">2000</text>
<text transform="translate(230.7,234.55) rotate(58.58)" x="-180.3" y="0.84" text-anchor="middle">2000</text>
<text transform="translate(230.7,234.55) rotate(60.30)" x="-180.3" y="0.84" text-anchor="middle">14991</text>
<text transform="translate(230.7,234.55) rotate(62.03)" x="-180.3" y="0.84" text-anchor="middle">14991</text>
<text transform="translate(230.7,234.55) rotate(63.77)" x="-180.3" y="0.84" text-anchor="middle">14991</text>
<text transform="translate(230.7,234.55) rotate(65.50)" x="-180.3" y="0.84" text-anchor="middle">14991</text>
<text transform="translate(230.7,234.55) rotate(67.22)" x="-180.3" y="0.84" text-anchor="middle">14991</text>
<text transform="translate(230.7,234.55) rotate(68.95)" x="-180.3" y="0.84" text-anchor="middle">14991</text>
<text transform="translate(230.7,234.55) rotate(70.69)" x="-180.3" y="0.84" text-anchor="middle">14991</text>
<text transform="translate(230.7,234.55) rotate(72.41)" x="-180.3" y="0.84" text-anchor="middle">14991</text>
<text transform="translate(230.7,234.55) rotate(74.14)" x="-180.3" y="0.84" text-anchor="middle">14991</text>
<text transform="translate(230.7,234.55) rotate(75.88)" x="-180.3" y="0.84" text-anchor="middle">14991</text>
<text transform="translate(230.7,234.55) rotate(77.60)" x="-180.3" y="0.84" text-anchor="middle">14991</text>
<text transform="translate(230.7,234.55) rotate(79.33)" x="-180.3" y="0.84" text-anchor="middle">14991</text>
<text transform="translate(230.7,234.55) rotate(81.06)" x="-180.3" y="0.84" text-anchor="middle">14991</text>
<text transform="translate(230.7,234.55) rotate(82.79)" x="-180.3" y="0.84" text-anchor="middle">14991</text>
<text transform="translate(230.7,234.55) rotate(84.53)" x="-180.3" y="0.84" text-anchor="middle">14991</text>
<text transform="translate(230.7,234.55) rotate(86.25)" x="-180.3" y="0.84" text-anchor="middle">14991</text>
<text transform="translate(230.7,234.55) rotate(87.98)" x="-180.3" y="0.84" text-anchor="middle">14991</text>
<text transform="translate(230.7,234.55) rotate(89.71)" x="-180.3" y="0.84" text-anchor="middle">14991</text>
<text transform="translate(230.7,234.55) rotate(-88.56)" x="180.3" y="0.84" text-anchor="middle">14991</text>
<text transform="translate(230.7,234.55) rotate(-86.83)" x="180.3" y="0.84" text-anchor="middle">14991</text>
<text transform="translate(230.7,234.55) rotate(-85.09)" x="180.3" y="0.84" text-anchor="middle">14991</text>
<text transform="translate(230.7,234.55) rotate(-83.37)" x="180.3" y="0.84" text-anchor="middle">14991</text>
<text transform="translate(230.7,234.55) rotate(-81.64)" x="180.3" y="0.84" text-anchor="middle">14991</text>
<text transform="translate(230.7,234.55) rotate(-79.91)" x="180.3" y="0.84" text-anchor="middle">14991</text>
<text transform="translate(230.7,234.55) rotate(-78.18)" x="180.3" y="0.84" text-anchor="middle">14991</text>
<text transform="translate(230.7,234.55) rotate(-76.45)" x="180.3" y="0.84" text-anchor="middle">14991</text>
<text transform="translate(230.7,234.55) rotate(-74.72)" x="180.3" y="0.84" text-anchor="middle">14991</text>
<text transform="translate(230.7,234.55) rotate(-72.99)" x="180.3" y="0.84" text-anchor="middle">32</text>
<text transform="translate(230.7,234.55) rotate(-71.25)" x="180.3" y="0.84" text-anchor="middle">32</text>
<text transform="translate(230.7,234.55) rotate(-69.53)" x="180.3" y="0.84" text-anchor="middle">32</text>
<text transform="translate(230.7,234.55) rotate(-67.80)" x="180.3" y="0.84" text-anchor="middle">32</text>
<text transform="translate(230.7,234.55) rotate(-66.07)" x="180.3" y="0.84" text-anchor="middle">28</text>
<text transform="translate(230.7,234.55) rotate(-64.36)" x="180.3" y="0.84" text-anchor="middle">28</text>
<text transform="translate(230.7,234.55) rotate(-62.65)" x="180.3" y="0.84" text-anchor="middle">28</text>
<text transform="translate(230.7,234.55) rotate(-60.93)" x="180.3" y="0.84" text-anchor="middle">28</text>
<text transform="translate(230.7,234.55) rotate(-59.22)" x="180.3" y="0.84" text-anchor="middle">28</text>
<text transform="translate(230.7,234.55) rotate(-57.51)" x="180.3" y="0.84" text-anchor="middle">28</text>
<text transform="translate(230.7,234.55) rotate(-55.79)" x="180.3" y="0.84" text-anchor="middle">28</text>
<text transform="translate(230.7,234.55) rotate(-54.08)" x="180.3" y="0.84" text-anchor="middle">28</text>
<text transform="translate(230.7,234.55) rotate(-52.37)" x="180.3" y="0.84" text-anchor="middle">28</text>
<text transform="translate(230.7,234.55) rotate(-50.65)" x="180.3" y="0.84" text-anchor="middle">28</text>
<text transform="translate(230.7,234.55) rotate(-48.94)" x="180.3" y="0.84" text-anchor="middle">28</text>
<text transform="translate(230.7,234.55) rotate(-47.23)" x="180.3" y="0.84" text-anchor="middle">28</text>
<text transform="translate(230.7,234.55) rotate(-45.51)" x="180.3" y="0.84" text-anchor="middle">28</text>
<text transform="translate(230.7,234.55) rotate(-43.80)" x="180.3" y="0.84" text-anchor="middle">28</text>
<text transform="translate(230.7,234.55) rotate(-42.09)" x="180.3" y="0.84" text-anchor="middle">28</text>
<text transform="translate(230.7,234.55) rotate(-40.37)" x="180.3" y="0.84" text-anchor="middle">28</text>
<text transform="translate(230.7,234.55) rotate(-38.66)" x="180.3" y="0.84" text-anchor="middle">28</text>
<text transform="translate(230.7,234.55) rotate(-36.95)" x="180.3" y="0.84" text-anchor="middle">28</text>
<text transform="translate(230.7,234.55) rotate(-34.64)" x="180.3" y="0.84" text-anchor="middle">11</text>
<text transform="translate(230.7,234.55) rotate(-32.95)" x="180.3" y="0.84" text-anchor="middle">11</text>
<text transform="translate(230.7,234.55) rotate(-31.25)" x="180.3" y="0.84" text-anchor="middle">11</text>
<text transform="translate(230.7,234.55) rotate(-29.56)" x="180.3" y="0.84" text-anchor="middle">11</text>
<text transform="translate(230.7,234.55) rotate(-27.87)" x="180.3" y="0.84" text-anchor="middle">11</text>
<text transform="translate(230.7,234.55) rotate(-26.17)" x="180.3" y="0.84" text-anchor="middle">11</text>
<text transform="translate(230.7,234.55) rotate(-24.48)" x="180.3" y="0.84" text-anchor="middle">11</text>
<text transform="translate(230.7,234.55) rotate(-22.79)" x="180.3" y="0.84" text-anchor="middle">11</text>
<text transform="translate(230.7,234.55) rotate(-21.09)" x="180.3" y="0.84" text-anchor="middle">11</text>
<text transform="translate(230.7,234.55) rotate(-19.40)" x="180.3" y="0.84" text-anchor="middle">11</text>
<text transform="translate(230.7,234.55) rotate(-17.71)" x="180.3" y="0.84" text-anchor="middle">11</text>
<text transform="translate(230.7,234.55) rotate(-16.01)" x="180.3" y="0.84" text-anchor="middle">11</text>
<text transform="translate(230.7,234.55) rotate(-14.32)" x="180.3" y="0.84" text-anchor="middle">11</text>
<text transform="translate(230.7,234.55) rotate(-12.63)" x="180.3" y="0.84" text-anchor="middle">11</text>
<text transform="translate(230.7,234.55) rotate(-10.94)" x="180.3" y="0.84" text-anchor="middle">11</text>
<text transform="translate(230.7,234.55) rotate(-9.24)" x="180.3" y="0.84" text-anchor="middle">11</text>
<text transform="translate(230.7,234.55) rotate(-7.55)" x="180.3" y="0.84" text-anchor="middle">11</text>
<text transform="translate(230.7,234.55) rotate(-5.86)" x="180.3" y="0.84" text-anchor="middle">11</text>
<text transform="translate(230.7,234.55) rotate(-4.16)" x="180.3" y="0.84" text-anchor="middle">11</text>
<text transform="translate(230.7,234.55) rotate(-2.47)" x="180.3" y="0.84" text-anchor="middle">11</text>
<text transform="translate(230.7,234.55) rotate(-0.78)" x="180.3" y="0.84" text-anchor="middle">11</text>
<text transform="translate(230.7,234.55) rotate(0.92)" x="180.3" y="0.84" text-anchor="middle">11</text>
<text transform="translate(230.7,234.55) rotate(2.61)" x="180.3" y="0.84" text-anchor="middle">11</text>
<text transform="translate(230.7,234.55) rotate(4.30)" x="180.3" y="0.84" text-anchor="middle">11</text>
<text transform="translate(230.7,234.55) rotate(6.00)" x="180.3" y="0.84" text-anchor="middle">11</text>
<text transform="translate(230.7,234.55) rotate(7.69)" x="180.3" y="0.84" text-anchor="middle">11</text>
<text transform="translate(230.7,234.55) rotate(9.38)" x="180.3" y="0.84" text-anchor="middle">11</text>
<text transform="translate(230.7,234.55) rotate(11.08)" x="180.3" y="0.84" text-anchor="middle">11</text>
<text transform="translate(230.7,234.55) rotate(12.77)" x="180.3" y="0.84" text-anchor="middle">11</text>
<text transform="translate(230.7,234.55) rotate(14.46)" x="180.3" y="0.84" text-anchor="middle">11</text>
<text transform="translate(230.7,234.55) rotate(16.16)" x="180.3" y="0.84" text-anchor="middle">11</text>
<text transform="translate(230.7,234.55) rotate(17.85)" x="180.3" y="0.84" text-anchor="middle">11</text>
<text transform="translate(230.7,234.55) rotate(19.54)" x="180.3" y="0.84" text-anchor="middle">11</text>
<text transform="translate(230.7,234.55) rotate(21.24)" x="180.3" y="0.84" text-anchor="middle">11</text>
<text transform="translate(230.7,234.55) rotate(22.93)" x="180.3" y="0.84" text-anchor="middle">11</text>
<text transform="translate(230.7,234.55) rotate(24.62)" x="180.3" y="0.84" text-anchor="middle">11</text>
<text transform="translate(230.7,234.55) rotate(26.32)" x="180.3" y="0.84" text-anchor="middle">11</text>
<text transform="translate(230.7,234.55) rotate(28.01)" x="180.3" y="0.84" text-anchor="middle">11</text>
<text transform="translate(230.7,234.55) rotate(29.70)" x="180.3" y="0.84" text-anchor="middle">11</text>
<text transform="translate(230.7,234.55) rotate(31.39)" x="180.3" y="0.84" text-anchor="middle">11</text>
<text transform="translate(230.7,234.55) rotate(33.09)" x="180.3" y="0.84" text-anchor="middle">11</text>
<text transform="translate(230.7,234.55) rotate(34.78)" x="180.3" y="0.84" text-anchor="middle">11</text>
<text transform="translate(230.7,234.55) rotate(36.47)" x="180.3" y="0.84" text-anchor="middle">11</text>
<text transform="translate(230.7,234.55) rotate(38.17)" x="180.3" y="0.84" text-anchor="middle">11</text>
<text transform="translate(230.7,234.55) rotate(39.86)" x="180.3" y="0.84" text-anchor="middle">11</text>
<text transform="translate(230.7,234.55) rotate(41.55)" x="180.3" y="0.84" text-anchor="middle">11</text>
<text transform="translate(230.7,234.55) rotate(43.25)" x="180.3" y="0.84" text-anchor="middle">11</text>
<text transform="translate(230.7,234.55) rotate(44.94)" x="180.3" y="0.84" text-anchor="middle">11</text>
<text transform="translate(230.7,234.55) rotate(46.63)" x="180.3" y="0.84" text-anchor="middle">11</text>
<text transform="translate(230.7,234.55) rotate(48.33)" x="180.3" y="0.84" text-anchor="middle">11</text>
<text transform="translate(230.7,234.55) rotate(50.02)" x="180.3" y="0.84" text-anchor="middle">11</text>
<text transform="translate(230.7,234.55) rotate(51.71)" x="180.3" y="0.84" text-anchor="middle">11</text>
<text transform="translate(230.7,234.55) rotate(53.41)" x="180.3" y="0.84" text-anchor="middle">11</text>
<text transform="translate(230.7,234.55) rotate(55.10)" x="180.3" y="0.84" text-anchor="middle">11</text>
<text transform="translate(230.7,234.55) rotate(56.79)" x="180.3" y="0.84" text-anchor="middle">11</text>
<text transform="translate(230.7,234.55) rotate(58.49)" x="180.3" y="0.84" text-anchor="middle">11</text>
<text transform="translate(230.7,234.55) rotate(60.18)" x="180.3" y="0.84" text-anchor="middle">11</text>
<text transform="translate(230.7,234.55) rotate(61.87)" x="180.3" y="0.84" text-anchor="middle">11</text>
<text transform="translate(230.7,234.55) rotate(63.57)" x="180.3" y="0.84" text-anchor="middle">11</text>
<text transform="translate(230.7,234.55) rotate(65.26)" x="180.3" y="0.84" text-anchor="middle">11</text>
<text transform="translate(230.7,234.55) rotate(66.95)" x="180.3" y="0.84" text-anchor="middle">11</text>
<text transform="translate(230.7,234.55) rotate(68.65)" x="180.3" y="0.84" text-anchor="middle">11</text>
<text transform="translate(230.7,234.55) rotate(70.34)" x="180.3" y="0.84" text-anchor="middle">11</text>
<text transform="translate(230.7,234.55) rotate(72.03)" x="180.3" y="0.84" text-anchor="middle">11</text>
<text transform="translate(230.7,234.55) rotate(73.72)" x="180.3" y="0.84" text-anchor="middle">11</text>
<text transform="translate(230.7,234.55) rotate(75.42)" x="180.3" y="0.84" text-anchor="middle">11</text>
<text transform="translate(230.7,234.55) rotate(77.11)" x="180.3" y="0.84" text-anchor="middle">11</text>
<text transform="translate(230.7,234.55) rotate(78.80)" x="180.3" y="0.84" text-anchor="middle">11</text>
<text transform="translate(230.7,234.55) rotate(80.50)" x="180.3" y="0.84" text-anchor="middle">11</text>
<text transform="translate(230.7,234.55) rotate(82.19)" x="180.3" y="0.84" text-anchor="middle">11</text>
<text transform="translate(230.7,234.55) rotate(83.88)" x="180.3" y="0.84" text-anchor="middle">11</text>
<text transform="translate(230.7,234.55) rotate(85.58)" x="180.3" y="0.84" text-anchor="middle">11</text>
<text transform="translate(230.7,234.55) rotate(87.27)" x="180.3" y="0.84" text-anchor="middle">11</text>
<text transform="translate(230.7,234.55) rotate(88.96)" x="180.3" y="0.84" text-anchor="middle">11</text>
<text transform="translate(230.7,234.55) rotate(270.66)" x="-180.3" y="0.84" text-anchor="middle">11</text>
<text transform="translate(230.7,234.55) rotate(272.35)" x="-180.3" y="0.84" text-anchor="middle">11</text>
<text transform="translate(230.7,234.55) rotate(274.04)" x="-180.3" y="0.84" text-anchor="middle">11</text>
<text transform="translate(230.7,234.55) rotate(275.74)" x="-180.3" y="0.84" text-anchor="middle">11</text>
<text transform="translate(230.7,234.55) rotate(277.43)" x="-180.3" y="0.84" text-anchor="middle">11</text>
<text transform="translate(230.7,234.55) rotate(279.12)" x="-180.3" y="0.84" text-anchor="middle">11</text>
<text transform="translate(230.7,234.55) rotate(280.82)" x="-180.3" y="0.84" text-anchor="middle">11</text>
<text transform="translate(230.7,234.55) rotate(282.51)" x="-180.3" y="0.84" text-anchor="middle">11</text>
<text transform="translate(230.7,234.55) rotate(284.20)" x="-180.3" y="0.84" text-anchor="middle">11</text>
<text transform="translate(230.7,234.55) rotate(285.90)" x="-180.3" y="0.84" text-anchor="middle">11</text>
<text transform="translate(230.7,234.55) rotate(287.59)" x="-180.3" y="0.84" text-anchor="middle">11</text>
<text transform="translate(230.7,234.55) rotate(289.28)" x="-180.3" y="0.84" text-anchor="middle">11</text>
<text transform="translate(230.7,234.55) rotate(290.98)" x="-180.3" y="0.84" text-anchor="middle">11</text>
<text transform="translate(230.7,234.55) rotate(292.67)" x="-180.3" y="0.84" text-anchor="middle">11</text>
<text transform="translate(230.7,234.55) rotate(294.36)" x="-180.3" y="0.84" text-anchor="middle">11</text>
<text transform="translate(230.7,234.55) rotate(296.05)" x="-180.3" y="0.84" text-anchor="middle">11</text>
<text transform="translate(230.7,234.55) rotate(297.75)" x="-180.3" y="0.84" text-anchor="middle">11</text>
<text transform="translate(230.7,234.55) rotate(299.44)" x="-180.3" y="0.84" text-anchor="middle">11</text>
<text transform="translate(230.7,234.55) rotate(301.13)" x="-180.3" y="0.84" text-anchor="middle">11</text>
<text transform="translate(230.7,234.55) rotate(302.83)" x="-180.3" y="0.84" text-anchor="middle">11</text>
<text transform="translate(230.7,234.55) rotate(304.52)" x="-180.3" y="0.84" text-anchor="middle">11</text>
<text transform="translate(230.7,234.55) rotate(306.21)" x="-180.3" y="0.84" text-anchor="middle">11</text>
<text transform="translate(230.7,234.55) rotate(307.91)" x="-180.3" y="0.84" text-anchor="middle">11</text>
<text transform="translate(230.7,234.55) rotate(309.60)" x="-180.3" y="0.84" text-anchor="middle">11</text>
<text transform="translate(230.7,234.55) rotate(311.29)" x="-180.3" y="0.84" text-anchor="middle">11</text>
<text transform="translate(230.7,234.55) rotate(312.99)" x="-180.3" y="0.84" text-anchor="middle">11</text>
<text transform="translate(230.7,234.55) rotate(314.68)" x="-180.3" y="0.84" text-anchor="middle">11</text>
<text transform="translate(230.7,234.55) rotate(316.37)" x="-180.3" y="0.84" text-anchor="middle">11</text>
<text transform="translate(230.7,234.55) rotate(318.07)" x="-180.3" y="0.84" text-anchor="middle">11</text>
<text transform="translate(230.7,234.55) rotate(319.76)" x="-180.3" y="0.84" text-anchor="middle">11</text>
<text transform="translate(230.7,234.55) rotate(321.45)" x="-180.3" y="0.84" text-anchor="middle">11</text>
<text transform="translate(230.7,234.55) rotate(323.15)" x="-180.3" y="0.84" text-anchor="middle">11</text>
<text transform="translate(230.7,234.55) rotate(324.84)" x="-180.3" y="0.84" text-anchor="middle">11</text>
<text transform="translate(230.7,234.55) rotate(326.53)" x="-180.3" y="0.84" text-anchor="middle">11</text>
<text transform="translate(230.7,234.55) rotate(328.23)" x="-180.3" y="0.84" text-anchor="middle">11</text>
<text transform="translate(230.7,234.55) rotate(329.92)" x="-180.3" y="0.84" text-anchor="middle">11</text>
<text transform="translate(230.7,234.55) rotate(331.61)" x="-180.3" y="0.84" text-anchor="middle">11</text>
<text transform="translate(230.7,234.55) rotate(333.31)" x="-180.3" y="0.84" text-anchor="middle">11</text>
<text transform="translate(230.7,234.55) rotate(335.00)" x="-180.3" y="0.84" text-anchor="middle">11</text>
<text transform="translate(230.7,234.55) rotate(336.69)" x="-180.3" y="0.84" text-anchor="middle">11</text>
<text transform="translate(230.7,234.55) rotate(338.38)" x="-180.3" y="0.84" text-anchor="middle">11</text>
<text transform="translate(230.7,234.55) rotate(340.08)" x="-180.3" y="0.84" text-anchor="middle">11</text>
<text transform="translate(230.7,234.55) rotate(341.77)" x="-180.3" y="0.84" text-anchor="middle">11</text>
<text transform="translate(230.7,234.55) rotate(343.46)" x="-180.3" y="0.84" text-anchor="middle">11</text>
<text transform="translate(230.7,234.55) rotate(345.16)" x="-180.3" y="0.84" text-anchor="middle">11</text>
<text transform="translate(230.7,234.55) rotate(346.85)" x="-180.3" y="0.84" text-anchor="middle">11</text>
<text transform="translate(230.7,234.55) rotate(348.54)" x="-180.3" y="0.84" text-anchor="middle">11</text>
<text transform="translate(230.7,234.55) rotate(350.24)" x="-180.3" y="0.84" text-anchor="middle">11</text>
<text transform="translate(230.7,234.55) rotate(351.93)" x="-180.3" y="0.84" text-anchor="middle">11</text>
<text transform="translate(230.7,234.55) rotate(353.62)" x="-180.3" y="0.84" text-anchor="middle">11</text>
<text transform="translate(230.7,234.55) rotate(355.32)" x="-180.3" y="0.84" text-anchor="middle">11</text>
<text transform="translate(230.7,234.55) rotate(357.01)" x="-180.3" y="0.84" text-anchor="middle">11</text>
<text transform="translate(230.7,234.55) rotate(358.70)" x="-180.3" y="0.84" text-anchor="middle">11</text>
<text transform="translate(230.7,234.55) rotate(360.40)" x="-180.3" y="0.84" text-anchor="middle">11</text>
<text transform="translate(230.7,234.55) rotate(362.09)" x="-180.3" y="0.84" text-anchor="middle">11</text>
<text transform="translate(230.7,234.55) rotate(363.78)" x="-180.3" y="0.84" text-anchor="middle">11</text>
<text transform="translate(230.7,234.55) rotate(365.48)" x="-180.3" y="0.84" text-anchor="middle">11</text>
<text transform="translate(230.7,234.55) rotate(367.17)" x="-180.3" y="0.84" text-anchor="middle">11</text>
<text transform="translate(230.7,234.55) rotate(368.86)" x="-180.3" y="0.84" text-anchor="middle">11</text>
<text transform="translate(230.7,234.55) rotate(370.56)" x="-180.3" y="0.84" text-anchor="middle">11</text>
<text transform="translate(230.7,234.55) rotate(372.25)" x="-180.3" y="0.84" text-anchor="middle">11</text>
<text transform="translate(230.7,234.55) rotate(373.94)" x="-180.3" y="0.84" text-anchor="middle">11</text>
<text transform="translate(230.7,234.55) rotate(375.64)" x="-180.3" y="0.84" text-anchor="middle">11</text>
<text transform="translate(230.7,234.55) rotate(377.33)" x="-180.3" y="0.84" text-anchor="middle">11</text>
<text transform="translate(230.7,234.55) rotate(379.02)" x="-180.3" y="0.84" text-anchor="middle">11</text>
<text transform="translate(230.7,234.55) rotate(380.71)" x="-180.3" y="0.84" text-anchor="middle">11</text>
<text transform="translate(230.7,234.55) rotate(382.41)" x="-180.3" y="0.84" text-anchor="middle">11</text>
<text transform="translate(230.7,234.55) rotate(384.10)" x="-180.3" y="0.84" text-anchor="middle">11</text>
<text transform="translate(230.7,234.55) rotate(385.79)" x="-180.3" y="0.84" text-anchor="middle">11</text>
<text transform="translate(230.7,234.55) rotate(387.49)" x="-180.3" y="0.84" text-anchor="middle">11</text>
<text transform="translate(230.7,234.55) rotate(389.18)" x="-180.3" y="0.84" text-anchor="middle">11</text>
<text transform="translate(230.7,234.55) rotate(390.87)" x="-180.3" y="0.84" text-anchor="middle">11</text>
<text transform="translate(230.7,234.55) rotate(392.57)" x="-180.3" y="0.84" text-anchor="middle">11</text>
<text transform="translate(230.7,234.55) rotate(394.26)" x="-180.3" y="0.84" text-anchor="middle">11</text>
<text transform="translate(230.7,234.55) rotate(395.95)" x="-180.3" y="0.84" text-anchor="middle">11</text>
<text transform="translate(230.7,234.55) rotate(397.65)" x="-180.3" y="0.84" text-anchor="middle">11</text>
<text transform="translate(230.7,234.55) rotate(399.34)" x="-180.3" y="0.84" text-anchor="middle">11</text>
</g>
<g font-size="2.4">
<text transform="translate(230.7,234.55) rotate(49.94)" x="-159" y="0.84" text-anchor="end">SAL507AA</text>
<text transform="translate(230.7,234.55) rotate(51.67)" x="-159" y="0.84" text-anchor="end">SAL508AA</text>
<text transform="translate(230.7,234.55) rotate(53.40)" x="-159" y="0.84" text-anchor="end">SAL503AA</text>
<text transform="translate(230.7,234.55) rotate(55.12)" x="-159" y="0.84" text-anchor="end">SAL206AA</text>
<text transform="translate(230.7,234.55) rotate(56.85)" x="-159" y="0.84" text-anchor="end">SAL593AA</text>
<text transform="translate(230.7,234.55) rotate(58.58)" x="-159" y="0.84" text-anchor="end">SAL749AA</text>
<text transform="translate(230.7,234.55) rotate(60.30)" x="-159" y="0.84" text-anchor="end">SRR7718312</text>
<text transform="translate(230.7,234.55) rotate(62.03)" x="-159" y="0.84" text-anchor="end">SRR2044345</text>
<text transform="translate(230.7,234.55) rotate(63.77)" x="-159" y="0.84" text-anchor="end">SRR4197897</text>
<text transform="translate(230.7,234.55) rotate(65.50)" x="-159" y="0.84" text-anchor="end">SRR2129905</text>
<text transform="translate(230.7,234.55) rotate(67.22)" x="-159" y="0.84" text-anchor="end">BM 36</text>
<text transform="translate(230.7,234.55) rotate(68.95)" x="-159" y="0.84" text-anchor="end">BM 66</text>
<text transform="translate(230.7,234.55) rotate(70.69)" x="-159" y="0.84" text-anchor="end">BM 30</text>
<text transform="translate(230.7,234.55) rotate(72.41)" x="-159" y="0.84" text-anchor="end">BM 24</text>
<text transform="translate(230.7,234.55) rotate(74.14)" x="-159" y="0.84" text-anchor="end">BM 53</text>
<text transform="translate(230.7,234.55) rotate(75.88)" x="-159" y="0.84" text-anchor="end">BM 86</text>
<text transform="translate(230.7,234.55) rotate(77.60)" x="-159" y="0.84" text-anchor="end">BM 16</text>
<text transform="translate(230.7,234.55) rotate(79.33)" x="-159" y="0.84" text-anchor="end">BM 23</text>
<text transform="translate(230.7,234.55) rotate(81.06)" x="-159" y="0.84" text-anchor="end">SRR1003913</text>
<text transform="translate(230.7,234.55) rotate(82.79)" x="-159" y="0.84" text-anchor="end">SRR3537804</text>
<text transform="translate(230.7,234.55) rotate(84.53)" x="-159" y="0.84" text-anchor="end">SRR2702289</text>
<text transform="translate(230.7,234.55) rotate(86.25)" x="-159" y="0.84" text-anchor="end">SRR7100362</text>
<text transform="translate(230.7,234.55) rotate(87.98)" x="-159" y="0.84" text-anchor="end">SRR1427833</text>
<text transform="translate(230.7,234.55) rotate(89.71)" x="-159" y="0.84" text-anchor="end">SRR2179699</text>
<text transform="translate(230.7,234.55) rotate(-88.56)" x="159" y="0.84">SRR4488867</text>
<text transform="translate(230.7,234.55) rotate(-86.83)" x="159" y="0.84">SRR7312081</text>
<text transform="translate(230.7,234.55) rotate(-85.09)" x="159" y="0.84">SRR3492263</text>
<text transform="translate(230.7,234.55) rotate(-83.37)" x="159" y="0.84">SRR5232182</text>
<text transform="translate(230.7,234.55) rotate(-81.64)" x="159" y="0.84">SRR6828229</text>
<text transform="translate(230.7,234.55) rotate(-79.91)" x="159" y="0.84">SRR7109648</text>
<text transform="translate(230.7,234.55) rotate(-78.18)" x="159" y="0.84">SRR8954941</text>
<text transform="translate(230.7,234.55) rotate(-76.45)" x="159" y="0.84">SRR3060950</text>
<text transform="translate(230.7,234.55) rotate(-74.72)" x="159" y="0.84">SRR2935310</text>
<text transform="translate(230.7,234.55) rotate(-72.99)" x="159" y="0.84">SRR9188423</text>
<text transform="translate(230.7,234.55) rotate(-71.25)" x="159" y="0.84">SRR8818005</text>
<text transform="translate(230.7,234.55) rotate(-69.53)" x="159" y="0.84">SRR9059692</text>
<text transform="translate(230.7,234.55) rotate(-67.80)" x="159" y="0.84">SRR9117398</text>
<text transform="translate(230.7,234.55) rotate(-66.07)" x="159" y="0.84">ERR427000</text>
<text transform="translate(230.7,234.55) rotate(-64.36)" x="159" y="0.84">ERR190056</text>
<text transform="translate(230.7,234.55) rotate(-62.65)" x="159" y="0.84">ERR251118</text>
<text transform="translate(230.7,234.55) rotate(-60.93)" x="159" y="0.84">ERR207151</text>
<text transform="translate(230.7,234.55) rotate(-59.22)" x="159" y="0.84">ERR886090</text>
<text transform="translate(230.7,234.55) rotate(-57.51)" x="159" y="0.84">ERR459279</text>
<text transform="translate(230.7,234.55) rotate(-55.79)" x="159" y="0.84">ERR876314</text>
<text transform="translate(230.7,234.55) rotate(-54.08)" x="159" y="0.84">ERR377617</text>
<text transform="translate(230.7,234.55) rotate(-52.37)" x="159" y="0.84">ERR601871</text>
<text transform="translate(230.7,234.55) rotate(-50.65)" x="159" y="0.84">ERR969117</text>
<text transform="translate(230.7,234.55) rotate(-48.94)" x="159" y="0.84">ERR825674</text>
<text transform="translate(230.7,234.55) rotate(-47.23)" x="159" y="0.84">ERR269280</text>
<text transform="translate(230.7,234.55) rotate(-45.51)" x="159" y="0.84">ERR641415</text>
<text transform="translate(230.7,234.55) rotate(-43.80)" x="159" y="0.84">ERR124217</text>
<text transform="translate(230.7,234.55) rotate(-42.09)" x="159" y="0.84">ERR315183</text>
<text transform="translate(230.7,234.55) rotate(-40.37)" x="159" y="0.84">ERR653918</text>
<text transform="translate(230.7,234.55) rotate(-38.66)" x="159" y="0.84">ERR479324</text>
<text transform="translate(230.7,234.55) rotate(-36.95)" x="159" y="0.84">ERR253723</text>
<text transform="translate(230.7,234.55) rotate(-34.64)" x="159" y="0.84" font-weight="normal">Ar Sal. FI-806</text>
<text transform="translate(230.7,234.55) rotate(-32.95)" x="159" y="0.84" font-weight="normal">Ar Sal. FI-656</text>
<text transform="translate(230.7,234.55) rotate(-31.25)" x="159" y="0.84" font-weight="normal">Ar Sal. FI-127</text>
<text transform="translate(230.7,234.55) rotate(-29.56)" x="159" y="0.84" font-weight="normal">Ar Sal. FI-876</text>
<text transform="translate(230.7,234.55) rotate(-27.87)" x="159" y="0.84" font-weight="normal">Ar Sal. FI-640</text>
<text transform="translate(230.7,234.55) rotate(-26.17)" x="159" y="0.84" font-weight="normal">Ar Sal. FI-405</text>
<text transform="translate(230.7,234.55) rotate(-24.48)" x="159" y="0.84" font-weight="normal">Ar Sal. FI-758</text>
<text transform="translate(230.7,234.55) rotate(-22.79)" x="159" y="0.84" font-weight="normal">Ar Sal. FI-984</text>
<text transform="translate(230.7,234.55) rotate(-21.09)" x="159" y="0.84" font-weight="normal">Ar Sal. FI-193</text>
<text transform="translate(230.7,234.55) rotate(-19.40)" x="159" y="0.84" font-weight="normal">Ar Sal. FI-812</text>
<text transform="translate(230.7,234.55) rotate(-17.71)" x="159" y="0.84" font-weight="normal">Ar Sal. FI-965</text>
<text transform="translate(230.7,234.55) rotate(-16.01)" x="159" y="0.84" font-weight="normal">Ar Sal. FI-367</text>
<text transform="translate(230.7,234.55) rotate(-14.32)" x="159" y="0.84" font-weight="normal">Ar Sal. FI-630</text>
<text transform="translate(230.7,234.55) rotate(-12.63)" x="159" y="0.84" font-weight="normal">Ar Sal. FI-475</text>
<text transform="translate(230.7,234.55) rotate(-10.94)" x="159" y="0.84" font-weight="normal">Ar Sal. FI-271</text>
<text transform="translate(230.7,234.55) rotate(-9.24)" x="159" y="0.84" font-weight="normal">Ar Sal. FI-464</text>
<text transform="translate(230.7,234.55) rotate(-7.55)" x="159" y="0.84" font-weight="normal">Ar Sal. FI-890</text>
<text transform="translate(230.7,234.55) rotate(-5.86)" x="159" y="0.84" font-weight="normal">Ar Sal. FI-328</text>
<text transform="translate(230.7,234.55) rotate(-4.16)" x="159" y="0.84" font-weight="normal">Ar Sal. FI-645</text>
<text transform="translate(230.7,234.55) rotate(-2.47)" x="159" y="0.84" font-weight="normal">Ar Sal. FI-654</text>
<text transform="translate(230.7,234.55) rotate(-0.78)" x="159" y="0.84" font-weight="normal">Ar Sal. FI-897</text>
<text transform="translate(230.7,234.55) rotate(0.92)" x="159" y="0.84" font-weight="normal">Phl. 764</text>
<text transform="translate(230.7,234.55) rotate(2.61)" x="159" y="0.84">SRR6530860</text>
<text transform="translate(230.7,234.55) rotate(4.30)" x="159" y="0.84" font-weight="normal">Phl. 781</text>
<text transform="translate(230.7,234.55) rotate(6.00)" x="159" y="0.84" font-weight="normal">Phl. 728</text>
<text transform="translate(230.7,234.55) rotate(7.69)" x="159" y="0.84" font-weight="normal">Phl. 778</text>
<text transform="translate(230.7,234.55) rotate(9.38)" x="159" y="0.84" font-weight="normal">Phl. 797</text>
<text transform="translate(230.7,234.55) rotate(11.08)" x="159" y="0.84" font-weight="normal">Phl. 724</text>
<text transform="translate(230.7,234.55) rotate(12.77)" x="159" y="0.84" font-weight="normal">Phl. 730</text>
<text transform="translate(230.7,234.55) rotate(14.46)" x="159" y="0.84" font-weight="normal">Phl. 751</text>
<text transform="translate(230.7,234.55) rotate(16.16)" x="159" y="0.84" font-weight="normal">Phl. 794</text>
<text transform="translate(230.7,234.55) rotate(17.85)" x="159" y="0.84" font-weight="normal">Phl. 729</text>
<text transform="translate(230.7,234.55) rotate(19.54)" x="159" y="0.84">SRR4354067</text>
<text transform="translate(230.7,234.55) rotate(21.24)" x="159" y="0.84">SRR9684536</text>
<text transform="translate(230.7,234.55) rotate(22.93)" x="159" y="0.84" font-weight="normal">Phl. 763</text>
<text transform="translate(230.7,234.55) rotate(24.62)" x="159" y="0.84" font-weight="normal">Phl. 745</text>
<text transform="translate(230.7,234.55) rotate(26.32)" x="159" y="0.84">SRR1486206</text>
<text transform="translate(230.7,234.55) rotate(28.01)" x="159" y="0.84">SRR1468706</text>
<text transform="translate(230.7,234.55) rotate(29.70)" x="159" y="0.84">SRR5687865</text>
<text transform="translate(230.7,234.55) rotate(31.39)" x="159" y="0.84">SRR8922873</text>
<text transform="translate(230.7,234.55) rotate(33.09)" x="159" y="0.84">SRR5348224</text>
<text transform="translate(230.7,234.55) rotate(34.78)" x="159" y="0.84">SRR4248823</text>
<text transform="translate(230.7,234.55) rotate(36.47)" x="159" y="0.84">SRR6776075</text>
<text transform="translate(230.7,234.55) rotate(38.17)" x="159" y="0.84">SRR8503235</text>
<text transform="translate(230.7,234.55) rotate(39.86)" x="159" y="0.84">SRR6863966</text>
<text transform="translate(230.7,234.55) rotate(41.55)" x="159" y="0.84">SRR7117575</text>
<text transform="translate(230.7,234.55) rotate(43.25)" x="159" y="0.84">SRR2351205</text>
<text transform="translate(230.7,234.55) rotate(44.94)" x="159" y="0.84">SRR4698744</text>
<text transform="translate(230.7,234.55) rotate(46.63)" x="159" y="0.84">SRR2713912</text>
<text transform="translate(230.7,234.55) rotate(48.33)" x="159" y="0.84">SRR4805841</text>
<text transform="translate(230.7,234.55) rotate(50.02)" x="159" y="0.84">SRR8886633</text>
<text transform="translate(230.7,234.55) rotate(51.71)" x="159" y="0.84">SRR4300181</text>
<text transform="translate(230.7,234.55) rotate(53.41)" x="159" y="0.84">SRR6666294</text>
<text transform="translate(230.7,234.55) rotate(55.10)" x="159" y="0.84">SRR4428816</text>
<text transform="translate(230.7,234.55) rotate(56.79)" x="159" y="0.84">SRR9097578</text>
<text transform="translate(230.7,234.55) rotate(58.49)" x="159" y="0.84">SRR1032016</text>
<text transform="translate(230.7,234.55) rotate(60.18)" x="159" y="0.84">SRR9044229</text>
<text transform="translate(230.7,234.55) rotate(61.87)" x="159" y="0.84">SRR6771478</text>
<text transform="translate(230.7,234.55) rotate(63.57)" x="159" y="0.84">SRR2422346</text>
<text transform="translate(230.7,234.55) rotate(65.26)" x="159" y="0.84">SRR3011649</text>
<text transform="translate(230.7,234.55) rotate(66.95)" x="159" y="0.84">SRR7518548</text>
<text transform="translate(230.7,234.55) rotate(68.65)" x="159" y="0.84">SRR4344024</text>
<text transform="translate(230.7,234.55) rotate(70.34)" x="159" y="0.84">SRR9020058</text>
<text transform="translate(230.7,234.55) rotate(72.03)" x="159" y="0.84">SRR3995097</text>
<text transform="translate(230.7,234.55) rotate(73.72)" x="159" y="0.84">SRR8280054</text>
<text transform="translate(230.7,234.55) rotate(75.42)" x="159" y="0.84">SRR6578712</text>
<text transform="translate(230.7,234.55) rotate(77.11)" x="159" y="0.84">SRR2455421</text>
<text transform="translate(230.7,234.55) rotate(78.80)" x="159" y="0.84">SRR7641067</text>
<text transform="translate(230.7,234.55) rotate(80.50)" x="159" y="0.84">SRR8770544</text>
<text transform="translate(230.7,234.55) rotate(82.19)" x="159" y="0.84">SRR7734153</text>
<text transform="translate(230.7,234.55) rotate(83.88)" x="159" y="0.84">SRR2424708</text>
<text transform="translate(230.7,234.55) rotate(85.58)" x="159" y="0.84">SRR3665162</text>
<text transform="translate(230.7,234.55) rotate(87.27)" x="159" y="0.84">SRR3852188</text>
<text transform="translate(230.7,234.55) rotate(88.96)" x="159" y="0.84">SRR3131350</text>
<text transform="translate(230.7,234.55) rotate(270.66)" x="-159" y="0.84" text-anchor="end">SRR1462193</text>
<text transform="translate(230.7,234.55) rotate(272.35)" x="-159" y="0.84" text-anchor="end" font-weight="normal">Ar Sal. FI-254</text>
<text transform="translate(230.7,234.55) rotate(274.04)" x="-159" y="0.84" text-anchor="end" font-weight="normal">Ar Sal. FI-704</text>
<text transform="translate(230.7,234.55) rotate(275.74)" x="-159" y="0.84" text-anchor="end" font-weight="normal">Ar Sal. FI-576</text>
<text transform="translate(230.7,234.55) rotate(277.43)" x="-159" y="0.84" text-anchor="end" font-weight="normal">Ar Sal. FI-925</text>
<text transform="translate(230.7,234.55) rotate(279.12)" x="-159" y="0.84" text-anchor="end" font-weight="normal">Ar Sal. FI-771</text>
<text transform="translate(230.7,234.55) rotate(280.82)" x="-159" y="0.84" text-anchor="end" font-weight="normal">Ar Sal. FI-249</text>
<text transform="translate(230.7,234.55) rotate(282.51)" x="-159" y="0.84" text-anchor="end" font-weight="normal">Ar Sal. FI-726</text>
<text transform="translate(230.7,234.55) rotate(284.20)" x="-159" y="0.84" text-anchor="end" font-weight="normal">Ar Sal. FI-946</text>
<text transform="translate(230.7,234.55) rotate(285.90)" x="-159" y="0.84" text-anchor="end" font-weight="normal">Ar Sal. FI-710</text>
<text transform="translate(230.7,234.55) rotate(287.59)" x="-159" y="0.84" text-anchor="end" font-weight="normal">Ar Sal. FI-585</text>
<text transform="translate(230.7,234.55) rotate(289.28)" x="-159" y="0.84" text-anchor="end" font-weight="normal">Ar Sal. FI-773</text>
<text transform="translate(230.7,234.55) rotate(290.98)" x="-159" y="0.84" text-anchor="end" font-weight="normal">Ar Sal. FI-458</text>
<text transform="translate(230.7,234.55) rotate(292.67)" x="-159" y="0.84" text-anchor="end" font-weight="normal">Ar Sal. FI-259</text>
<text transform="translate(230.7,234.55) rotate(294.36)" x="-159" y="0.84" text-anchor="end" font-weight="normal">Ar Sal. FI-661</text>
<text transform="translate(230.7,234.55) rotate(296.05)" x="-159" y="0.84" text-anchor="end" font-weight="normal">Ar Sal. FI-661</text>
<text transform="translate(230.7,234.55) rotate(297.75)" x="-159" y="0.84" text-anchor="end" font-weight="normal">Ar Sal. FI-234</text>
<text transform="translate(230.7,234.55) rotate(299.44)" x="-159" y="0.84" text-anchor="end" font-weight="normal">Ar Sal. FI-121</text>
<text transform="translate(230.7,234.55) rotate(301.13)" x="-159" y="0.84" text-anchor="end" font-weight="normal">Ar Sal. FI-114</text>
<text transform="translate(230.7,234.55) rotate(302.83)" x="-159" y="0.84" text-anchor="end" font-weight="normal">Ar Sal. FI-918</text>
<text transform="translate(230.7,234.55) rotate(304.52)" x="-159" y="0.84" text-anchor="end" font-weight="normal">Ar Sal. FI-843</text>
<text transform="translate(230.7,234.55) rotate(306.21)" x="-159" y="0.84" text-anchor="end" font-weight="normal">Ar Sal. FI-765</text>
<text transform="translate(230.7,234.55) rotate(307.91)" x="-159" y="0.84" text-anchor="end" font-weight="normal">Ar Sal. FI-205</text>
<text transform="translate(230.7,234.55) rotate(309.60)" x="-159" y="0.84" text-anchor="end" font-weight="normal">Ar Sal. FI-639</text>
<text transform="translate(230.7,234.55) rotate(311.29)" x="-159" y="0.84" text-anchor="end" font-weight="normal">Ar Sal. FI-867</text>
<text transform="translate(230.7,234.55) rotate(312.99)" x="-159" y="0.84" text-anchor="end" font-weight="normal">Ar Sal. FI-242</text>
<text transform="translate(230.7,234.55) rotate(314.68)" x="-159" y="0.84" text-anchor="end" font-weight="normal">Ar Sal. FI-544</text>
<text transform="translate(230.7,234.55) rotate(316.37)" x="-159" y="0.84" text-anchor="end" font-weight="normal">Ar Sal. FI-992</text>
<text transform="translate(230.7,234.55) rotate(318.07)" x="-159" y="0.84" text-anchor="end" font-weight="normal">Ar Sal. FI-299</text>
<text transform="translate(230.7,234.55) rotate(319.76)" x="-159" y="0.84" text-anchor="end" font-weight="normal">Ar Sal. FI-945</text>
<text transform="translate(230.7,234.55) rotate(321.45)" x="-159" y="0.84" text-anchor="end" font-weight="normal">Ar Sal. FI-994</text>
<text transform="translate(230.7,234.55) rotate(323.15)" x="-159" y="0.84" text-anchor="end" font-weight="normal">Ar Sal. FI-316</text>
<text transform="translate(230.7,234.55) rotate(324.84)" x="-159" y="0.84" text-anchor="end" font-weight="normal">Ar Sal. FI-128</text>
<text transform="translate(230.7,234.55) rotate(326.53)" x="-159" y="0.84" text-anchor="end" font-weight="normal">Ar Sal. FI-357</text>
<text transform="translate(230.7,234.55) rotate(328.23)" x="-159" y="0.84" text-anchor="end" font-weight="normal">Ar Sal. FI-317</text>
<text transform="translate(230.7,234.55) rotate(329.92)" x="-159" y="0.84" text-anchor="end" font-weight="normal">Ar Sal. FI-399</text>
<text transform="translate(230.7,234.55) rotate(331.61)" x="-159" y="0.84" text-anchor="end" font-weight="normal">Ar Sal. FI-613</text>
<text transform="translate(230.7,234.55) rotate(333.31)" x="-159" y="0.84" text-anchor="end" font-weight="normal">Ar Sal. FI-346</text>
<text transform="translate(230.7,234.55) rotate(335.00)" x="-159" y="0.84" text-anchor="end" font-weight="normal">Ar Sal. FI-882</text>
<text transform="translate(230.7,234.55) rotate(336.69)" x="-159" y="0.84" text-anchor="end" font-weight="normal">Ar Sal. FI-700</text>
<text transform="translate(230.7,234.55) rotate(338.38)" x="-159" y="0.84" text-anchor="end" font-weight="normal">Ar Sal. FI-433</text>
<text transform="translate(230.7,234.55) rotate(340.08)" x="-159" y="0.84" text-anchor="end" font-weight="normal">Ar Sal. FI-365</text>
<text transform="translate(230.7,234.55) rotate(341.77)" x="-159" y="0.84" text-anchor="end" font-weight="normal">Ar Sal. FI-657</text>
<text transform="translate(230.7,234.55) rotate(343.46)" x="-159" y="0.84" text-anchor="end" font-weight="normal">Ar Sal. FI-529</text>
<text transform="translate(230.7,234.55) rotate(345.16)" x="-159" y="0.84" text-anchor="end" font-weight="normal">Ar Sal. FI-954</text>
<text transform="translate(230.7,234.55) rotate(346.85)" x="-159" y="0.84" text-anchor="end" font-weight="normal">Ar Sal. FI-234</text>
<text transform="translate(230.7,234.55) rotate(348.54)" x="-159" y="0.84" text-anchor="end" font-weight="normal">Ar Sal. FI-162</text>
<text transform="translate(230.7,234.55) rotate(350.24)" x="-159" y="0.84" text-anchor="end" font-weight="normal">Ar Sal. FI-857</text>
<text transform="translate(230.7,234.55) rotate(351.93)" x="-159" y="0.84" text-anchor="end" font-weight="normal">Ar Sal. FI-462</text>
<text transform="translate(230.7,234.55) rotate(353.62)" x="-159" y="0.84" text-anchor="end" font-weight="normal">Ar Sal. FI-569</text>
<text transform="translate(230.7,234.55) rotate(355.32)" x="-159" y="0.84" text-anchor="end" font-weight="normal">Ar Sal. FI-778</text>
<text transform="translate(230.7,234.55) rotate(357.01)" x="-159" y="0.84" text-anchor="end" font-weight="normal">Ar Sal. FI-697</text>
<text transform="translate(230.7,234.55) rotate(358.70)" x="-159" y="0.84" text-anchor="end" font-weight="normal">Ar Sal. FI-934</text>
<text transform="translate(230.7,234.55) rotate(360.40)" x="-159" y="0.84" text-anchor="end" font-weight="normal">Ar Sal. FI-629</text>
<text transform="translate(230.7,234.55) rotate(362.09)" x="-159" y="0.84" text-anchor="end" font-weight="normal">Ar Sal. FI-530</text>
<text transform="translate(230.7,234.55) rotate(363.78)" x="-159" y="0.84" text-anchor="end" font-weight="normal">Ar Sal. FI-946</text>
<text transform="translate(230.7,234.55) rotate(365.48)" x="-159" y="0.84" text-anchor="end" font-weight="normal">Ar Sal. FI-999</text>
<text transform="translate(230.7,234.55) rotate(367.17)" x="-159" y="0.84" text-anchor="end" font-weight="normal">Ar Sal. FI-613</text>
<text transform="translate(230.7,234.55) rotate(368.86)" x="-159" y="0.84" text-anchor="end" font-weight="normal">Ar Sal. FI-233</text>
<text transform="translate(230.7,234.55) rotate(370.56)" x="-159" y="0.84" text-anchor="end" font-weight="normal">Ar Sal. FI-644</text>
<text transform="translate(230.7,234.55) rotate(372.25)" x="-159" y="0.84" text-anchor="end" font-weight="normal">Ar Sal. FI-255</text>
<text transform="translate(230.7,234.55) rotate(373.94)" x="-159" y="0.84" text-anchor="end" font-weight="normal">Ar Sal. FI-636</text>
<text transform="translate(230.7,234.55) rotate(375.64)" x="-159" y="0.84" text-anchor="end" font-weight="normal">Ar Sal. FI-622</text>
<text transform="translate(230.7,234.55) rotate(377.33)" x="-159" y="0.84" text-anchor="end" font-weight="normal">Ar Sal. FI-119</text>
<text transform="translate(230.7,234.55) rotate(379.02)" x="-159" y="0.84" text-anchor="end" font-weight="normal">Ar Sal. FI-993</text>
<text transform="translate(230.7,234.55) rotate(380.71)" x="-159" y="0.84" text-anchor="end" font-weight="normal">Ar Sal. FI-550</text>
<text transform="translate(230.7,234.55) rotate(382.41)" x="-159" y="0.84" text-anchor="end" font-weight="normal">Ar Sal. FI-895</text>
<text transform="translate(230.7,234.55) rotate(384.10)" x="-159" y="0.84" text-anchor="end" font-weight="normal">Ar Sal. FI-287</text>
<text transform="translate(230.7,234.55) rotate(385.79)" x="-159" y="0.84" text-anchor="end" font-weight="normal">Ar Sal. FI-723</text>
<text transform="translate(230.7,234.55) rotate(387.49)" x="-159" y="0.84" text-anchor="end" font-weight="normal">Ar Sal. FI-104</text>
<text transform="translate(230.7,234.55) rotate(389.18)" x="-159" y="0.84" text-anchor="end" font-weight="normal">Ar Sal. FI-894</text>
<text transform="translate(230.7,234.55) rotate(390.87)" x="-159" y="0.84" text-anchor="end" font-weight="normal">Ar Sal. FI-918</text>
<text transform="translate(230.7,234.55) rotate(392.57)" x="-159" y="0.84" text-anchor="end" font-weight="normal">Ar Sal. FI-253</text>
<text transform="translate(230.7,234.55) rotate(394.26)" x="-159" y="0.84" text-anchor="end" font-weight="normal">Ar Sal. FI-276</text>
<text transform="translate(230.7,234.55) rotate(395.95)" x="-159" y="0.84" text-anchor="end" font-weight="normal">Ar Sal. FI-244</text>
<text transform="translate(230.7,234.55) rotate(397.65)" x="-159" y="0.84" text-anchor="end" font-weight="normal">Ar Sal. FI-584</text>
<text transform="translate(230.7,234.55) rotate(399.34)" x="-159" y="0.84" text-anchor="end" font-weight="normal">Ar Sal. FI-733</text>
</g>
</g>
<path d="M296.04,188.39L298.65,186.54M297.38,190.35L300.05,188.58M298.66,192.35L301.38,190.66M299.89,194.38L300.92,193.78M301.05,196.45L301.93,195.98M302.15,198.56L305.00,197.12M303.18,200.69L304.09,200.27M304.16,202.86L304.89,202.54M305.06,205.05L308.04,203.87M305.91,207.27L307.32,206.76M306.68,209.52L307.63,209.20M307.39,211.78L308.16,211.55M308.03,214.07L308.61,213.91M308.61,216.37L311.14,215.78M309.11,218.69L312.25,218.06M309.55,221.03L310.53,220.86M309.92,223.37L310.51,223.29M310.21,225.73L311.01,225.64M310.44,228.09L311.04,228.04M310.60,230.46L311.19,230.43M310.68,232.83L311.88,232.81M310.70,235.21L311.90,235.22M310.64,237.58L311.24,237.60M310.52,239.95L313.71,240.17M310.32,242.32L312.31,242.51M310.06,244.68L313.23,245.08M309.72,247.03L310.91,247.21M309.32,249.37L310.50,249.59M308.84,251.69L310.31,252.01M308.30,254.00L311.40,254.78M307.69,256.30L308.26,256.46M307.01,258.57L307.77,258.81M306.26,260.83L309.28,261.88M305.45,263.06L306.85,263.59M304.57,265.26L306.97,266.26M303.63,267.44L304.36,267.77M302.62,269.59L303.97,270.25M301.55,271.71L303.32,272.64M300.41,273.80L301.46,274.38M299.22,275.85L300.50,276.62M297.96,277.86L298.47,278.19M296.65,279.84L297.31,280.29M295.27,281.78L295.92,282.25M289.11,279.99L291.16,281.58M287.73,281.70L288.35,282.21M286.31,283.37L287.44,284.36M284.84,285.00L286.74,286.77M283.32,286.58L283.88,287.15M281.75,288.12L282.16,288.56M280.14,289.61L280.54,290.06M278.48,291.06L279.26,291.97M276.78,292.45L277.53,293.39M275.04,293.79L275.40,294.27M273.27,295.08L275.11,297.70M271.45,296.32L272.88,298.49M269.60,297.50L270.97,299.71M267.72,298.63L269.02,300.88M265.80,299.70L266.18,300.40M263.85,300.71L264.39,301.78M261.87,301.66L262.50,303.02M259.87,302.56L260.65,304.40M257.83,303.40L258.13,304.14M255.78,304.17L256.29,305.58M253.70,304.88L254.32,306.78M251.61,305.54L251.78,306.11M249.49,306.12L250.15,308.64M247.36,306.65L247.54,307.43M245.21,307.11L245.41,308.09M243.05,307.51L243.25,308.70M240.88,307.85L240.99,308.64M238.70,308.12L238.77,308.71M236.51,308.32L236.56,308.92M234.32,308.46L234.48,311.66M232.13,308.54L232.19,311.74M229.93,308.55L229.92,309.55M227.74,308.49L227.69,309.69M225.54,308.37L225.32,311.56M223.36,308.18L223.24,309.38M221.17,307.93L221.05,308.93M219.00,307.62L218.59,310.19M216.84,307.24L216.35,309.79M214.69,306.80L214.51,307.58M212.55,306.29L211.91,308.81M210.43,305.72L209.72,308.22M208.33,305.09L207.96,306.23M206.24,304.39L206.04,304.96M204.18,303.63L203.64,305.04M202.14,302.82L201.56,304.20M200.13,301.94L199.88,302.49M198.14,301.00L197.61,302.08M196.19,300.01L195.72,300.89M194.26,298.95L192.98,301.22M192.36,297.85L191.95,298.53M190.50,296.68L190.18,297.18M188.68,295.46L188.11,296.28M186.89,294.19L186.18,295.15M185.14,292.86L183.17,295.38M183.43,291.48L182.47,292.64M181.76,290.05L181.36,290.50M180.13,288.58L178.77,290.04M178.55,287.05L177.49,288.12M177.02,285.48L175.13,287.27M175.53,283.87L174.93,284.40M174.09,282.21L173.48,282.72M172.70,280.51L172.07,281.00M171.36,278.77L170.40,279.48M170.08,276.98L169.09,277.67M168.84,275.17L168.34,275.50M167.67,273.31L165.96,274.36M166.54,271.43L164.81,272.42M165.48,269.51L162.66,271.02M164.47,267.56L163.57,268.00M163.52,265.58L160.61,266.92M162.63,263.57L161.71,263.96M161.80,261.54L159.37,262.48M161.03,259.48L160.08,259.82M160.32,257.40L159.37,257.71M159.67,255.30L158.23,255.72M159.08,253.18L157.92,253.49M158.56,251.05L157.39,251.32M158.11,248.90L156.93,249.14M157.71,246.74L156.73,246.91M157.38,244.57L156.19,244.73M157.12,242.39L154.53,242.67M156.92,240.20L153.73,240.45M156.78,238.01L155.98,238.05M156.71,235.82L154.11,235.86M156.71,233.62L156.11,233.61M156.77,231.43L155.97,231.39M156.89,229.23L156.09,229.18M157.08,227.05L156.48,226.98M157.34,224.86L155.85,224.67M157.66,222.69L156.47,222.50M158.04,220.53L155.49,220.04M158.49,218.38L157.02,218.05M159.00,216.24L156.48,215.60M159.57,214.12L156.50,213.24M160.21,212.02L158.78,211.57M160.91,209.94L159.97,209.61M161.67,207.88L160.93,207.59M162.49,205.84L161.57,205.46M163.38,203.83L162.28,203.33M164.32,201.85L161.45,200.43M165.32,199.89L164.61,199.52M166.37,197.97L165.07,197.23M167.49,196.08L166.46,195.45M168.66,194.22L167.65,193.56M169.88,192.39L169.39,192.05M171.16,190.61L170.52,190.13M172.49,188.86L171.31,187.93M173.87,187.15L171.87,185.49" stroke="#444" stroke-width="0.35" fill="none"/>
<path d="M230.70,234.55L227.08,221.03M222.27,223.37A14,14 0 0 1 233.13,220.76M222.27,223.37L214.45,212.99M213.49,213.75A27,27 0 0 1 215.14,212.49M213.49,213.75L202.65,200.65M202.07,201.14A44,44 0 0 1 203.25,200.16M202.07,201.14L199.46,198.10M203.25,200.16L201.38,197.82M215.14,212.49L208.80,203.50M207.83,204.20A38,38 0 0 1 210.28,202.50M207.83,204.20L203.02,197.81M210.28,202.50L208.13,199.13M207.09,199.81A42,42 0 0 1 208.94,198.62M207.09,199.81L204.28,195.68M208.94,198.62L207.39,196.06M202.51,198.20A46,46 0 0 1 203.53,197.43M233.13,220.76L235.56,206.98M219.31,208.97A28,28 0 0 1 249.62,213.91M217.55,209.83A28,28 0 0 1 220.67,208.41M217.81,209.69L159.14,96.49M153.19,99.75A155.5,155.5 0 0 1 166.46,92.94M153.19,99.75L152.19,98.01M157.22,97.51L156.27,95.74M162.29,94.91L161.41,93.11M166.46,92.94L165.64,91.12M220.67,208.41L197.55,148.19M196.95,148.43A92.5,92.5 0 0 1 213.68,143.63M213.68,143.63L210.47,126.43M228.77,201.11A33.5,33.5 0 0 1 238.24,201.91M228.77,201.11L226.19,156.38M218.59,157.19A78.3,78.3 0 0 1 233.84,156.31M218.59,157.19L213.68,125.87M233.84,156.31L233.97,153.12M222.75,153.44A81.5,81.5 0 0 1 245.27,154.36M220.17,151.21A84,84 0 0 1 226.38,150.66M220.17,151.21L216.91,125.42M226.38,150.66L226.07,144.67M222.07,144.96A90,90 0 0 1 227.40,144.61M222.07,144.96L220.16,125.06M227.40,144.61L227.18,138.61M224.34,138.76A96,96 0 0 1 228.61,138.57M224.34,138.76L223.41,124.79M228.61,138.57L228.47,132.57M226.96,132.62A102,102 0 0 1 229.99,132.55M226.96,132.62L226.67,124.62M229.99,132.55L229.93,124.55M222.75,153.44L222.50,150.95M220.17,151.21A84,84 0 0 1 225.13,150.73M232.65,148.57A86,86 0 0 1 237.75,148.84M232.65,148.57L233.20,124.58M237.75,148.84L238.16,143.86M235.46,143.67A91,91 0 0 1 239.50,143.98M235.46,143.67L236.46,124.70M239.50,143.98L239.98,139.00M238.57,138.87A96,96 0 0 1 241.40,139.15M238.57,138.87L239.71,124.92M241.40,139.15L242.96,125.24M222.75,153.44A81.5,81.5 0 0 1 236.39,153.25M236.39,153.25L236.70,148.76M245.27,154.36L247.51,142.06M244.27,141.53A94,94 0 0 1 247.18,142.01M244.27,141.53L244.59,139.36M247.18,142.01L247.48,140.33M247.48,140.33A95.7,95.7 0 0 1 250.27,140.87M247.48,140.33L247.87,138.17M250.27,140.87L250.62,139.21M250.62,139.21A97.4,97.4 0 0 1 253.44,139.84M250.62,139.21L251.07,137.05M253.44,139.84L253.83,138.19M253.83,138.19A99.10000000000001,99.10000000000001 0 0 1 256.68,138.92M253.83,138.19L254.35,136.05M256.68,138.92L257.13,137.28M257.13,137.28A100.80000000000001,100.80000000000001 0 0 1 260.00,138.10M257.13,137.28L257.71,135.15M260.00,138.10L260.50,136.48M260.50,136.48A102.50000000000001,102.50000000000001 0 0 1 263.39,137.40M260.50,136.48L261.14,134.37M263.39,137.40L263.94,135.79M263.94,135.79A104.20000000000002,104.20000000000002 0 0 1 266.85,136.82M263.94,135.79L264.64,133.71M266.85,136.82L267.44,135.23M267.44,135.23A105.90000000000002,105.90000000000002 0 0 1 270.37,136.36M267.44,135.23L268.20,133.16M270.37,136.36L271.01,134.79M271.01,134.79A107.60000000000002,107.60000000000002 0 0 1 273.95,136.02M271.01,134.79L271.83,132.75M273.95,136.02L274.63,134.47M274.63,134.47A109.30000000000003,109.30000000000003 0 0 1 277.58,135.82M274.63,134.47L275.52,132.45M277.58,135.82L278.31,134.28M278.31,134.28L279.17,132.47M238.24,201.91A33.5,33.5 0 0 1 253.33,209.85M246.74,205.14L269.00,164.31M263.88,161.75A80,80 0 0 1 276.47,168.94M263.88,161.75L276.73,133.54M274.96,132.76A111,111 0 0 1 278.31,134.28M276.47,168.94L278.76,165.66M271.94,161.37A84,84 0 0 1 290.30,175.36M270.38,156.00A88,88 0 0 1 277.20,159.84M270.38,156.00L281.20,134.58M277.20,159.84L279.32,156.44M274.60,153.70A92,92 0 0 1 280.47,157.17M274.60,153.70L284.14,136.12M280.47,157.17L282.63,153.81M278.99,151.58A96,96 0 0 1 283.83,154.59M278.99,151.58L287.04,137.75M283.83,154.59L286.04,151.26M283.54,149.65A100,100 0 0 1 287.27,152.09M283.54,149.65L289.89,139.47M287.27,152.09L289.53,148.79M288.25,147.93A104,104 0 0 1 290.80,149.67M288.25,147.93L292.68,141.26M290.80,149.67L295.42,143.14M271.94,161.37L273.90,157.88M284.86,162.67A90,90 0 0 1 294.89,171.47M284.86,162.67L298.10,145.10M294.89,171.47L297.03,169.37M288.85,161.97A93,93 0 0 1 297.99,170.36M288.85,161.97L300.73,147.14M297.99,170.36L300.16,168.29M292.92,161.44A96,96 0 0 1 301.14,169.32M292.92,161.44L303.29,149.26M301.14,169.32L303.34,167.29M297.07,161.09A99,99 0 0 1 304.33,168.37M297.07,161.09L305.79,151.45M304.33,168.37L306.56,166.36M301.30,160.93A102,102 0 0 1 307.56,167.50M301.30,160.93L308.22,153.71M307.56,167.50L309.82,165.53M305.59,160.95A105,105 0 0 1 310.84,166.71M305.59,160.95L310.58,156.05M310.84,166.71L313.13,164.77M309.94,161.17A108,108 0 0 1 314.16,166.00M309.94,161.17L312.88,158.45M314.16,166.00L316.47,164.09M314.35,161.58A111,111 0 0 1 317.51,165.38M314.35,161.58L315.10,160.92M317.51,165.38L319.86,163.51M318.79,162.19A114,114 0 0 1 320.90,164.84M318.79,162.19L317.25,163.46M320.90,164.84L319.32,166.06M290.30,175.36L294.56,171.13M317.25,163.46A112,112 0 0 1 320.73,167.93M252.99,210.22A33,33 0 0 1 262.65,226.29M262.65,226.29L273.30,223.53M266.52,209.00A44,44 0 0 1 274.42,239.53M266.52,209.00L294.20,189.26M294.44,189.59A78,78 0 0 1 296.70,192.99M294.44,189.59L296.07,188.44M296.70,192.99L298.82,191.65M274.42,239.53L299.26,242.36M290.46,200.05A69,69 0 0 1 280.58,282.22M290.46,200.05L299.98,194.55M297.41,190.40A80,80 0 0 1 294.59,282.70M294.59,282.70L297.79,285.10M299.51,282.73A84,84 0 0 1 295.98,287.41M280.58,282.22L282.03,283.60M285.88,279.23A71,71 0 0 1 278.21,287.31M285.88,279.23L295.98,287.41M278.21,287.31L280.22,289.54M280.22,289.54A74,74 0 0 1 173.85,187.18M276.69,293.41A74.7,74.7 0 0 1 182.68,291.77M166.09,271.85A74.6,74.6 0 0 1 169.59,191.76" stroke="#333" stroke-width="0.45" fill="none"/>

<g font-family="Liberation Sans, Arial, sans-serif" fill="#000" stroke="#000" stroke-width="0.07">
<text x="81.8" y="66" font-size="2.5" text-anchor="end">Plasmids</text>
<text x="82.4" y="68.5" font-size="2.3" text-anchor="end">AMR genes</text>
<text x="86" y="71" font-size="2.55" text-anchor="end">Virulence genes</text>
<text x="69.3" y="79" font-size="3.3">Antigenic profile</text>
<text x="90" y="87.9" font-size="2.6">Serotype</text>
<text x="93.8" y="93.2" font-size="2.4">cgMLST</text>
<text x="104.7" y="99.7" font-size="2.4">MLST</text>
</g>

</svg>
<div class="lg" style="left:472px;top:83px;width:71px;height:54.5px;border:0.6px solid #efefef;white-space:nowrap">
<div style="position:absolute;left:1.2px;top:-0.3px;font-size:5.6px;font-weight:bold">Serotype</div>
<div style="position:absolute;left:1.2px;top:7.9px;width:68.5px;height:0;border-top:0.5px solid #999"></div>
<div style="position:absolute;left:1.2px;top:11.2px;width:7.3px;height:7.2px;background:#1ec97f;box-sizing:border-box;border:0.5px solid rgba(0,0,0,0.12)"></div>
<div style="position:absolute;left:11.8px;top:11.3px;font-size:5.45px;line-height:7px;color:#222">S. arizonae</div>
<div style="position:absolute;left:1.2px;top:21.9px;width:7.3px;height:7.2px;background:#5ab0e6;box-sizing:border-box;border:0.5px solid rgba(0,0,0,0.12)"></div>
<div style="position:absolute;left:11.8px;top:22px;font-size:5.45px;line-height:7px;color:#222">S. Bovismorbificans</div>
<div style="position:absolute;left:1.2px;top:32.6px;width:7.3px;height:7.2px;background:#d4a6e6;box-sizing:border-box;border:0.5px solid rgba(0,0,0,0.12)"></div>
<div style="position:absolute;left:11.8px;top:32.7px;font-size:5.45px;line-height:7px;color:#222">S. Paratyphi B var. Java</div>
<div style="position:absolute;left:1.2px;top:43.3px;width:7.3px;height:7.2px;background:#f58072;box-sizing:border-box;border:0.5px solid rgba(0,0,0,0.12)"></div>
<div style="position:absolute;left:11.8px;top:43.4px;font-size:5.45px;line-height:7px;color:#222">S. Enteritidis</div>
</div><div class="lg" style="left:491px;top:148.5px;width:36px;border:0.6px solid #e4e4e4;background:#fff"><div style="font-size:4.6px;font-weight:bold;text-align:center;line-height:7.25px;height:14.5px">Virulence<br>genes</div><div style="height:6.9px;line-height:6.9px;background:#fde6e3;font-size:4.6px;text-align:center">40</div><div style="height:6.9px;line-height:6.9px;background:#fcd6d1;font-size:4.6px;text-align:center">50</div><div style="height:6.9px;line-height:6.9px;background:#fbc7c0;font-size:4.6px;text-align:center">60</div><div style="height:6.9px;line-height:6.9px;background:#fab7ae;font-size:4.6px;text-align:center">70</div><div style="height:6.9px;line-height:6.9px;background:#f9a89e;font-size:4.6px;text-align:center">80</div><div style="height:6.9px;line-height:6.9px;background:#f8998d;font-size:4.6px;text-align:center">90</div><div style="height:6.9px;line-height:6.9px;background:#f7897c;font-size:4.6px;text-align:center">100</div><div style="height:6.9px;line-height:6.9px;background:#f57a6b;font-size:4.6px;text-align:center">110</div><div style="height:6.9px;line-height:6.9px;background:#f36b5c;font-size:4.6px;text-align:center">120</div></div><div class="lg" style="left:491px;top:232.5px;width:36px;border:0.6px solid #e4e4e4;background:#fff"><div style="font-size:4.6px;font-weight:bold;text-align:center;line-height:7.50px;height:7.5px">AMR genes</div><div style="height:6.9px;line-height:6.9px;background:#eaf9f2;font-size:4.6px;text-align:center">0</div><div style="height:6.9px;line-height:6.9px;background:#d0f3e3;font-size:4.6px;text-align:center">1</div><div style="height:6.9px;line-height:6.9px;background:#b0ead2;font-size:4.6px;text-align:center">2</div><div style="height:6.9px;line-height:6.9px;background:#95e2c1;font-size:4.6px;text-align:center">3</div><div style="height:6.9px;line-height:6.9px;background:#6fd8aa;font-size:4.6px;text-align:center">4</div><div style="height:6.9px;line-height:6.9px;background:#1ec883;font-size:4.6px;text-align:center">5</div><div style="height:6.9px;line-height:6.9px;background:#17c27c;font-size:4.6px;text-align:center">6</div><div style="height:6.9px;line-height:6.9px;background:#12ba74;font-size:4.6px;text-align:center">7</div><div style="height:6.9px;line-height:6.9px;background:#0db36c;font-size:4.6px;text-align:center">8</div></div><div class="lg" style="left:491px;top:308.8px;width:36px;border:0.6px solid #e4e4e4;background:#fff"><div style="font-size:4.6px;font-weight:bold;text-align:center;line-height:7.15px;height:14.3px">Plasmid<br>replicons</div><div style="height:6.9px;line-height:6.9px;background:#e8f8f1;font-size:4.6px;text-align:center">0</div><div style="height:6.9px;line-height:6.9px;background:#b8ecd6;font-size:4.6px;text-align:center">1</div><div style="height:6.9px;line-height:6.9px;background:#8ee2c0;font-size:4.6px;text-align:center">2</div><div style="height:6.9px;line-height:6.9px;background:#1cc882;font-size:4.6px;text-align:center">3</div><div style="height:6.9px;line-height:6.9px;background:#13bf78;font-size:4.6px;text-align:center">4</div><div style="height:6.9px;line-height:6.9px;background:#0db870;font-size:4.6px;text-align:center">5</div></div>
</body></html>
